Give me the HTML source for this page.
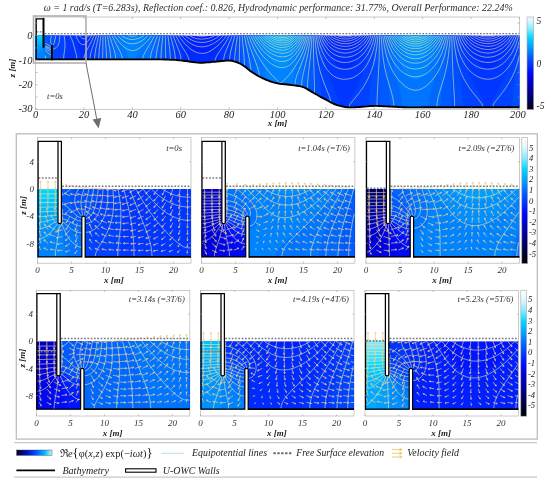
<!DOCTYPE html>
<html><head><meta charset="utf-8"><title>U-OWC potential field</title>
<style>
html,body{margin:0;padding:0;background:#fff}
body{width:550px;height:482px;overflow:hidden}
svg{display:block}
text{font-family:"Liberation Serif","DejaVu Serif",serif;font-style:italic;fill:#222}
.tk{font-size:9px;fill:#333}
.tk2{font-size:10.5px;fill:#222}
.ax{font-size:9px;font-weight:bold;fill:#222}
.tl{font-size:8.6px;fill:#333}
.cb{font-size:9.5px;fill:#222}
.cbs{font-size:8.6px;fill:#222}
.ti{font-size:9.4px;fill:#2a2a2a}
.lg{font-size:10px;fill:#222}
</style></head><body>
<svg width="550" height="482" viewBox="0 0 550 482">
<rect width="550" height="482" fill="#fff"/>
<text class="ti" x="43.7" y="10.7" textLength="469" lengthAdjust="spacingAndGlyphs">ω = 1 rad/s (T=6.283s), Reflection coef.: 0.826,  Hydrodynamic performance: 31.77%, Overall Performance: 22.24%</text>
<rect x="35.6" y="17.0" width="483.8" height="92.3" fill="#fff" stroke="#b4b4b4" stroke-width="0.7"/>
<clipPath id="ctop"><path d="M35.6 35.5L35.6 59.4L38.0 59.4L40.4 59.4L42.9 59.4L45.3 59.4L47.7 59.4L50.1 59.4L52.5 59.4L55.0 59.4L57.4 59.4L59.8 59.4L62.2 59.4L64.6 59.4L67.0 59.4L69.5 59.4L71.9 59.4L74.3 59.4L76.7 59.4L79.1 59.4L81.6 59.4L84.0 59.4L86.4 59.4L88.8 59.4L91.2 59.4L93.7 59.4L96.1 59.4L98.5 59.4L100.9 59.4L103.3 59.4L105.8 59.4L108.2 59.4L110.6 59.4L113.0 59.4L115.4 59.4L117.8 59.4L120.3 59.4L122.7 59.4L125.1 59.4L127.5 59.4L129.9 59.4L132.4 59.4L134.8 59.4L137.2 59.4L139.6 59.4L142.0 59.4L144.5 59.4L146.9 59.4L149.3 59.4L151.7 59.4L154.1 59.4L156.6 59.4L159.0 59.4L161.4 59.4L163.8 59.5L166.2 59.5L168.6 59.6L171.1 59.7L173.5 59.8L175.9 59.9L178.3 60.2L180.7 60.4L183.2 60.7L185.6 61.0L188.0 61.3L190.4 61.7L192.8 62.0L195.3 62.4L197.7 62.6L200.1 62.7L202.5 62.7L204.9 62.5L207.3 62.4L209.8 62.2L212.2 61.9L214.6 61.7L217.0 61.5L219.4 61.3L221.9 61.0L224.3 60.8L226.7 60.6L229.1 60.5L231.5 60.7L234.0 61.3L236.4 62.1L238.8 63.0L241.2 64.2L243.6 65.7L246.1 67.6L248.5 69.5L250.9 71.4L253.3 73.0L255.7 74.5L258.1 75.9L260.6 77.2L263.0 78.4L265.4 79.5L267.8 80.4L270.2 81.3L272.7 82.1L275.1 82.8L277.5 83.3L279.9 83.7L282.3 84.0L284.8 84.2L287.2 84.5L289.6 84.8L292.0 85.1L294.4 85.4L296.9 85.7L299.3 86.1L301.7 86.6L304.1 87.4L306.5 88.6L308.9 90.1L311.4 91.6L313.8 93.0L316.2 94.3L318.6 95.7L321.0 97.1L323.5 98.4L325.9 99.7L328.3 101.0L330.7 102.3L333.1 103.5L335.6 104.5L338.0 105.3L340.4 105.9L342.8 106.5L345.2 107.0L347.7 107.3L350.1 107.4L352.5 107.4L354.9 107.3L357.3 107.1L359.7 107.0L362.2 106.8L364.6 106.6L367.0 106.4L369.4 106.1L371.8 106.0L374.3 105.9L376.7 105.9L379.1 106.0L381.5 106.1L383.9 106.2L386.4 106.4L388.8 106.5L391.2 106.6L393.6 106.7L396.0 106.8L398.5 107.0L400.9 107.1L403.3 107.2L405.7 107.3L408.1 107.4L410.5 107.4L413.0 107.4L415.4 107.4L417.8 107.4L420.2 107.4L422.6 107.3L425.1 107.3L427.5 107.3L429.9 107.3L432.3 107.3L434.7 107.3L437.2 107.2L439.6 107.2L442.0 107.2L444.4 107.2L446.8 107.2L449.2 107.2L451.7 107.2L454.1 107.2L456.5 107.2L458.9 107.2L461.3 107.2L463.8 107.2L466.2 107.2L468.6 107.2L471.0 107.2L473.4 107.2L475.9 107.2L478.3 107.2L480.7 107.2L483.1 107.2L485.5 107.2L488.0 107.2L490.4 107.2L492.8 107.2L495.2 107.2L497.6 107.2L500.0 107.2L502.5 107.2L504.9 107.2L507.3 107.2L509.7 107.2L512.1 107.2L514.6 107.2L517.0 107.2L519.4 107.2L519.4 35.5z"/></clipPath>
<g clip-path="url(#ctop)">
<rect x="35.6" y="35.5" width="483.8" height="73.8" fill="#0015ff"/>
<path fill="#0020ff" d="M35.6 108.4l483.8 0 0-72.9-25 0-2.8 1.6-1.2 0.4-2.4 0.3-2.5-0.3-1.2-0.3-3.1-1.7-129.6 0-2.7 1.6-1.2 0.4-2.5 0.3-2.4-0.3-1.2-0.4-2.8-1.6-127 0-3.2 2.2-2.5 1-2.4 0.6-2.4 0.2-2.4-0.4-2.4-0.8-2.5-1.5-1.6-1.3-156.8 0 0 71.7z"/>
<path fill="#002bff" d="M35.6 108.4l483.8 0 0-72.9-15.4 0-1.5 3-2.5 4-1.2 1.6-2.4 2.8-1.2 1.1-2.4 1.6-2.4 1-2.4 0.4-2.5-0.3-2.4-0.9-2.4-1.5-1.2-1-2.4-2.5-2.5-3.2-3.4-6.1-110.2 0-1.8 3.6-1.9 3.1-1.2 1.7-2.4 2.9-1.2 1.1-2.4 1.7-2.4 1-2.5 0.4-2.4-0.3-2.4-1-2.4-1.7-1.2-1.1-2.5-2.9-1.2-1.8-1.7-3.1-1.6-3.6-109.2 0-2.4 4-2.4 3.6-4.8 5.9-2.4 2.4-2.5 1.9-1.2 0.7-2.4 0.7-1.2 0-2.4-0.7-2.4-1.6-2.5-2.3-2.4-2.9-2.4-3.3-2.4-3.7-2.7-4.7-98.9 0-1.2 0.2-0.4-0.2-48 0 0 71.7z"/>
<path fill="#0036ff" d="M35.6 108.4l25.4 0 0-47.8 4.8-0.4 10.9-0.4 4.3-0.4-0.3-3.6-0.7-3.6-4.3-16.7-40.1 0 0 71.7zM86.7 108.4l98 0-0.2-50.2-0.5-3.6-1.1-4.8-4.6-14.3-86.4 0-4.8 16.7-1 6 0 1.2 0.6 1.2 0 46.6zM219.9 108.4l299.5 0 0-72.9-9.4 0-2.7 8.7-2.2 5.6-2.6 5.7-2.5 4-2.4 3.3-1.2 1.3-2.4 2.1-2.4 1.4-2.4 0.7-1.2 0.1-2.5-0.3-1.2-0.4-2.4-1.2-2.4-1.9-1.2-1.2-2.4-3-3.7-5.9-2.4-5.1-2.4-6.4-2.3-7.5-98.3 0-2.2 7.5-2.4 6.6-2.5 5.4-2.4 4.3-2.4 3.3-1.2 1.4-2.4 2.2-2.4 1.4-2.5 0.7-1.2 0.1-2.4-0.3-1.2-0.4-2.4-1.3-2.4-2.2-1.2-1.4-2.5-3.5-2.4-4.6-2.4-6-2.3-7.2-1.5-6-97.7 0-5.2 15.5-0.9 3.6-0.6 3.6-0.2 3.6 0 45.4z"/>
<path fill="#0042ff" d="M35.6 108.4l17.5 0 0-47.8 1.9-0.6 1.2-0.1 8.9-0.5 0.7-13.1-0.3-4.8-0.9-6-29 0 0 71.7zM93.6 108.4l82.9 0 0-51.4-0.9-8.4-2.3-13.1-77 0-2 13.1-0.7 8.4 0 50.2zM228.5 108.4l111.3 0 0-3.6-0.9-3.6-7-16.4-2.4-6.7-2.7-9.1-2.1-8.3-1.3-6.1-1.7-9.5-1.5-9.6-88.2 0-2.4 13.1-1 8.4-0.1 50.2zM347 108.4l139 0-0.2-2.4-0.9-2.4-6.6-11.4-3.7-6.9-3.6-8-2.4-6.4-2.4-7.5-2.4-9.1-2-9.2-1.7-9.6-88.6 0-1.6 9.6-1.7 8.4-2.4 9.7-2.4 7.9-2.4 6.7-2.5 5.7-3.6 7.5-6.5 11.4-1 2.4-0.4 2.4zM489.8 108.4l29.6 0 0-72.9-4.3 0-1.7 9.7-2.5 10.8-2.4 8.8-2.4 7.3-2.4 6.3-2.4 5.5-3.7 7.3-6.8 12.4-0.9 2.4-0.1 1.2z"/>
<path fill="#004fff" d="M35.6 108.4l11.1 0 0-47.8 4.6-0.2 1-1 0.1-13.1 0.1-0.4 1.5-0.8 0.9-1.2 0.5-1.2 1-3.6 0.5-3.6-21.3 0 0 71.7zM99.1 108.4l70.8 0 0-51.4-0.4-8.4-0.9-13.1-68.4 0-0.8 13.1-0.3 8.4 0 50.2zM235.2 108.4l85.8 0 0-13.2-0.3-8.3-2.9-33.5-1.3-17.9-79.8 0-1.1 14.3-0.4 8.4 0 49zM369 108.4l94 0-0.1-6-0.6-7.2-4.5-35.8-2.1-23.9-79.9 0-2.1 23.9-4.1 34.7-0.5 7.1-0.1 6zM512.2 108.4l7.2 0 0-68.3-2.2 21.7-4.2 32.3-0.6 7.1-0.2 6z"/>
<path fill="#005bff" d="M35.6 108.4l5 0 0-47.8 10.7-0.5 0.8-0.7-0.1-8.4-0.5-4.7-0.2-0.8-0.8-0.4-2-2.4-1.3-2.4-0.2-1.2 0.3-1.2 1.4-2.4-13.1 0 0 71.7zM104.4 108.4l59.2 0 0-51.4 0.4-21.5-59.9 0 0.3 21.5 0 50.2zM241.5 108.4l71.6 0 0-72.9-72 0 0.4 25.1 0 46.6zM379.8 108.4l71.7 0 0-72.9-71.7 0 0 71.7z"/>
<path fill="#0068ff" d="M109.9 108.4l47.2 0 0-51.4 0.6-8.4 1.5-13.1-51.1 0 1.3 13.1 0.5 8.4 0 50.2zM248.2 108.4l58.5 0 0-21.5 0.2-8.4 2.8-43-64.4 0 2.1 19.1 0.7 9.6 0.1 43zM390 108.4l51 0 0.1-7.2 0.5-7.1 3.9-34.7 2-23.9-63.7 0 1.9 23.9 3.6 33.5 0.5 7.1 0.2 7.2zM35.6 59.4l0 1.1 15.7-0.6 0.5-0.5-0.1-7.2-0.4-3.6-1.2-0.2-1.2-0.3-3.6-1.9-1.2-0.2-0.1-10.5-8.4 0 0 22.7z"/>
<path fill="#0075ff" d="M116.4 108.4l33.1 0 0.1-51.4 0.3-3.6 0.9-4.8 3.3-13.1-41.7 0 2.9 13.1 0.7 4.8 0.4 3.6 0 50.2zM256 108.4l44.5 0 0-22.7 0.4-7.2 1-9.5 3.1-21.6 1.5-11.9-57 0 4.7 22.7 1 6 0.5 4.8 0.3 4.7 0 33.5zM402.7 108.4l25.4 0 0.2-4.8 0.9-6 1.5-5.9 5.2-18.4 2.5-9.7 2.8-13.8 2.3-14.3-55.8 0 2.3 14.8 2.4 12.1 2.4 10.1 5.4 19.2 1.4 5.9 0.8 4.8 0.3 4.8zM35.6 59.4l0 0.7 15.7-0.5 0.2-0.2-0.2-7.5-1.2-0.2-1.2-0.5-1.2-0.7-2.4-2.3-0.5-0.8-0.7-0.4-0.3-1.9 0-9.6-8.2 0 0 22.7z"/>
<path fill="#0083ff" d="M128.9 108.4l7 0 0.1-50.2 0.8-2.4 1.2-2.4 6.5-10.9 3.6-7-30.4 0 3.8 8.1 5.4 9.8 1.2 2.4 0.6 2.4 0.2 1.2 0 47.8zM266.1 108.4l26.8 0 0-23.9 0.4-6 1.7-8.3 5.5-21.8 2.6-12.9-49.2 0 3 10.3 6.5 19.6 1.3 4.8 0.8 3.5 0.5 3.6 0.1 2.4 0 27.5zM413.7 79.7l1.7 0.2 1.2-0.1 2.4-0.8 1.2-0.8 1.2-0.9 2.4-2.6 3.7-5.3 3.2-6.4 2.8-7.1 3.1-9.6 2.7-10.8-47.5 0 1.8 7.8 2.4 8.5 2.5 7 2.4 5.7 2.4 4.8 3.6 5.4 2.4 2.5 1.2 1 2.5 1.3zM35.6 59.4l0 0.3 10.2-0.3-0.2-2.4-1.1-4.8-0.9-5.9 0.1-10.8-8.1 0 0 22.7z"/>
<path fill="#0090ff" d="M279.9 67.8l1.2 0.1 1.2-0.1 1.2-0.4 1.3-0.7 2.4-2.3 2.4-3.3 2.4-4.6 2.4-5.6 2.5-6.6 2.5-8.8-41.1 0 2.3 5.4 2.4 5.3 3.6 6.9 2.4 4 2.5 3.5 2.4 2.9 2.4 2.3 2.4 1.6zM411.7 60.6l2.5 0.8 1.2 0.1 2.4-0.4 2.4-1.1 1.2-0.9 2.4-2.2 1.9-2.3 1.8-2.7 2.4-4.4 2.4-5.4 2.4-6.6-38.5 0 3.5 9.1 3.6 7.2 1.9 2.8 1.7 2.2 1.2 1.3 2.4 1.9zM35.6 54.6l1.2-0.1 1.2-0.5 1.2-0.9 1.2-1.3 2.5-3.9 0.4-1.6 0.3-10.8-8 0 0 17.9zM128.2 36.7l1.7 0.7 1.3 0.2 2.4 0 2.4-0.6 2.6-1.5-12.3 0 1.2 0.8z"/>
<path fill="#009eff" d="M279.7 52.2l1.4 0.1 2.4-0.5 2.5-1.3 2.4-2.4 1.2-1.5 2.4-4 3.3-7.1-31.9 0 2 3.5 2.4 3.7 3.7 4.4 3.6 3.2 2.4 1.3 1.2 0.4zM35.6 48.6l0 1.2 2.4-0.4 4.9-2.6 0.3-2.9 0.3-8.4-7.9 0 0 11.9zM412.1 47.5l2.1 0.7 2.4 0 2.4-0.8 2.4-1.4 2.4-2.3 1.3-1.4 2.4-3.4 1.8-3.3-27.7 0 2.9 5 2.4 3.1 2.4 2.2 2.5 1.5z"/>
<path fill="#00abff" d="M35.6 46.3l0 0.4 1.2-0.1 6.1-1 0.5-10.1-7.8 0 0 9.6zM278.4 41.5l2.7 0.2 2.4-0.6 1.3-0.6 2.4-1.9 2.6-3.1-20.1 0 1.8 1.8 2.4 2 2.4 1.4 1.2 0.5zM412 36.7l2.2 0.6 2.4 0 2.4-0.7 1.9-1.1-11 0 1.9 1.1z"/>
<path fill="#00b8ff" d="M35.6 42.7l0 1.1 7.3-0.3 0.3-8-7.6 0 0 6z"/>
<path fill="#00c4ff" d="M35.6 40.3l0 1 7.3-0.2 0.2-5.6-7.5 0 0 3.6z"/>
<path fill="#00d1ff" d="M35.6 37.9l0 0.8 7.3 0 0.1-3.2-7.4 0 0 1.2z"/>
<path fill="#10daff" d="M35.6 35.5l0 0.7 7.3 0 0-0.7-6.1 0z"/>
<path fill="none" stroke="#f0f0a8" stroke-opacity="0.62" stroke-width="0.9" d="M353.4 35.5l-2.1 0.7-2.4 0.5-3.7 0.3-2.4-0.1-2.4-0.4-3.4-1M496.2 35.5l-3.4 1-2.4 0.4-2.4 0.1-2.5-0.1-2.4-0.3-3.9-1.1M357.4 35.5l-2.5 1.4-3.6 1.3-2.4 0.6-3.7 0.2-3.6-0.2-2.4-0.5-3.6-1.4-2.5-1.4M500.3 35.5l-2.7 1.4-3.6 1.3-2.4 0.6-3.6 0.2-3.7-0.2-2.4-0.5-3.6-1.1-3.4-1.7M360.5 35.5l-3.2 2.3-3.6 1.8-3.6 1.1-2.4 0.4-2.5 0.2-2.4-0.2-2.4-0.3-3.6-1.2-3.7-1.8-2.9-2.3M503.5 35.5l-3.5 2.4-3.6 1.7-3.6 1.1-2.4 0.4-2.4 0.2-2.5-0.2-2.4-0.3-3.6-1-3.6-1.6-2.5-1.4-1.7-1.3M208.3 35.5l-3.4 0.7-3.6 0.1-2.4-0.1-3.4-0.7M363 35.5l-3.3 3-2.4 1.7-2.4 1.3-2.4 1-2.4 0.7-2.4 0.4-2.5 0.1-2.4-0.1-2.4-0.4-2.4-0.7-2.4-1-3.7-2.2-2.4-2-1.7-1.8M506.1 35.5l-3.6 3.2-2.5 1.6-2.4 1.3-2.4 0.9-2.4 0.7-2.4 0.4-2.4 0.1-2.5-0.1-2.4-0.4-2.4-0.6-2.4-0.8-2.4-1.1-2.5-1.5-2.4-1.8-2-1.9M215.1 35.5l-2.9 1.5-3.6 1.2-3.7 0.7-3.6 0.2-3.6-0.3-2.4-0.6-2.5-0.9-3.6-1.8M365.3 35.5l-1.9 2.4-2.4 2.3-2.5 1.9-2.4 1.5-2.4 1.1-2.4 0.9-2.4 0.5-3.7 0.3-3.6-0.3-2.4-0.5-2.4-0.8-2.5-1.2-2.4-1.5-2.4-2.1-2.4-2.7-1.3-1.8M508.5 35.5l-2.4 2.8-2.4 2.2-2.4 1.8-2.5 1.4-2.4 1.1-2.4 0.8-2.4 0.5-3.6 0.3-3.7-0.3-2.4-0.4-3.6-1.2-2.4-1.1-2.5-1.5-2.4-1.8-2.4-2.3-2-2.3M219.7 35.5l-3.9 2.8-2.4 1.3-2.4 1.1-2.4 0.8-2.5 0.6-2.4 0.3-2.4 0.1-3.6-0.4-2.4-0.6-2.5-0.9-3.6-2-2.4-1.6-1.8-1.5M367.4 35.5l-1.6 2.4-2.4 3-2.4 2.4-3.7 2.7-2.4 1.3-3.6 1.3-2.4 0.6-3.7 0.3-3.6-0.3-2.4-0.5-3.6-1.4-2.5-1.3-2.4-1.8-2.4-2.4-2.4-3.1-2-3.2M510.7 35.5l-2.2 3.1-2.4 2.7-2.4 2.2-3.7 2.6-3.6 1.8-2.4 0.8-2.4 0.5-3.6 0.3-3.7-0.3-3.6-0.8-3.6-1.3-2.5-1.3-3.6-2.6-2.4-2.3-2.4-2.9-1.8-2.5M89 35.5l-1.4 1.5-1.2 0.9-1.2 0.7-1.2 0.2-1.2-0.2-1.2-0.6-1.2-1.1-1.1-1.4M223.3 35.5l-2.6 2.8-2.5 2-2.4 1.8-3.6 2.1-3.6 1.5-2.5 0.7-2.4 0.4-2.4 0-2.4-0.2-2.4-0.5-2.5-0.9-2.4-1.2-2.4-1.5-2.4-1.8-2.4-2.2-2.8-3M369.4 35.5l-2.4 4.2-2.4 3.4-2.4 2.6-3.7 3-2.4 1.5-3.6 1.6-3.6 1-3.7 0.3-3.6-0.3-3.6-0.9-3.7-1.6-2.4-1.6-2.4-2.1-1.2-1.2-2.1-2.7-2.3-3.6-1.8-3.6M512.8 35.5l-1.9 3.2-2.4 3.4-2.4 2.7-3.6 3.2-3.7 2.3-3.6 1.6-3.6 0.9-3.6 0.3-3.7-0.3-3.6-0.8-3.6-1.4-3.7-2.1-3.6-2.9-2.4-2.5-2.4-3.2-2.6-4.4M91.7 35.5l-2.9 4.6-2.4 2.8-1.2 0.9-1.2 0.7-1.2 0.2-1.2-0.3-0.9-0.5-1.6-1.7-1.7-3.1-1.5-3.6M226.6 35.5l-2.3 3.2-3.6 4.1-2.5 2.4-3.6 3.1-3.6 2.4-2.4 1.3-2.5 0.9-1.2 0.3-2.4 0.2-3.6-0.3-2.4-0.7-3.7-1.8-2.4-1.7-2.4-2.1-3.6-3.6-3.7-4.5-2.2-3.2M371.2 35.5l-1.8 4.1-2.4 4.3-2.4 3.3-3.6 3.8-3.7 2.7-3.6 1.9-3.6 1.1-2.4 0.4-2.5 0.2-3.6-0.3-3.6-0.9-3.7-1.6-2.4-1.6-1.2-1-2.4-2.3-1.2-1.5-2.4-3.5-2.4-4.7-1.8-4.4M514.8 35.5l-2.7 5.4-2.4 3.8-2.4 3-3.6 3.6-3.7 2.5-3.6 1.8-3.6 1.1-2.4 0.4-2.4 0.2-2.5-0.1-2.4-0.4-3.6-1-3.6-1.6-3.7-2.4-3.6-3.2-2.9-3.5-1.9-2.9-1.2-2.2-2.2-4.5M64.1 108.4l0-47.8 12.8-1.2-0.2-2.4-0.4-2.4-3.2-11.9-1.2-3.1-2-4.1M189.1 108.4l0-46.6-0.2-2.4-0.8-2.4-1.8-3.6-6.8-10.8-3.8-7.1M94.2 35.5l-3 6.4-5.4 10.3-1.4 3.6-0.5 2.4-0.1 2.4 0 47.8M229.5 35.5l-1.6 3-2.4 4.1-8.1 12-1.3 2.4-0.8 2.4-0.3 2.4 0 46.6M373 35.5l-2.4 6.5-2.4 4.9-2.4 3.8-1.2 1.6-2.4 2.7-3.7 3.1-2.4 1.5-2.4 1.1-3.6 1.2-2.4 0.4-2.5 0.2-2.4-0.1-2.4-0.4-3.6-1.1-3.7-2-2.4-1.8-1.2-1.1-2.4-2.8-1.2-1.6-2.4-4.1-2.5-5.5-2-6.5M516.7 35.5l-2.1 5.5-2.7 5.3-1.4 2.3-2 2.7-3.6 4-3.6 2.9-2.5 1.5-2.4 1.1-2.4 0.8-2.4 0.6-3.6 0.3-2.5-0.2-2.4-0.3-2.4-0.6-2.4-0.9-2.4-1.2-2.5-1.5-3.6-2.9-3.6-4.1-2.4-3.6-1.2-2.1-1.8-3.6-2.2-6M57.2 108.4l0-47.8 1.4-0.5 1.2-0.3 3.8-0.4 0.2-3.6 1-7.2 0.2-3.5-0.2-4.8-0.7-4.8M181.1 108.4l0-47.8-0.2-2.4-0.6-3.6-1.2-3.6-6.1-15.5M96.5 35.5l-4.8 14.3-1 3.6-0.6 3.6-0.1 2.4 0 49M232.3 35.5l-2 5-4.4 10.5-1.3 3.6-0.8 3.6-0.1 2.4 0 47.8M374.7 35.5l-1.9 7.2-1.3 3.6-1.5 3.5-1.8 3.6-1.2 2-1.9 2.8-1.7 2.1-3.7 3.5-2.4 1.7-2.4 1.4-2.4 1-2.4 0.8-2.4 0.4-2.5 0.2-2.4-0.1-2.4-0.4-2.4-0.7-2.4-1-3.7-2.3-2.4-2.1-1.2-1.3-1.6-2-2-3.1-2.4-4.8-2.5-6.5-1.2-4.4-1.1-5.1M518.5 35.5l-1.3 4.8-1.2 3.6-2.6 6.2-1.9 3.3-1.8 2.8-3.6 4.5-3.6 3.3-2.5 1.6-2.4 1.4-2.4 1-2.4 0.7-2.4 0.4-2.4 0.1-2.5-0.1-2.4-0.4-2.4-0.6-2.4-0.9-2.4-1.2-2.5-1.5-2.4-1.9-2.4-2.4-1.7-2-1.9-2.6-2.1-3.4-1.6-3.1-2.4-6.2-2.1-7.4M51.9 108.4l0-47.8 0.5-1.2 0.1-10.3 1.2-0.1 1.3-0.5 1.2-0.9 1.2-1.3 0.7-1.2 0.5-1.2 0.7-2.4 0.3-2.4 0.2-3.6M175.3 108.4l0-47.8-0.1-3.6-0.4-3.6-0.7-3.6-3.7-14.3M519.4 40.6l-2 8-1.2 3.6-1.6 4.3-2 4.1-1.7 2.9-3.6 5.1-2.4 2.7-2.4 2.2-2.5 1.8-2.4 1.4-2.4 1.1-3.6 1.1-2.4 0.3-2.5 0-2.4-0.3-3.6-0.9-2.4-1-2.4-1.3-2.5-1.7-2.4-2-2.4-2.4-2.4-3.1-1.6-2.3-2-3.6-1.7-3.6-1.4-3.6-1.2-3.6-1.3-4.7-1.9-9.6M98.7 35.5l-3.1 14.3-0.5 3.6-0.4 3.6-0.1 51.4M234.9 35.5l-4.1 15.5-0.7 3.6-0.4 3.6 0 50.2M376.4 35.5l-0.9 5.2-1.2 5.6-1.2 4.4-1.3 3.7-1.5 3.8-2.1 4.3-1.7 2.9-1.9 2.7-2.4 2.9-2.5 2.3-2.4 1.9-2.4 1.4-2.4 1.2-2.4 0.7-2.4 0.5-3.7 0.3-2.4-0.2-2.4-0.6-2.4-0.8-2.5-1.2-2.4-1.7-2.4-2.3-2.4-2.9-1.2-1.8-2.1-3.6-1.5-3.4-2.5-6.7-1.2-4.5-1-4.5-1.5-9.6M47.2 108.4l0-47.8 4.1-0.1 1-1.1 0-13.1 0.2-1 0.5-0.2 0.8-1.2 0.5-1.2 1.5-7.2M170.4 108.4l-0.1-51.4-0.5-7.2-1.9-14.3M330.7 108.4l-0.1-7.2-0.5-2.4-1.2-3.6-4.2-10.4-2.4-6.7-2.1-6.7-1.6-6.4-1.2-6-1.2-7.7-0.8-7.4-0.7-8.4M482.8 108.4l-0.1-2.4-1.1-2.4-2.6-3.6-6.8-8.3-3.6-5-3.6-5.9-1.9-3.5-1.8-3.9-2.4-6.7-1.2-4.1-1.2-5-1.8-10.2-1.3-11.9M519.4 55.1l-1.2 5.3-1.8 6.2-1.8 5-2.5 5.5-2.4 4.5-3.6 5.8-3.6 5-7.9 10-1.3 2.4-0.4 1.2-0.1 2.4M100.8 35.5l-1.6 14.3-0.4 7.2-0.1 51.4M237.4 35.5l-2.1 15.5-0.7 7.2 0 50.2M378 35.5l-1.1 10.8-1.5 9.5-1.1 5.2-1.2 4.6-2.5 7.2-1.2 2.9-2.4 5.1-3.6 6.2-4.9 6.8-8 9.8-0.7 1.2-0.5 1.2-0.2 2.4M165.7 108.4l0-51.4-0.4-21.5M314.5 108.4l0-21.5-0.9-29.9-0.3-21.5M454.7 108.4l-0.3-10.8-1.3-21.5-0.6-11.9-0.7-28.7M45.3 60.5l6-0.2 0.8-0.9 0-8.4-0.3-4.7-0.2-1.2-0.7-2.4-0.3-2.4 0.3-2.4 0.7-2.4M103 35.5l-0.3 21.5-0.1 51.4M239.8 35.5l-0.5 25.1 0 47.8M379.6 35.5l-0.6 27.5-1.8 33.4-0.3 12M161 108.4l0-51.4 0.4-7.2 1.4-14.3M307.4 108.4l0-20.3 0.2-6 0.6-6 2.5-22.7 0.7-8.3 0.6-9.6M436.8 108.4l0.2-4.8 1-6 1.3-4.7 4.8-15.6 1.5-6 1.2-5.7 1.1-6.2 0.9-7.2 0.8-8.3 0.6-8.4M45.3 60.3l6-0.2 0.7-0.7-0.1-8.4-0.2-2.4-0.4-2.3-1.2-0.2-3.6-2.1-1.2-0.6M105.1 35.5l1.1 14.3 0.4 7.2 0 51.4M242.1 35.5l1.8 19.1 0.5 8.4 0.1 45.4M381.1 35.5l1.2 15.5 0.9 7.2 0.9 6 1 5.3 1.6 6.6 4.9 16.8 1.2 4.7 1 6 0.1 4.8M156 108.4l0.1-51.4 0.4-3.6 0.6-3.6 3.1-14.3M301.6 108.4l0-22.7 0.3-4.8 1.3-7.2 3.3-13.7 1.7-7.8 1.4-8.3 1-8.4M45.3 60.1l6-0.1 0.5-0.6-0.1-7.2-0.4-4.1-1.2-0.1-1.2-0.4-3.6-1.8M107.3 35.5l2.6 14.3 0.8 7.2 0.1 51.4M244.4 35.5l1.7 8.8 3.5 16.3 1.1 7.2 0.1 3.6 0 37M382.7 35.5l0.8 6 1.1 5.9 1 4.8 1.3 4.8 1.6 4.8 1.5 3.7 1.6 3.5 2 3.8 2.4 3.8 2.5 3.2 2.4 2.7 3.6 3.3 2.4 1.7 3.6 1.8 2.5 0.7 2.4 0.3 2.4-0.3 2.4-0.6 3.6-1.8 2.5-1.7 3.6-3.3 2.4-2.6 2.4-3.2 2.5-3.6 2.4-4.4 1.5-3.4 1.9-4.8 1.4-4.2 1.2-4.5 1.2-5.4 1.8-11M150.4 108.4l0-49 0.1-2.4 0.7-3.6 1-3.6 5.3-14.3M295 108.4l0-22.7 0.1-2.4 0.3-2.4 0.5-2.4 1.1-3.6 5.9-14.8 2.4-7 2.2-8 1.8-9.6M45.3 60l6-0.2 0.4-0.4-0.1-6-0.3-3.9-1.2-0.1-1.2-0.4-3.6-2.2M109.5 35.5l4.9 15.5 0.8 3.6 0.3 2.4 0.2 2.4 0 49M246.5 35.5l1.3 4.8 1.9 5.8 7.6 20.5 1.1 3.6 0.6 2.3 0.4 3.6 0 32.3M384.3 35.5l0.8 4.3 1.3 4.8 2.4 7.4 1.6 3.8 2 4 1.9 3.2 1.7 2.4 2.5 2.9 2.4 2.4 2.4 1.9 2.4 1.6 2.4 1.1 2.4 0.9 2.5 0.5 2.4 0.2 2.4-0.2 2.4-0.5 2.4-0.8 2.5-1.2 2.4-1.5 2.4-1.9 2.4-2.4 2.4-2.8 1.9-2.6 1.8-2.8 1.7-3.2 1.9-4.2 1.2-3.1 1.5-4.6 1.2-4.8 1.1-4.8M142.8 108.4l0.1-50.2 0.5-2.4 1.6-3.6 6.7-11.1 3-5.6M45.3 59.8l6-0.2 0.2-0.2-0.2-8-1.2-0.2-1.2-0.4-1.2-0.7-2.4-2.2M112 35.5l2.2 5 5.6 10.5 1.2 2.4 0.8 2.4 0.5 2.4 0.1 50.2M248.6 35.5l2.3 6.1 3.1 7 2.9 5.6 3.7 6 4.8 6.9 3.6 4.7 3.7 4.1 7.2 7.3 1.2-0.2 0.9-0.9 0.3-0.2 3.7-3.5 3.6-3.9 4.8-6.9 3.7-5.8 3.6-6.9 2.4-5.8 2.1-6.4 1.8-7.2M385.8 35.5l2.2 7.2 2.4 5.9 1.8 3.6 1.4 2.3 1.7 2.5 1.9 2.5 3.7 3.6 2.4 1.9 2.4 1.4 2.4 1.2 2.4 0.8 2.5 0.4 2.4 0.2 2.4-0.2 2.4-0.4 2.4-0.8 2.5-1.1 2.4-1.5 2.4-1.8 3.6-3.5 3.7-4.8 1.6-2.7 1.9-3.6 2.5-6.1 2.2-7M45.3 59.6l6.1-0.2-0.1-4.9-1.2-0.2-1.2-0.5-1.2-0.9-1.2-1.4-1.2-1.9M114.6 35.5l2 3.2 2.5 3.2 2.4 2.7 2.4 2.3 3.6 2.4 2.4 0.9 2.5 0.4 2.4-0.3 2.4-0.9 2.4-1.4 2.4-1.8 2.5-2.2 2.4-2.5 2.4-2.8 2.3-3.2M250.7 35.5l2.6 5.7 3.6 6.5 3.7 5.3 2.4 3 2.4 2.7 3.6 3.4 2.5 1.8 2.4 1.5 2.4 1.1 2.4 0.8 2.4 0.4 1.2 0 2.5-0.3 1.2-0.4 2.4-1.1 1.2-0.7 3.6-3.5 2.4-2.9 3.7-5.3 2.4-4.5 2.7-6.3 2.3-7.2M387.4 35.5l2.6 6.7 2.4 4.8 2.4 3.8 3.7 4.4 3.6 3.2 2.4 1.7 2.4 1.2 3.6 1.3 2.5 0.5 2.4 0.1 2.4-0.1 2.4-0.5 3.6-1.2 2.5-1.3 2.4-1.6 3.6-3.1 3.6-4.3 3.2-4.8 2.3-4.8 2.3-6M45.3 59.4l0.6 0-0.1-1.2-0.5-2.6M117.7 35.5l1.4 1.6 2.4 2.3 3.6 2.5 2.4 1.1 1.2 0.3 1.2 0.3 2.5 0.2 3.6-0.4 3.6-1.4 2.4-1.4 2.5-1.7 3.6-3.4M252.7 35.5l3 5.5 3.7 5.4 3.6 4.4 3.6 3.6 3.6 2.8 2.5 1.5 2.4 1.2 3.6 1.2 3.6 0.4 2.5-0.3 1.2-0.2 2.4-0.9 1.2-0.6 2.4-2 2.4-2.3 3.7-4.6 2.4-3.9 2.4-4.8 2.5-6.4M389 35.5l2.2 4.8 2.7 4.8 3.3 4.3 3.7 3.6 3.6 2.5 3.6 1.8 3.7 1 3.6 0.4 2.4-0.2 2.4-0.4 3.6-1.3 3.7-2 3.6-2.8 3.6-3.8 2.5-3.3 2.4-4 2.5-5.4M121.5 35.5l2.4 1.6 2.4 1.2 3.6 1 2.5 0.2 2.4-0.2 3.6-0.9 2.4-1.1 3-1.8M254.7 35.5l3.1 4.8 2.8 3.6 3.6 4 3.6 3.2 3.7 2.5 3.6 1.8 3.6 1.1 3.6 0.4 3.7-0.4 3.6-1.4 2.4-1.8 2.4-2.2 2.5-2.8 2.4-3.4 2.4-4.2 2.3-5.2M390.6 35.5l2.7 4.8 2.7 3.9 2.5 2.8 3.6 3.2 2.4 1.6 3.6 1.7 3.7 1 3.6 0.4 3.6-0.4 3.6-1 3.7-1.7 3.6-2.5 3.6-3.4 2.4-3 2.5-3.6 2-3.8M127.9 35.5l2 0.4 2.5 0.2 2.4-0.2 2.2-0.4M256.7 35.5l2.7 3.6 3.6 4.2 2.4 2.3 3.6 2.9 3.7 2.2 2.4 1.1 3.6 1.1 3.6 0.4 3.7-0.4 2.4-0.8 1.2-0.5 1.2-0.8 2.4-2 2.4-2.4 2.5-3 2.4-3.8 2.1-4.1M392.3 35.5l2.5 3.9 2.4 3.1 2.5 2.4 3.6 2.9 2.4 1.4 3.6 1.5 3.7 0.8 2.4 0.1 3.6-0.3 3.6-1 2.5-1.1 3.6-2.2 2.4-2 2.4-2.4 2.4-2.9 2.8-4.2M258.8 35.5l3 3.6 2.4 2.5 3.6 3 2.4 1.7 3.7 1.9 2.4 0.9 3.6 0.9 2.4 0.2 2.5-0.2 3.6-0.9 1.2-0.5 2.4-1.7 2.4-2.2 2.5-2.6 2.4-3.3 1.9-3.3M394.1 35.5l1.9 2.7 2.5 2.7 2.4 2.3 3.6 2.5 2.4 1.2 2.4 0.9 2.5 0.6 3.6 0.4 3.6-0.4 2.4-0.6 2.4-0.8 3.7-2 2.4-1.8 2.4-2.1 2.4-2.7 2.2-2.9M260.8 35.5l3.4 3.5 2.4 2.1 2.4 1.7 2.5 1.5 2.4 1.2 3.6 1.3 2.4 0.5 2.4 0.2 2.5-0.2 2.4-0.5 2.4-0.9 1.2-0.8 2.4-1.8 2.4-2.4 2.5-2.9 1.6-2.5M395.9 35.5l1.3 1.6 2.5 2.5 2.4 2 2.4 1.6 2.4 1.2 2.4 0.9 2.5 0.6 3.6 0.3 3.6-0.3 2.4-0.6 2.4-0.9 2.5-1.2 2.4-1.6 2.4-1.9 2.4-2.4 1.6-1.8M263 35.5l2.4 2.3 2.4 1.9 2.4 1.6 2.5 1.3 2.4 1.1 2.4 0.8 2.4 0.4 2.4 0.2 3.7-0.3 3.6-1.2 2.4-1.7 2.4-2 2.5-2.7 1.3-1.7M397.9 35.5l1.8 1.8 2.4 2 3.6 2.2 2.4 1.1 2.4 0.8 2.5 0.4 2.4 0.1 2.4-0.1 2.4-0.4 2.4-0.8 2.5-1 3.6-2.2 2.4-2 2-1.9M265.2 35.5l3.8 2.9 2.5 1.5 2.4 1.2 3.6 1.2 2.4 0.5 2.4 0.2 3.7-0.4 3.6-1.2 3.6-2.5 3.4-3.4M400 35.5l3.3 2.6 3.6 1.9 3.6 1.3 2.5 0.4 2.4 0.2 2.4-0.2 2.4-0.4 3.6-1.2 3.7-2 3.4-2.6M267.6 35.5l3.9 2.4 3.6 1.7 3.6 1 3.6 0.4 3.7-0.3 3.6-1.2 2.4-1.6 2.8-2.4M402.4 35.5l3.3 2.1 2.4 1 3.7 1 3.6 0.4 3.6-0.4 3.6-1 2.5-1 3.4-2.1M270.3 35.5l3.6 1.8 2.4 0.9 2.4 0.7 3.6 0.3 3.7-0.3 2.4-0.7 1.2-0.5 1.2-0.7 2-1.5M405.2 35.5l2.9 1.4 2.4 0.7 2.5 0.4 2.4 0.2 2.4-0.2 2.4-0.4 2.4-0.7 3.1-1.4M273.4 35.5l4.1 1.4 2.4 0.5 2.4 0.2 2.5-0.1 2.4-0.5 2.4-0.9 1-0.6M409 35.5l2.8 0.7 3.6 0.3 3.6-0.3 2.8-0.7M277.9 35.5l2 0.4 2.4 0.2 2.5-0.2 2.1-0.4"/>
</g>
<path fill="none" stroke="#777" stroke-width="1.3" stroke-dasharray="1.7 1.5" d="M36.6 31.9H42.9M44.8 33.7H519.4"/>
<path fill="none" stroke="#000" stroke-width="1.9" stroke-linejoin="round" d="M35.6 59.4L38.0 59.4L40.4 59.4L42.9 59.4L45.3 59.4L47.7 59.4L50.1 59.4L52.5 59.4L55.0 59.4L57.4 59.4L59.8 59.4L62.2 59.4L64.6 59.4L67.0 59.4L69.5 59.4L71.9 59.4L74.3 59.4L76.7 59.4L79.1 59.4L81.6 59.4L84.0 59.4L86.4 59.4L88.8 59.4L91.2 59.4L93.7 59.4L96.1 59.4L98.5 59.4L100.9 59.4L103.3 59.4L105.8 59.4L108.2 59.4L110.6 59.4L113.0 59.4L115.4 59.4L117.8 59.4L120.3 59.4L122.7 59.4L125.1 59.4L127.5 59.4L129.9 59.4L132.4 59.4L134.8 59.4L137.2 59.4L139.6 59.4L142.0 59.4L144.5 59.4L146.9 59.4L149.3 59.4L151.7 59.4L154.1 59.4L156.6 59.4L159.0 59.4L161.4 59.4L163.8 59.5L166.2 59.5L168.6 59.6L171.1 59.7L173.5 59.8L175.9 59.9L178.3 60.2L180.7 60.4L183.2 60.7L185.6 61.0L188.0 61.3L190.4 61.7L192.8 62.0L195.3 62.4L197.7 62.6L200.1 62.7L202.5 62.7L204.9 62.5L207.3 62.4L209.8 62.2L212.2 61.9L214.6 61.7L217.0 61.5L219.4 61.3L221.9 61.0L224.3 60.8L226.7 60.6L229.1 60.5L231.5 60.7L234.0 61.3L236.4 62.1L238.8 63.0L241.2 64.2L243.6 65.7L246.1 67.6L248.5 69.5L250.9 71.4L253.3 73.0L255.7 74.5L258.1 75.9L260.6 77.2L263.0 78.4L265.4 79.5L267.8 80.4L270.2 81.3L272.7 82.1L275.1 82.8L277.5 83.3L279.9 83.7L282.3 84.0L284.8 84.2L287.2 84.5L289.6 84.8L292.0 85.1L294.4 85.4L296.9 85.7L299.3 86.1L301.7 86.6L304.1 87.4L306.5 88.6L308.9 90.1L311.4 91.6L313.8 93.0L316.2 94.3L318.6 95.7L321.0 97.1L323.5 98.4L325.9 99.7L328.3 101.0L330.7 102.3L333.1 103.5L335.6 104.5L338.0 105.3L340.4 105.9L342.8 106.5L345.2 107.0L347.7 107.3L350.1 107.4L352.5 107.4L354.9 107.3L357.3 107.1L359.7 107.0L362.2 106.8L364.6 106.6L367.0 106.4L369.4 106.1L371.8 106.0L374.3 105.9L376.7 105.9L379.1 106.0L381.5 106.1L383.9 106.2L386.4 106.4L388.8 106.5L391.2 106.6L393.6 106.7L396.0 106.8L398.5 107.0L400.9 107.1L403.3 107.2L405.7 107.3L408.1 107.4L410.5 107.4L413.0 107.4L415.4 107.4L417.8 107.4L420.2 107.4L422.6 107.3L425.1 107.3L427.5 107.3L429.9 107.3L432.3 107.3L434.7 107.3L437.2 107.2L439.6 107.2L442.0 107.2L444.4 107.2L446.8 107.2L449.2 107.2L451.7 107.2L454.1 107.2L456.5 107.2L458.9 107.2L461.3 107.2L463.8 107.2L466.2 107.2L468.6 107.2L471.0 107.2L473.4 107.2L475.9 107.2L478.3 107.2L480.7 107.2L483.1 107.2L485.5 107.2L488.0 107.2L490.4 107.2L492.8 107.2L495.2 107.2L497.6 107.2L500.0 107.2L502.5 107.2L504.9 107.2L507.3 107.2L509.7 107.2L512.1 107.2L514.6 107.2L517.0 107.2L519.4 107.2"/>
<path fill="none" stroke="#000" stroke-width="1.3" d="M36.2 59.4V18.8H44.1"/>
<path fill="none" stroke="#000" stroke-width="2" stroke-linecap="round" d="M43.5 18.8V47.0M51.9 59.4V45.5"/>
<path stroke="#999" stroke-width="0.6" fill="none" d="M35.6 109.3v-2M35.6 17.0v2M84.0 109.3v-2M84.0 17.0v2M132.4 109.3v-2M132.4 17.0v2M180.7 109.3v-2M180.7 17.0v2M229.1 109.3v-2M229.1 17.0v2M277.5 109.3v-2M277.5 17.0v2M325.9 109.3v-2M325.9 17.0v2M374.3 109.3v-2M374.3 17.0v2M422.6 109.3v-2M422.6 17.0v2M471.0 109.3v-2M471.0 17.0v2M519.4 109.3v-2M519.4 17.0v2M35.6 109.3h2M519.4 109.3h-2M35.6 97.0h2M519.4 97.0h-2M35.6 84.7h2M519.4 84.7h-2M35.6 72.4h2M519.4 72.4h-2M35.6 60.1h2M519.4 60.1h-2M35.6 47.8h2M519.4 47.8h-2M35.6 35.5h2M519.4 35.5h-2M35.6 23.2h2M519.4 23.2h-2"/>
<text class="tk2" x="35.6" y="118.0" text-anchor="middle">0</text>
<text class="tk2" x="84.0" y="118.0" text-anchor="middle">20</text>
<text class="tk2" x="132.4" y="118.0" text-anchor="middle">40</text>
<text class="tk2" x="180.7" y="118.0" text-anchor="middle">60</text>
<text class="tk2" x="229.1" y="118.0" text-anchor="middle">80</text>
<text class="tk2" x="277.5" y="118.0" text-anchor="middle">100</text>
<text class="tk2" x="325.9" y="118.0" text-anchor="middle">120</text>
<text class="tk2" x="374.3" y="118.0" text-anchor="middle">140</text>
<text class="tk2" x="422.6" y="118.0" text-anchor="middle">160</text>
<text class="tk2" x="471.0" y="118.0" text-anchor="middle">180</text>
<text class="tk2" x="517.9" y="118.0" text-anchor="middle">200</text>
<text class="tk2" x="32.6" y="111.5" text-anchor="end">-30</text>
<text class="tk2" x="32.6" y="88.1" text-anchor="end">-20</text>
<text class="tk2" x="32.6" y="63.5" text-anchor="end">-10</text>
<text class="tk2" x="32.6" y="38.9" text-anchor="end">0</text>
<text class="ax" transform="translate(14.5 68.0) rotate(-90)" text-anchor="middle">z [m]</text>
<text class="ax" x="277.5" y="125.5" text-anchor="middle">x [m]</text>
<text class="tl" x="47" y="98.6">t=0s</text>
<linearGradient id="cbt" x1="0" y1="0" x2="0" y2="1"><stop offset="0.000" stop-color="#ecfaff"/><stop offset="0.042" stop-color="#dbf5ff"/><stop offset="0.083" stop-color="#b2f0ff"/><stop offset="0.125" stop-color="#89ecff"/><stop offset="0.167" stop-color="#51e4ff"/><stop offset="0.208" stop-color="#16daff"/><stop offset="0.250" stop-color="#00c9ff"/><stop offset="0.292" stop-color="#00b2ff"/><stop offset="0.333" stop-color="#009aff"/><stop offset="0.375" stop-color="#0081ff"/><stop offset="0.417" stop-color="#0068ff"/><stop offset="0.458" stop-color="#0052ff"/><stop offset="0.500" stop-color="#003bff"/><stop offset="0.542" stop-color="#0026ff"/><stop offset="0.583" stop-color="#0012ff"/><stop offset="0.625" stop-color="#0009ef"/><stop offset="0.667" stop-color="#0002dd"/><stop offset="0.708" stop-color="#0000c8"/><stop offset="0.750" stop-color="#0000b1"/><stop offset="0.792" stop-color="#000099"/><stop offset="0.833" stop-color="#000080"/><stop offset="0.875" stop-color="#000067"/><stop offset="0.917" stop-color="#00004e"/><stop offset="0.958" stop-color="#000035"/><stop offset="1.000" stop-color="#00001c"/></linearGradient><rect x="527.0" y="17.0" width="6.7" height="92.6" fill="url(#cbt)" stroke="#aaa" stroke-width="0.6"/>
<text class="cb" x="536.5" y="23.8">5</text>
<text class="cb" x="536.5" y="66.8">0</text>
<text class="cb" x="536.5" y="108.7">-5</text>
<rect x="33.5" y="16" width="52.5" height="47" fill="none" stroke="#b0b0b0" stroke-width="1.6"/>
<path d="M86 63L97.3 122" stroke="#6e6e6e" stroke-width="1" fill="none"/>
<path d="M98.6 128.5L92.6 119.6L101.2 118z" fill="#6e6e6e"/>
<rect x="16.3" y="133.8" width="521" height="305.3" fill="none" stroke="#bdbdbd" stroke-width="1.3"/>
<rect x="37.6" y="137.7" width="153.4" height="125.5" fill="#fff" stroke="#b4b4b4" stroke-width="0.7"/>
<clipPath id="cp0"><rect x="37.6" y="188.9" width="153.4" height="68.0"/></clipPath>
<g clip-path="url(#cp0)">
<rect x="37.6" y="188.9" width="153.4" height="68.0" fill="#0036ff"/>
<path fill="#0042ff" d="M37.6 256.9l82.9 0 0.3-8.9 1.5-18.7 0.2-8.5-0.2-6.8-0.6-8.5-2.6-16.6-81.5 0 0 67.6z"/>
<path fill="#004fff" d="M37.6 256.9l46.1 0 0-34.4 0.2-4.4 1.7 0 1.7-0.5 1.7-1.2 2.1-2.4 1-1.7 1.4-3.4 1.5-5.1 1.3-6.8 1.2-8.1-59.9 0 0 67.6z"/>
<path fill="#005bff" d="M37.6 256.9l45.7 0-0.2-25.9-0.8-13.6-0.1-0.3-1.7-0.6-1.3-0.8-1.8-1.7-2.7-3.4-3.2-5.1-1.3-3.4-0.3-1.7 0-1.7 1-3.4 3.6-6.4-36.9 0 0 67.6z"/>
<path fill="#0068ff" d="M37.6 256.9l45.3 0-0.2-20.8-0.5-10.1-1.7 0-3.4-0.6-3.4-1.4-8.5-4.5-1.7-0.5-3.4-0.2-0.2-4.8 0.1-25.1-22.4 0 0 67.6z"/>
<path fill="#0075ff" d="M37.6 256.9l44.9 0-0.3-21.5-3.4-0.4-3.4-1.1-1.7-0.9-3.4-2.5-6-6.3-4.2-2.9-0.2-0.5-0.2-5.1 0.1-26.8-22.2 0 0 67.6z"/>
<path fill="#0083ff" d="M37.6 256.9l28.8 0-0.6-5.5-3.3-15.3-2.2-13.6-0.9-1.7 0.3-31.9-22.1 0 0 67.6z"/>
<path fill="#0090ff" d="M37.6 242.9l0 0.7 2.1-0.2 1.7-0.5 3.4-1.7 3.4-2.7 3.4-3.8 1.7-2.4 3.4-5.9 1-2.2 0.5-1.7 0.2-0.2 0.6-1.5 0.5-31.9-21.9 0 0 52.3z"/>
<path fill="#009eff" d="M37.6 229.3l0 0.2 0.4 0 3.4-0.4 3.4-1 3.4-1.5 7.1-4.1 3.1-1.4 0.3-2 0.2-6.8 0.4-23.4-21.7 0 0 38.7z"/>
<path fill="#00abff" d="M37.6 219.1l0 1.6 2.1 0 5.1-0.6 10.2-2.2 3.4-0.2 0.7-28.8-21.5 0 0 28.5z"/>
<path fill="#00b8ff" d="M37.6 212.3l0 0.3 2.1 0 18.7-1 0.6-22.7-21.4 0 0 21.7z"/>
<path fill="#00c4ff" d="M37.6 203.8l0 1.5 20.8-0.4 0.4-16-21.2 0 0 13.2z"/>
<path fill="#00d1ff" d="M37.6 197l0 1.1 20.8-0.1 0.2-9.1-21 0 0 6.4z"/>
<path fill="#10daff" d="M37.6 190.2l0 0.9 20.8-0.1 0.1-2.1-20.9 0z"/>
<path fill="none" stroke="#ebf5be" stroke-opacity="0.6" stroke-width="0.95" d="M190.6 197.1l-3.8 0.1-3.4-0.3-3.4-0.5-4.3-1-4.2-1.5-3.4-1.5-5.6-3.1 0-0.4M190.6 206.8l-4.7 0.1-5.1-0.7-5.1-1.3-5.1-2-5.1-2.7-5.1-3.4-5.9-4.9-2.8-2.6 0-0.4M190.6 220.1l-3 0.1-3.4-0.2-2.5-0.5-3.4-0.9-2.6-0.9-3.4-1.5-5.9-3.4-6-4.6-5.9-5.5-3.4-3.7-3.4-4-4.4-5.7 0-0.4M190.6 247.8l-2.1 0.1-2.6-0.3-2.5-1-2.6-1.5-3.4-2.5-4.2-3.7-4.3-4.1-4.2-4.5-7.7-8.9-7.6-10.2-7.7-11.9-5.1-9-0.5-1 0-0.4M152 256.9l-0.2-4.7-0.7-5.1-1.2-5.1-1.8-5.9-3.7-10.2-14.6-36.1-0.1-0.9M134.1 256.9l-0.2-8.1-0.4-7.6-0.8-8.5-1.2-8.5-1.3-7.7-1.7-8.5-4.8-19.1M117.7 256.9l0.4-8.9 2.4-21.3 0.4-9.3-0.1-6-0.4-6.8-0.9-6.8-1.3-8.9M95.2 256.9l0.4-3 0.9-2.5 1.7-3.4 5.3-8.7 3.4-6.4 2.5-5.9 2-6.2 1.4-6.8 0.7-7.7 0-7.6-0.6-9.8M85.6 232.4l2.6-0.3 2.5-0.8 1.7-0.7 2.6-1.6 2.5-2.1 1.7-1.8 1.7-2.3 1.8-2.9 1.2-2.5 1.2-3.4 1-3.4 0.7-3.4 0.6-4.3 0.3-4.2 0.2-9.8M85.6 223.5l1.7-0.2 1.7-0.4 1.7-0.8 1.7-1 1.7-1.5 1.3-1.4 1.3-1.7 1.4-2.5 1.8-4.3 1.5-5.9 1-6.8 0.7-8.1M85.6 218.7l0.9-0.2 1.7-0.7 1.8-1.3 2-2.5 1.8-3.4 1.5-4.3 1-4.2 1.2-6.8 0.8-6.4M85.4 216.3l0.9-0.6 1.2-1.7 1.2-2.6 0.8-2.5 1.7-6.8 2.5-13.2M84.5 215.7l1.9-15.3 2.5-11.5M82.7 215.7l-1.4-8.5-0.3-5.1 0.2-2.6 0.6-3.4 2.1-7.2M81.7 216.2l-0.7-0.5-1.3-1.7-2.5-4.3-1.6-4.2-0.8-3.4 0-3.4 0.5-2.6 1.2-3.4 1.7-3.4 0-0.4M81.4 217.9l-1.9-0.5-2.4-1.4-2.3-2-7.9-7.4-2.5-1.7-1.7-0.8-0.9-0.1M61.8 194.7l1.7-0.5 2.6-1.5 4-3.4 0-0.4M81.4 221.2l-2.6-0.4-2.5-0.8-7.7-4.3-2.5-1.1-2.6-0.7-1.7-0.2M81.4 226l-2.6-0.3-3.4-1-2.5-1.2-6.8-3.7-2.6-0.8-1.7-0.3M81.4 232.9l-2.6-0.3-1.7-0.5-3.4-1.5-3.4-2.3-5.7-5-1.3-0.8-1.5-0.5M81.4 247.3l-2.6-0.5-2.5-1.2-3.4-2.7-2.6-2.7-2.5-3.6-1.7-2.9-4.9-10.6M55.2 256.9l0.4-5.5 2.7-17 1.2-11.1M37.6 239l2.1-0.2 2.6-0.6 2.5-1.2 2.6-1.7 2.5-2.1 1.7-1.8 6.5-8.4M37.6 228.9l3.8-0.4 3.4-0.9 3.4-1.5 6.6-3.6 2.8-0.9M37.6 222.3l3-0.1 3.4-0.5 10.2-2.6 3.4-0.4M37.6 216.9l5.5-0.3 10.2-1.3 4.3-0.2M37.6 212l20-0.9M37.6 207.3l20-0.5M37.6 202.7l20-0.2M37.6 198.2l20-0.1M37.6 193.8l20-0.1"/>
</g>
<clipPath id="ap0"><rect x="37.6" y="137.7" width="153.4" height="125.5"/></clipPath>
<path clip-path="url(#ap0)" fill="none" stroke="#ecca8a" stroke-opacity="0.78" stroke-width="0.9" d="M40.7 188.9L40.6 180.9M40.6 180.9L41.5 182.6M40.6 180.9L39.8 182.6M40.7 195.7L40.6 187.7M40.6 187.7L41.5 189.4M40.6 187.7L39.8 189.5M40.7 202.5L40.6 194.6M40.6 194.6L41.4 196.3M40.6 194.6L39.8 196.3M40.7 209.3L40.5 201.4M40.5 201.4L41.3 203.1M40.5 201.4L39.7 203.2M40.7 216.1L40.3 208.4M40.3 208.4L41.2 210.1M40.3 208.4L39.5 210.2M40.7 222.9L39.9 215.6M39.9 215.6L40.9 217.2M39.9 215.6L39.3 217.4M40.7 229.7L39.6 223.1M39.6 223.1L40.7 224.6M39.6 223.1L39.1 224.9M40.7 236.5L39.4 230.7M39.4 230.7L40.6 232.2M39.4 230.7L39 232.5M40.7 243.3L39.3 238.4M39.3 238.4L40.5 239.8M39.3 238.4L39 240.2M40.7 250.1L38.9 246.4M38.9 246.4L40 247.3M38.9 246.4L38.9 247.9M48 188.9L48 180.9M48 180.9L48.8 182.6M48 180.9L47.2 182.6M48 195.7L47.9 187.7M47.9 187.7L48.8 189.4M47.9 187.7L47.1 189.4M48 202.5L47.9 194.5M47.9 194.5L48.7 196.2M47.9 194.5L47.1 196.3M48 209.3L47.6 201.3M47.6 201.3L48.5 203M47.6 201.3L46.9 203.1M48 216.1L46.9 208.2M46.9 208.2L47.9 209.8M46.9 208.2L46.3 210.1M48 222.9L45.5 215.7M45.5 215.7L46.8 217M45.5 215.7L45.3 217.5M48 229.7L44.3 223.8M44.3 223.8L45.9 224.8M44.3 223.8L44.5 225.7M48 236.5L44 231.9M44 231.9L45.7 232.6M44 231.9L44.5 233.7M48 243.3L44 239.8M44 239.8L45.8 240.3M44 239.8L44.7 241.5M48 250.1L43.8 248M43.8 248L45.5 248M43.8 248L44.8 249.3M55.3 188.9L55.3 180.9M55.3 180.9L56.1 182.6M55.3 180.9L54.5 182.6M55.3 195.7L55.3 187.7M55.3 187.7L56.1 189.4M55.3 187.7L54.5 189.4M55.3 202.5L55.3 194.5M55.3 194.5L56.1 196.2M55.3 194.5L54.5 196.2M55.3 209.3L55.2 201.2M55.2 201.2L56 202.9M55.2 201.2L54.4 202.9M55.3 216.1L54.7 207.8M54.7 207.8L55.6 209.4M54.7 207.8L54 209.6M55.3 222.9L50.9 215.1M50.9 215.1L52.4 216.2M50.9 215.1L51 217M55.3 229.7L48.7 226.2M48.7 226.2L50.6 226.3M48.7 226.2L49.8 227.7M55.3 236.5L49.4 234.3M49.4 234.3L51.2 234.2M49.4 234.3L50.7 235.7M55.3 243.3L50 241.9M50 241.9L51.8 241.5M50 241.9L51.4 243.1M55.3 250.1L50.4 249.3M50.4 249.3L52.1 248.8M50.4 249.3L51.8 250.3M62.7 188.9L61.8 182.7M61.8 182.7L62.9 184.3M61.8 182.7L61.3 184.6M62.7 195.7L61.1 191.2M61.1 191.2L62.3 192.4M61.1 191.2L61 192.9M62.7 202.5L60.9 206.7M60.9 206.7L60.9 205.1M60.9 206.7L62.1 205.7M62.7 209.3L61.8 215.6M61.8 215.6L61.2 213.8M61.8 215.6L62.9 214.1M62.7 216.1L61.9 223.7M61.9 223.7L61.3 221.9M61.9 223.7L62.9 222.1M62.7 222.9L57.5 230.9M57.5 230.9L57.8 229M57.5 230.9L59.1 229.9M62.7 229.7L55.4 231.9M55.4 231.9L56.8 230.6M55.4 231.9L57.3 232.2M62.7 236.5L56.4 237.8M56.4 237.8L57.9 236.6M56.4 237.8L58.3 238.2M62.7 243.3L57.2 244.2M57.2 244.2L58.7 243.1M57.2 244.2L59 244.7M62.7 250.1L57.6 250.6M57.6 250.6L59.2 249.7M57.6 250.6L59.3 251.2M70 188.9L65.4 184M65.4 184L67.2 184.7M65.4 184L66 185.8M70 195.7L64.4 193.3M64.4 193.3L66.3 193.2M64.4 193.3L65.7 194.7M70 202.5L64.2 204.3M64.2 204.3L65.6 203.1M64.2 204.3L66.1 204.6M70 209.3L65.2 214.3M65.2 214.3L65.8 212.5M65.2 214.3L67 213.6M70 216.1L66.2 222.7M66.2 222.7L66.3 220.9M66.2 222.7L67.7 221.7M70 222.9L66 229.6M66 229.6L66.2 227.7M66 229.6L67.5 228.5M70 229.7L65.3 235.1M65.3 235.1L65.8 233.2M65.3 235.1L67.1 234.3M70 236.5L65.4 240.6M65.4 240.6L66.1 238.9M65.4 240.6L67.2 240.1M70 243.3L65.6 246.4M65.6 246.4L66.5 244.8M65.6 246.4L67.5 246.1M70 250.1L65.6 251.9M65.6 251.9L66.7 250.7M65.6 251.9L67.3 252M77.4 188.9L70.9 185.4M70.9 185.4L72.8 185.5M70.9 185.4L72 187M77.4 195.7L70.5 193.9M70.5 193.9L72.4 193.5M70.5 193.9L72 195.1M77.4 202.5L70.2 203M70.2 203L71.9 202.1M70.2 203L72 203.7M77.4 209.3L70.2 212.5M70.2 212.5L71.5 211M70.2 212.5L72.1 212.5M77.4 216.1L72.3 223M72.3 223L72.7 221.1M72.3 223L74 222.1M77.4 222.9L75.1 230.4M75.1 230.4L74.9 228.5M75.1 230.4L76.4 229M77.4 229.7L75.5 236.4M75.5 236.4L75.1 234.5M75.5 236.4L76.7 235M77.4 236.5L75.4 242.2M75.4 242.2L75.2 240.4M75.4 242.2L76.8 240.9M77.4 243.3L75.4 248.1M75.4 248.1L75.3 246.2M75.4 248.1L76.7 246.9M77.4 250.1L74.9 253.5M74.9 253.5L75.2 252.1M74.9 253.5L76.2 252.8M84.7 188.9L77.4 186.4M77.4 186.4L79.3 186.2M77.4 186.4L78.8 187.8M84.7 195.7L77.3 194M77.3 194L79.2 193.6M77.3 194L78.8 195.2M84.7 202.5L77.1 201.7M77.1 201.7L78.9 201M77.1 201.7L78.7 202.7M84.7 209.3L76.4 208.7M76.4 208.7L78.1 208M76.4 208.7L78 209.6M92.1 188.9L84.4 187.3M84.4 187.3L86.2 186.8M84.4 187.3L85.9 188.4M92.1 195.7L84.5 194.2M84.5 194.2L86.3 193.7M84.5 194.2L86 195.3M92.1 202.5L84.5 200.9M84.5 200.9L86.4 200.4M84.5 200.9L86 202M92.1 209.3L84.7 206.6M84.7 206.6L86.5 206.5M84.7 206.6L86 208M92.1 216.1L86.1 211.1M86.1 211.1L88 211.6M86.1 211.1L86.9 212.8M92.1 222.9L88.4 216.9M88.4 216.9L90 218M88.4 216.9L88.6 218.8M92.1 229.7L89.4 224.1M89.4 224.1L90.9 225.3M89.4 224.1L89.4 226M92.1 236.5L89.7 231.6M89.7 231.6L91.2 232.8M89.7 231.6L89.7 233.5M92.1 243.3L89.6 239.2M89.6 239.2L91 240.1M89.6 239.2L89.8 240.9M92.1 250.1L89 247.3M89 247.3L90.4 247.7M89 247.3L89.6 248.6M99.4 188.9L91.6 188.1M91.6 188.1L93.4 187.5M91.6 188.1L93.2 189.1M99.4 195.7L91.8 194.7M91.8 194.7L93.6 194.1M91.8 194.7L93.4 195.7M99.4 202.5L92 201M92 201L93.9 200.6M92 201L93.5 202.1M99.4 209.3L92.4 207M92.4 207L94.3 206.8M92.4 207L93.8 208.3M99.4 216.1L93.1 212.7M93.1 212.7L95 212.8M93.1 212.7L94.3 214.2M99.4 222.9L94.1 218.8M94.1 218.8L96 219.3M94.1 218.8L95 220.5M99.4 229.7L94.9 225.6M94.9 225.6L96.7 226.2M94.9 225.6L95.6 227.4M99.4 236.5L95.3 232.8M95.3 232.8L97.1 233.4M95.3 232.8L96 234.6M99.4 243.3L95.3 240.4M95.3 240.4L97 240.7M95.3 240.4L96.2 241.9M99.4 250.1L95.1 248.4M95.1 248.4L96.7 248.3M95.1 248.4L96.2 249.6M106.8 188.9L99 188.9M99 188.9L100.7 188.1M99 188.9L100.7 189.7M106.8 195.7L99.2 195.4M99.2 195.4L101 194.6M99.2 195.4L100.9 196.3M106.8 202.5L99.5 201.7M99.5 201.7L101.3 201.1M99.5 201.7L101.1 202.7M106.8 209.3L99.8 207.9M99.8 207.9L101.6 207.4M99.8 207.9L101.3 209M106.8 216.1L100.3 214M100.3 214L102.2 213.8M100.3 214L101.7 215.3M106.8 222.9L100.8 220.4M100.8 220.4L102.7 220.3M100.8 220.4L102.1 221.8M106.8 229.7L101.3 227.1M101.3 227.1L103.2 227.1M101.3 227.1L102.5 228.5M106.8 236.5L101.7 234.1M101.7 234.1L103.6 234.1M101.7 234.1L102.9 235.6M106.8 243.3L101.8 241.4M101.8 241.4L103.6 241.3M101.8 241.4L103.1 242.8M106.8 250.1L101.8 249.1M101.8 249.1L103.5 248.6M101.8 249.1L103.2 250.1M114.1 188.9L106.5 189.8M106.5 189.8L108.1 188.8M106.5 189.8L108.3 190.4M114.1 195.7L106.7 196.2M106.7 196.2L108.4 195.3M106.7 196.2L108.5 196.9M114.1 202.5L106.9 202.5M106.9 202.5L108.7 201.7M106.9 202.5L108.7 203.3M114.1 209.3L107.2 208.8M107.2 208.8L109 208.1M107.2 208.8L108.9 209.8M114.1 216.1L107.5 215.2M107.5 215.2L109.4 214.6M107.5 215.2L109.1 216.2M114.1 222.9L107.9 221.6M107.9 221.6L109.8 221.2M107.9 221.6L109.4 222.8M114.1 229.7L108.3 228.3M108.3 228.3L110.1 227.9M108.3 228.3L109.7 229.5M114.1 236.5L108.6 235.2M108.6 235.2L110.4 234.8M108.6 235.2L110 236.3M114.1 243.3L108.7 242.2M108.7 242.2L110.6 241.8M108.7 242.2L110.3 243.4M114.1 250.1L108.8 249.5M108.8 249.5L110.6 248.9M108.8 249.5L110.4 250.5M121.4 188.9L114.1 190.6M114.1 190.6L115.6 189.4M114.1 190.6L116 191M121.4 195.7L114.3 197.1M114.3 197.1L115.8 195.9M114.3 197.1L116.1 197.5M121.4 202.5L114.5 203.4M114.5 203.4L116.1 202.4M114.5 203.4L116.3 204M121.4 209.3L114.7 209.8M114.7 209.8L116.4 208.9M114.7 209.8L116.5 210.5M121.4 216.1L115 216.2M115 216.2L116.7 215.4M115 216.2L116.7 217M121.4 222.9L115.2 222.7M115.2 222.7L117 221.9M115.2 222.7L116.9 223.5M121.4 229.7L115.5 229.3M115.5 229.3L117.3 228.6M115.5 229.3L117.2 230.2M121.4 236.5L115.7 236M115.7 236L117.5 235.3M115.7 236L117.4 237M121.4 243.3L115.9 242.9M115.9 242.9L117.7 242.2M115.9 242.9L117.6 243.8M121.4 250.1L116 249.9M116 249.9L117.8 249.1M116 249.9L117.7 250.7M128.8 188.9L121.9 191.5M121.9 191.5L123.2 190.1M121.9 191.5L123.8 191.6M128.8 195.7L122 197.9M122 197.9L123.4 196.6M122 197.9L123.9 198.2M128.8 202.5L122.1 204.3M122.1 204.3L123.6 203.1M122.1 204.3L124 204.7M128.8 209.3L122.3 210.7M122.3 210.7L123.8 209.6M122.3 210.7L124.2 211.1M128.8 216.1L122.5 217.1M122.5 217.1L124.1 216M122.5 217.1L124.3 217.6M128.8 222.9L122.7 223.6M122.7 223.6L124.3 222.6M122.7 223.6L124.5 224.2M128.8 229.7L122.9 230.1M122.9 230.1L124.6 229.2M122.9 230.1L124.7 230.8M128.8 236.5L123.1 236.7M123.1 236.7L124.8 235.8M123.1 236.7L124.8 237.4M128.8 243.3L123.2 243.4M123.2 243.4L125 242.5M123.2 243.4L125 244.2M128.8 250.1L123.3 250.1M123.3 250.1L125.1 249.3M123.3 250.1L125.1 250.9M136.1 188.9L129.7 192.3M129.7 192.3L130.8 190.8M129.7 192.3L131.6 192.2M136.1 195.7L129.8 198.8M129.8 198.8L131 197.3M129.8 198.8L131.7 198.8M136.1 202.5L129.9 205.2M129.9 205.2L131.2 203.8M129.9 205.2L131.8 205.2M136.1 209.3L130 211.6M130 211.6L131.3 210.2M130 211.6L131.9 211.7M136.1 216.1L130.2 218M130.2 218L131.5 216.7M130.2 218L132 218.2M136.1 222.9L130.3 224.4M130.3 224.4L131.8 223.2M130.3 224.4L132.2 224.7M136.1 229.7L130.4 230.8M130.4 230.8L132 229.7M130.4 230.8L132.3 231.3M136.1 236.5L130.6 237.3M130.6 237.3L132.1 236.3M130.6 237.3L132.4 237.9M136.1 243.3L130.7 243.8M130.7 243.8L132.3 242.8M130.7 243.8L132.5 244.5M136.1 250.1L130.7 250.3M130.7 250.3L132.4 249.5M130.7 250.3L132.5 251.1M143.5 188.9L137.6 193.1M137.6 193.1L138.6 191.5M137.6 193.1L139.5 192.8M143.5 195.7L137.7 199.6M137.7 199.6L138.7 198M137.7 199.6L139.6 199.3M143.5 202.5L137.8 206M137.8 206L138.8 204.4M137.8 206L139.7 205.8M143.5 209.3L137.9 212.4M137.9 212.4L139 210.8M137.9 212.4L139.7 212.3M143.5 216.1L137.9 218.7M137.9 218.7L139.1 217.3M137.9 218.7L139.8 218.7M143.5 222.9L138 225.1M138 225.1L139.3 223.7M138 225.1L139.9 225.2M143.5 229.7L138.1 231.5M138.1 231.5L139.4 230.2M138.1 231.5L140 231.7M143.5 236.5L138.1 237.8M138.1 237.8L139.6 236.6M138.1 237.8L140 238.2M143.5 243.3L138.2 244.2M138.2 244.2L139.7 243.1M138.2 244.2L140 244.7M143.5 250.1L138.2 250.6M138.2 250.6L139.8 249.6M138.2 250.6L139.9 251.2M150.8 188.9L145.7 193.8M145.7 193.8L146.4 192.1M145.7 193.8L147.5 193.2M150.8 195.7L145.8 200.3M145.8 200.3L146.5 198.6M145.8 200.3L147.6 199.8M150.8 202.5L145.8 206.7M145.8 206.7L146.6 205M145.8 206.7L147.6 206.2M150.8 209.3L145.8 213.1M145.8 213.1L146.7 211.4M145.8 213.1L147.7 212.7M150.8 216.1L145.8 219.5M145.8 219.5L146.8 217.8M145.8 219.5L147.7 219.2M150.8 222.9L145.8 225.8M145.8 225.8L146.9 224.3M145.8 225.8L147.7 225.7M150.8 229.7L145.8 232.1M145.8 232.1L147 230.6M145.8 232.1L147.7 232.1M150.8 236.5L145.8 238.4M145.8 238.4L147.1 237M145.8 238.4L147.7 238.5M150.8 243.3L145.8 244.6M145.8 244.6L147.2 243.4M145.8 244.6L147.6 244.9M150.8 250.1L145.8 250.8M145.8 250.8L147.3 249.8M145.8 250.8L147.5 251.3M158.2 188.9L153.9 194.5M153.9 194.5L154.3 192.6M153.9 194.5L155.6 193.6M158.2 195.7L153.9 201M153.9 201L154.4 199.1M153.9 201L155.6 200.1M158.2 202.5L153.9 207.4M153.9 207.4L154.4 205.6M153.9 207.4L155.6 206.6M158.2 209.3L153.9 213.8M153.9 213.8L154.5 212M153.9 213.8L155.7 213.1M158.2 216.1L153.9 220.2M153.9 220.2L154.5 218.4M153.9 220.2L155.7 219.6M158.2 222.9L153.8 226.5M153.8 226.5L154.6 224.8M153.8 226.5L155.6 226M158.2 229.7L153.7 232.7M153.7 232.7L154.7 231.1M153.7 232.7L155.6 232.4M158.2 236.5L153.6 238.9M153.6 238.9L154.7 237.5M153.6 238.9L155.4 238.8M158.2 243.3L153.5 245M153.5 245L154.7 243.8M153.5 245L155.2 245.2M158.2 250.1L153.4 251M153.4 251L154.8 250M153.4 251L155 251.4M165.5 188.9L162.2 195M162.2 195L162.3 193.1M162.2 195L163.7 193.9M165.5 195.7L162.2 201.5M162.2 201.5L162.3 199.6M162.2 201.5L163.7 200.4M165.5 202.5L162.2 208M162.2 208L162.4 206.1M162.2 208L163.7 206.9M165.5 209.3L162.1 214.4M162.1 214.4L162.4 212.5M162.1 214.4L163.7 213.4M165.5 216.1L162 220.8M162 220.8L162.4 218.9M162 220.8L163.7 219.9M165.5 222.9L161.9 227.1M161.9 227.1L162.4 225.3M161.9 227.1L163.7 226.3M165.5 229.7L161.8 233.4M161.8 233.4L162.4 231.6M161.8 233.4L163.5 232.8M165.5 236.5L161.6 239.5M161.6 239.5L162.4 238M161.6 239.5L163.3 239.1M165.5 243.3L161.3 245.5M161.3 245.5L162.3 244.2M161.3 245.5L163 245.4M165.5 250.1L161.1 251.3M161.1 251.3L162.3 250.2M161.1 251.3L162.7 251.6M172.9 188.9L170.6 195.4M170.6 195.4L170.4 193.5M170.6 195.4L171.9 194.1M172.9 195.7L170.6 201.9M170.6 201.9L170.4 200.1M170.6 201.9L171.9 200.6M172.9 202.5L170.5 208.4M170.5 208.4L170.4 206.5M170.5 208.4L171.9 207.1M172.9 209.3L170.5 214.8M170.5 214.8L170.4 212.9M170.5 214.8L171.9 213.6M172.9 216.1L170.4 221.2M170.4 221.2L170.4 219.3M170.4 221.2L171.9 220M172.9 222.9L170.3 227.6M170.3 227.6L170.4 225.7M170.3 227.6L171.8 226.5M172.9 229.7L170.1 233.9M170.1 233.9L170.3 232.2M170.1 233.9L171.6 233M172.9 236.5L169.8 240.1M169.8 240.1L170.2 238.5M169.8 240.1L171.3 239.4M172.9 243.3L169.4 246.1M169.4 246.1L170.1 244.7M169.4 246.1L170.9 245.7M172.9 250.1L169 251.7M169 251.7L170 250.6M169 251.7L170.5 251.8M180.2 188.9L179 195.7M179 195.7L178.5 193.9M179 195.7L180.1 194.1M180.2 195.7L179 202.2M179 202.2L178.5 200.4M179 202.2L180.1 200.7M180.2 202.5L179 208.7M179 208.7L178.5 206.8M179 208.7L180.1 207.2M180.2 209.3L178.9 215.1M178.9 215.1L178.5 213.3M178.9 215.1L180.1 213.6M180.2 216.1L178.9 221.6M178.9 221.6L178.5 219.7M178.9 221.6L180.1 220.1M180.2 222.9L178.8 228M178.8 228L178.5 226.2M178.8 228L180 226.6M180.2 229.7L178.6 234.4M178.6 234.4L178.4 232.7M178.6 234.4L179.8 233.1M180.2 236.5L178.4 240.7M178.4 240.7L178.4 239.1M178.4 240.7L179.6 239.6M180.2 243.3L178 246.8M178 246.8L178.2 245.3M178 246.8L179.2 246M180.2 250.1L177.4 252.4M177.4 252.4L177.9 251.2M177.4 252.4L178.6 252.1M187.5 188.9L187.5 195.8M187.5 195.8L186.7 194.1M187.5 195.8L188.3 194.1M187.5 195.7L187.5 202.3M187.5 202.3L186.7 200.6M187.5 202.3L188.3 200.6M187.5 202.5L187.5 208.8M187.5 208.8L186.7 207.1M187.5 208.8L188.3 207.1M187.5 209.3L187.5 215.3M187.5 215.3L186.7 213.5M187.5 215.3L188.3 213.5M187.5 216.1L187.5 221.7M187.5 221.7L186.7 220M187.5 221.7L188.3 220M187.5 222.9L187.4 228.1M187.4 228.1L186.7 226.5M187.4 228.1L188.3 226.5M187.5 229.7L187.4 234.6M187.4 234.6L186.7 233M187.4 234.6L188.2 233M187.5 236.5L187.4 240.9M187.4 240.9L186.8 239.5M187.4 240.9L188.1 239.5M187.5 243.3L187.3 247.2M187.3 247.2L186.8 245.9M187.3 247.2L187.9 246M187.5 250.1L187.1 253.2M187.1 253.2L186.8 252.2M187.1 253.2L187.7 252.3"/>
<path fill="none" stroke="#7a7a7a" stroke-width="1.6" stroke-dasharray="1.7 1.6" d="M38.6 178.0H57.5M62.2 186.2H191.0"/>
<path fill="none" stroke="#000" stroke-width="1.7" d="M84.7 256.9H191.0"/>
<path fill="#fff" stroke="none" d="M58.0 141.3V222.3a1.70 1.36 0 0 0 3.40 0V141.3z"/>
<path fill="none" stroke="#000" stroke-width="1.25" stroke-linejoin="miter" d="M38.1 257.4V141.3H61.4V222.3a1.70 1.36 0 0 1 -3.40 0V141.3"/>
<path fill="#fff" stroke="none" d="M81.8 262.6V217.5a1.70 1.36 0 0 1 3.40 0V262.6z"/>
<path fill="none" stroke="#000" stroke-width="1.25" d="M38.1 256.9H81.8V217.5a1.70 1.36 0 0 1 3.40 0V257.7"/>
<path stroke="#999" stroke-width="0.6" fill="none" d="M37.6 263.2v-1.5M37.6 137.7v1.5M71.6 263.2v-1.5M71.6 137.7v1.5M105.6 263.2v-1.5M105.6 137.7v1.5M139.6 263.2v-1.5M139.6 137.7v1.5M173.6 263.2v-1.5M173.6 137.7v1.5M37.6 243.3h1.5M191.0 243.3h-1.5M37.6 216.1h1.5M191.0 216.1h-1.5M37.6 188.9h1.5M191.0 188.9h-1.5M37.6 161.7h1.5M191.0 161.7h-1.5"/>
<text class="tk" x="37.6" y="273.4" text-anchor="middle">0</text>
<text class="tk" x="71.6" y="273.4" text-anchor="middle">5</text>
<text class="tk" x="105.6" y="273.4" text-anchor="middle">10</text>
<text class="tk" x="139.6" y="273.4" text-anchor="middle">15</text>
<text class="tk" x="173.6" y="273.4" text-anchor="middle">20</text>
<text class="ax" x="113.8" y="282.8" text-anchor="middle">x [m]</text>
<text class="tk" x="34.1" y="246.5" text-anchor="end">-8</text>
<text class="tk" x="34.1" y="219.3" text-anchor="end">-4</text>
<text class="tk" x="34.1" y="192.1" text-anchor="end">0</text>
<text class="tk" x="34.1" y="164.9" text-anchor="end">4</text>
<text class="ax" transform="translate(26.1 205.4) rotate(-90)" text-anchor="middle">z [m]</text>
<text class="tl" x="182.0" y="150.7" text-anchor="end">t=0s</text>
<rect x="201.5" y="137.7" width="153.4" height="125.5" fill="#fff" stroke="#b4b4b4" stroke-width="0.7"/>
<clipPath id="cp1"><rect x="201.5" y="188.9" width="153.4" height="68.0"/></clipPath>
<g clip-path="url(#cp1)">
<rect x="201.5" y="188.9" width="153.4" height="68.0" fill="#0000c4"/>
<path fill="#0000d1" d="M201.5 256.9l153 0 0-68-132.1 0-0.1 9.8-20.8 0.1 0 57.7z"/>
<path fill="#0002dc" d="M201.5 256.9l153 0 0-68-132 0-0.2 32.3-2.6 1.3-5.9 3.7-3.4 1.8-5.1 1.7-3.8 0.4 0 26.4z"/>
<path fill="#0006e6" d="M215.2 256.9l139.3 0 0-68-131.9 0 0 37-2 9.6-4.7 15.9-0.7 5.1z"/>
<path fill="#0009f0" d="M226.2 256.9l128.3 0 0-68-131.8 0 0.2 31.9 1 1.7 0.8 13.6 1.4 15.3 0.1 5.1z"/>
<path fill="#000dfa" d="M240.6 256.9l113.9 0 0-68-131.7 0 0.3 31.9 0.9 1.3 0.5 0.4 2.9 9.2 3.4 7.9 3.4 5.8 5.2 7.7 0.8 1.7 0.4 1.7z"/>
<path fill="#0015ff" d="M246.3 256.9l108.2 0 0-68-131.5 0 0.1 25.1 0.3 6.8 0.6 1 1.1 0.7 0.6 1.3 0.5 0.4 2.9 4.7 3.4 4.8 3.4 3.4 1.7 1.3 3.4 1.9 1.7 0.5 3.4 0.3 0.2 15.4z"/>
<path fill="#0020ff" d="M246.5 256.9l108 0 0-68-131.4 0 0.1 25.1 0.4 6.8 0.4 0.6 1.7 1.3 2.3 1.5 4.5 4.6 3.4 2.8 3.4 2 1.7 0.6 3.4 0.7 1.7 0.1 0.4 21.5z"/>
<path fill="#002bff" d="M246.6 256.9l107.9 0 0-68-131.3 0 0.2 25.1 0.5 6.8 0.1 0.2 4.1 1.5 6.1 4.2 3.4 2 3.4 1.3 1.7 0.4 3.4 0.3 0.4 10.5 0.1 15.3z"/>
<path fill="#0036ff" d="M246.8 256.9l107.7 0 0-68-131.2 0 0.3 25.1 0.4 6.3 1.7 0 3.4 0.9 6.8 3.5 3.4 1.5 3.4 0.9 3.4 0.2 0.5 10.5 0.2 18.7z"/>
<path fill="#0042ff" d="M247 256.9l107.5 0 0-68-131 0 0.2 21.7 0.3 8.1 3.4 0.1 1.7 0.4 10.2 4.2 3.4 0.8 3.4 0.3 0.6 9.9 0.3 22.1z"/>
<path fill="#004fff" d="M247.1 256.9l107.4 0 0-68-130.9 0 0.4 27.7 3.4 0.1 1.7 0.4 3.4 1 6.6 2.7 1.9 0.5 5.1 0.6 0.5 4 0.3 6.8 0.2 23.8z"/>
<path fill="#005bff" d="M247.3 256.9l107.2 0 0-68-130.8 0 0.3 23.5 3.4 0.1 3.4 0.5 5.1 1.7 6.8 2.9 1.7 0.5 1.7 0.1 0.7 6 0.3 5.1 0.2 27.2z"/>
<path fill="#0068ff" d="M247.5 256.9l91.8 0 0.1-5.5 0.7-6.8 2.1-11.9 4-15.3 7-24 1.3-3.1 0-1.4-130.7 0 0.2 17.2 3.4 0.1 3.4 0.6 3.4 1 3.4 1.5 5.1 3.5 1.7 1.5 0.9 1.4 0.8 0.4 0.6 1.3 0.6 11.9 0.2 27.2z"/>
<path fill="#0075ff" d="M247.6 256.9l71.5 0 0.3-5.5 0.8-5.1 1.3-5.1 2.4-6.8 4.5-10.2 12.9-26.1 3.4-7.5 0.6-1.7-121.4 0 0.1 8.6 3.4 0.1 3.4 0.6 3.4 1.2 3.4 1.7 3.4 2.2 3.4 2.9 2.2 2.7 1.7 3.4 0.4 1.7-0.1 1.7-0.8 0.4-0.4 1.3 0.2 39.1z"/>
<path fill="#0083ff" d="M247.8 256.9l27.7 0 0.2-2.1 1.2-3.4 2-3.4 1.5-1.7 7-6.8 6.3-5.1 13.6-11.9 8.5-8.5 10.2-11.8 5.1-6.8 3.5-5.2 0.4-1.3-96.3 0 0.8 1.3 6.6 5.6 6 6.3 3.5 5.1 0.7 1.9 0.8 1.5 0.8 3.4 0.1 3.4-0.3 3.4-0.4 1.7-1.7 3.4-2.7 2.7-3.4 1.1-1.7 0 0 26.8z"/>
<path fill="#0090ff" d="M283.7 193.6l4.9 0.2 6.8-0.8 6.8-1.9 2.2-0.9 1.9-1.3-36.6 0 1.8 1.3 3.5 1.4 3.4 1 5.1 1z"/>
<path fill="none" stroke="#ebf5be" stroke-opacity="0.6" stroke-width="0.95" d="M221.5 192.2l-20 0M221.5 195.1l-20 0M221.5 197.9l-20 0.2M221.5 200.8l-20 0.2M221.5 203.7l-20 0.2M221.5 206.5l-20 0.4M221.5 209.3l-20 0.7M221.5 212l-15.3 0.9-4.7 0.2M221.5 214.6l-4.3 0.2-10.2 1.2-5.5 0.3M221.5 217l-4.3 0.5-10.2 1.8-5.5 0.4M221.5 219.3l-3.4 0.5-10.2 2.9-3.4 0.6-3 0.1M221.5 221.2l-2.6 0.6-6.8 3.3-3.4 1.4-3.4 0.9-3.8 0.3M221.5 222.5l-1.5 0.8-5.3 4.5-4.3 2.9-1.7 0.8-2.5 0.9-2.6 0.6-2.1 0.1M222.1 223.1l-3.2 5.1-2.5 3.7-1.7 2.2-2.6 2.6-2.5 2-2.6 1.4-2.5 0.9-3 0.4M222.9 223.3l-1.1 6-1.6 6.8-5.1 15.3-0.6 2.5-0.2 3M224.2 223.3l1.9 12.8 3.1 15.3 0.4 5.5M225.1 223.1l5.7 10.2 1.7 2.5 2.6 2.9 2.5 2.2 2.6 1.6 2.5 1 2.6 0.5M225.7 222.5l1.4 0.8 6.3 6 3.4 2.6 1.7 1 2.5 1 2.6 0.6 1.7 0.2M225.7 221.1l1.7 0.4 1.7 0.7 6 3.7 3.4 1.7 3.4 1.1 3.4 0.4M225.7 219l1.7 0.2 2.6 0.7 6.8 3 3.4 1.2 2.5 0.6 2.6 0.2M225.7 216.4l4.3 0.6 2.5 0.8 7.7 2.9 2.5 0.6 2.6 0.3M225.7 213.3l2.6 0.2 3.4 0.7 3.4 1.2 6.8 2.7 3.4 0.7M348.6 256.9l0.3-9.8 1.2-11 1.2-7.7 1.7-9.3 1.1-5.1 0.4 0M225.7 209.8l4.3 0.4 4.2 1.2 3.4 1.5 6 3.2 1.7 0.6M337.9 256.9l0.2-5.5 0.6-6 0.9-5.9 1.2-6 2.9-11 7.8-25.7 2.2-7.9M225.7 205.6l3.4 0.3 2.6 0.5 2.5 0.9 2.6 1.1 2.5 1.4 2.6 1.8 2.5 2.3 1.5 2M325.8 256.9l0.3-5.5 0.7-5.1 1.2-6 1.8-5.9 3.7-10.2 10.4-24.4 3.4-8.4 0.7-2.1 0-0.4M225.7 200.5l3.4 0.3 4.3 1.1 3.4 1.5 3.4 2.1 3.4 2.8 2 2.3 1.4 2.5 0.5 2.6M310.6 256.9l0.2-4.7 1-5.1 1.5-5.1 2.5-5.9 4.9-9.4 15.5-26.1 4.7-8.7 1.2-2.6 0-0.4M225.7 193.7l1.7 0.1 2.6 0.5 2.5 0.9 2.6 1.1 5.1 3 4.4 3.6 3.2 3.6 1.5 2.4 0.7 1.7 0.4 1.7 0 1.7-0.5 1.7-0.6 0.6M281.8 256.9l0.3-3 1-3.4 1.8-3.4 2.5-3.4 5.5-5.9 17.8-17.3 8.5-9.1 5.1-6 4.3-5.5 5.1-7.3 2.1-3.3 0-0.4M237.5 188.9l0 0.4 7.8 6.7 5.2 5.2 2.1 2.6 1.6 2.5 2 4.3 0.6 2.5 0.3 2.6-0.3 2.5-0.8 2.6-1.4 2.4-1.7 1.6-1.7 0.9-1.7 0.4M247.2 188.9l0 0.4 10.2 10.2 8.3 9.1 4.2 3.9 3.4 2.4 3.4 1.5 3.4 1 4.3 0.3 5.1-0.4 5.1-1.4 5.9-2.5 6-3.4 5.9-4.3 6-5.1 6.8-6.9 3.7-4.4 0-0.4M255.7 188.9l0 0.4 0.6 0.6 6.8 5.7 5.1 3.6 4.3 2.5 3.4 1.5 3.4 1.1 3.4 0.6 4.2 0.3 4.3-0.3 4.2-0.8 4.3-1.3 4.2-1.8 5.1-2.7 4.3-2.8 5.9-4.7 1.7-1.5 0-0.4M265.4 188.9l0 0.4 3.7 2.2 3.4 1.6 3.4 1.3 3.4 1 2.5 0.5 3.4 0.4 2.6 0.1 5.9-0.5 6-1.5 3.4-1.2 3.4-1.5 4.4-2.4 0-0.4"/>
</g>
<clipPath id="ap1"><rect x="201.5" y="137.7" width="153.4" height="125.5"/></clipPath>
<path clip-path="url(#ap1)" fill="none" stroke="#ecca8a" stroke-opacity="0.78" stroke-width="0.9" d="M204.6 188.9L204.6 197.7M204.6 197.7L203.8 196M204.6 197.7L205.4 196M204.6 195.7L204.6 204.5M204.6 204.5L203.8 202.8M204.6 204.5L205.4 202.8M204.6 202.5L204.6 211.3M204.6 211.3L203.8 209.6M204.6 211.3L205.4 209.6M204.6 209.3L204.7 218M204.7 218L203.9 216.3M204.7 218L205.5 216.3M204.6 216.1L205 224.6M205 224.6L204.1 222.9M205 224.6L205.7 222.9M204.6 222.9L205.4 231M205.4 231L204.4 229.3M205.4 231L206 229.2M204.6 229.7L205.7 237M205.7 237L204.7 235.5M205.7 237L206.3 235.2M204.6 236.5L205.9 242.9M205.9 242.9L204.8 241.4M205.9 242.9L206.4 241.1M204.6 243.3L206.1 248.7M206.1 248.7L204.8 247.3M206.1 248.7L206.4 246.8M204.6 250.1L206.5 254.2M206.5 254.2L205.3 253.2M206.5 254.2L206.5 252.6M211.9 188.9L211.9 197.7M211.9 197.7L211.1 196M211.9 197.7L212.8 196M211.9 195.7L212 204.5M212 204.5L211.1 202.8M212 204.5L212.8 202.8M211.9 202.5L212.1 211.3M212.1 211.3L211.2 209.6M212.1 211.3L212.8 209.6M211.9 209.3L212.3 218.1M212.3 218.1L211.5 216.4M212.3 218.1L213.1 216.3M211.9 216.1L213.1 224.8M213.1 224.8L212.1 223.2M213.1 224.8L213.7 223M211.9 222.9L214.7 230.9M214.7 230.9L213.4 229.6M214.7 230.9L214.9 229M211.9 229.7L216 236.2M216 236.2L214.4 235.2M216 236.2L215.8 234.3M211.9 236.5L216.3 241.6M216.3 241.6L214.6 240.8M216.3 241.6L215.8 239.8M211.9 243.3L216.3 247.2M216.3 247.2L214.5 246.6M216.3 247.2L215.6 245.4M211.9 250.1L216.5 252.4M216.5 252.4L214.7 252.4M216.5 252.4L215.4 251M219.2 188.9L219.3 197.7M219.3 197.7L218.4 196M219.3 197.7L220.1 196M219.2 195.7L219.3 204.5M219.3 204.5L218.5 202.8M219.3 204.5L220.1 202.8M219.2 202.5L219.3 211.4M219.3 211.4L218.5 209.7M219.3 211.4L220.1 209.6M219.2 209.3L219.4 218.2M219.4 218.2L218.6 216.5M219.4 218.2L220.2 216.5M219.2 216.1L220 225.3M220 225.3L219 223.6M220 225.3L220.7 223.5M219.2 222.9L224 231.1M224 231.1L222.4 230M224 231.1L223.8 229.2M219.2 229.7L226.6 233.5M226.6 233.5L224.7 233.4M226.6 233.5L225.5 232M219.2 236.5L225.9 238.8M225.9 238.8L224 239M225.9 238.8L224.5 237.5M219.2 243.3L225.2 244.9M225.2 244.9L223.3 245.2M225.2 244.9L223.7 243.6M219.2 250.1L224.8 250.9M224.8 250.9L222.9 251.5M224.8 250.9L223.2 249.9M226.6 188.9L227.2 182.9M227.2 182.9L227.8 184.7M227.2 182.9L226.2 184.6M226.6 195.7L227.1 189M227.1 189L227.7 190.8M227.1 189L226.1 190.7M226.6 202.5L227 195.1M227 195.1L227.7 196.9M227 195.1L226.1 196.8M226.6 209.3L227 201.3M227 201.3L227.7 203M227 201.3L226.1 202.9M226.6 216.1L227.2 207.3M227.2 207.3L227.9 209.1M227.2 207.3L226.3 208.9M226.6 222.9L231.6 214.8M231.6 214.8L231.4 216.7M231.6 214.8L230 215.9M226.6 229.7L234.6 227.1M234.6 227.1L233.2 228.4M234.6 227.1L232.7 226.9M226.6 236.5L233.5 235M233.5 235L232 236.2M233.5 235L231.6 234.6M226.6 243.3L232.7 242.3M232.7 242.3L231.1 243.4M232.7 242.3L230.9 241.8M226.6 250.1L232.2 249.6M232.2 249.6L230.5 250.5M232.2 249.6L230.4 248.9M233.9 188.9L237.3 183.5M237.3 183.5L237.1 185.4M237.3 183.5L235.7 184.5M233.9 195.7L236.7 189.5M236.7 189.5L236.8 191.4M236.7 189.5L235.3 190.7M233.9 202.5L236.6 195.6M236.6 195.6L236.7 197.5M236.6 195.6L235.2 196.9M233.9 209.3L236.7 201.7M236.7 201.7L236.9 203.6M236.7 201.7L235.3 203.1M233.9 216.1L236.8 208M236.8 208L237 209.9M236.8 208L235.5 209.4M233.9 222.9L237.9 215.2M237.9 215.2L237.8 217.1M237.9 215.2L236.4 216.4M233.9 229.7L239 223.7M239 223.7L238.5 225.5M239 223.7L237.2 224.5M233.9 236.5L239 231.9M239 231.9L238.3 233.6M239 231.9L237.2 232.4M233.9 243.3L238.8 239.9M238.8 239.9L237.9 241.5M238.8 239.9L236.9 240.2M233.9 250.1L238.8 248.1M238.8 248.1L237.6 249.5M238.8 248.1L237 248M241.3 188.9L246 184M246 184L245.4 185.8M246 184L244.2 184.7M241.3 195.7L245.6 190.1M245.6 190.1L245.2 192M245.6 190.1L243.9 191M241.3 202.5L245.8 196.5M245.8 196.5L245.4 198.4M245.8 196.5L244.1 197.4M241.3 209.3L246.3 202.8M246.3 202.8L245.9 204.7M246.3 202.8L244.6 203.7M241.3 216.1L245.2 208M245.2 208L245.2 209.9M245.2 208L243.7 209.2M241.3 222.9L243.3 214.7M243.3 214.7L243.7 216.6M243.3 214.7L242.1 216.2M241.3 229.7L243.2 222.4M243.2 222.4L243.6 224.2M243.2 222.4L242 223.8M241.3 236.5L243.4 230.2M243.4 230.2L243.6 232.1M243.4 230.2L242 231.6M241.3 243.3L243.5 238.1M243.5 238.1L243.6 240M243.5 238.1L242.1 239.3M241.3 250.1L244 246.3M244 246.3L243.7 247.9M244 246.3L242.6 247.1M248.6 188.9L253.7 184M253.7 184L253 185.8M253.7 184L251.9 184.6M248.6 195.7L253.6 190.6M253.6 190.6L253 192.4M253.6 190.6L251.8 191.3M248.6 202.5L254.1 197.7M254.1 197.7L253.3 199.4M254.1 197.7L252.3 198.2M248.6 209.3L255.5 205.8M255.5 205.8L254.4 207.3M255.5 205.8L253.6 205.8M256 188.9L260.8 183.6M260.8 183.6L260.2 185.5M260.8 183.6L259 184.4M256 195.7L260.8 190.7M260.8 190.7L260.2 192.5M260.8 190.7L259 191.3M256 202.5L261.3 198.2M261.3 198.2L260.5 199.9M261.3 198.2L259.5 198.6M256 209.3L262.2 206.7M262.2 206.7L260.9 208.1M262.2 206.7L260.3 206.6M256 216.1L262 216.8M262 216.8L260.2 217.4M262 216.8L260.4 215.8M256 222.9L260.2 225.1M260.2 225.1L258.5 225M260.2 225.1L259.2 223.8M256 229.7L259.1 231.4M259.1 231.4L257.9 231.4M259.1 231.4L258.4 230.4M256 236.5L258.5 237.2M258.5 237.2L257.6 237.4M258.5 237.2L257.8 236.6M256 243.3L257.7 242.6M257.7 242.6L257.3 243.1M257.7 242.6L257.1 242.6M256 250.1L255.8 248.7M255.8 248.7L256.1 249.1M255.8 248.7L255.7 249.1M263.3 188.9L267.4 183.1M267.4 183.1L267.1 185M267.4 183.1L265.7 184M263.3 195.7L267.5 190.3M267.5 190.3L267.1 192.1M267.5 190.3L265.8 191.2M263.3 202.5L267.8 197.8M267.8 197.8L267.2 199.6M267.8 197.8L266 198.5M263.3 209.3L268.2 205.6M268.2 205.6L267.3 207.3M268.2 205.6L266.3 206M263.3 216.1L268.2 213.7M268.2 213.7L267 215.2M268.2 213.7L266.3 213.8M263.3 222.9L267.7 221.4M267.7 221.4L266.5 222.5M267.7 221.4L266.1 221.2M263.3 229.7L266.8 228.2M266.8 228.2L265.9 229.2M266.8 228.2L265.5 228.2M263.3 236.5L265.6 234.6M265.6 234.6L265.2 235.5M265.6 234.6L264.6 234.8M263.3 243.3L264 240.9M264 240.9L264.2 241.8M264 240.9L263.4 241.6M263.3 250.1L262.2 248.3M262.2 248.3L262.8 248.7M262.2 248.3L262.3 249M270.7 188.9L273.7 182.6M273.7 182.6L273.7 184.5M273.7 182.6L272.2 183.8M270.7 195.7L273.7 189.8M273.7 189.8L273.7 191.7M273.7 189.8L272.2 190.9M270.7 202.5L273.9 197.1M273.9 197.1L273.7 199M273.9 197.1L272.3 198.1M270.7 209.3L274 204.5M274 204.5L273.7 206.4M274 204.5L272.3 205.5M270.7 216.1L273.9 211.9M273.9 211.9L273.5 213.8M273.9 211.9L272.3 212.8M270.7 222.9L273.5 219.2M273.5 219.2L273.1 220.8M273.5 219.2L272 220M270.7 229.7L272.6 226.2M272.6 226.2L272.5 227.6M272.6 226.2L271.5 227M270.7 236.5L271.4 233.1M271.4 233.1L271.7 234.3M271.4 233.1L270.7 234.1M270.7 243.3L269.9 240.4M269.9 240.4L270.6 241.2M269.9 240.4L269.7 241.4M270.7 250.1L268.6 248.3M268.6 248.3L269.5 248.6M268.6 248.3L269 249.2M278 188.9L279.7 182.2M279.7 182.2L280.1 184M279.7 182.2L278.5 183.6M278 195.7L279.8 189.3M279.8 189.3L280.1 191.2M279.8 189.3L278.5 190.8M278 202.5L279.8 196.5M279.8 196.5L280.1 198.4M279.8 196.5L278.5 198M278 209.3L279.7 203.8M279.7 203.8L280 205.7M279.7 203.8L278.4 205.2M278 216.1L279.5 211M279.5 211L279.8 212.9M279.5 211L278.3 212.4M278 222.9L279 218.2M279 218.2L279.4 219.9M279 218.2L278 219.6M278 229.7L278.2 225.4M278.2 225.4L278.8 226.8M278.2 225.4L277.5 226.7M278 236.5L277.2 232.7M277.2 232.7L278 233.8M277.2 232.7L276.9 234M278 243.3L276 240.4M276 240.4L277.1 241M276 240.4L276.2 241.6M278 250.1L275.1 248.5M275.1 248.5L276.3 248.5M275.1 248.5L275.8 249.4M285.3 188.9L285.8 182M285.8 182L286.5 183.8M285.8 182L284.9 183.7M285.3 195.7L285.8 189.1M285.8 189.1L286.5 190.9M285.8 189.1L284.8 190.8M285.3 202.5L285.7 196.3M285.7 196.3L286.4 198.1M285.7 196.3L284.8 198M285.3 209.3L285.5 203.5M285.5 203.5L286.3 205.2M285.5 203.5L284.7 205.2M285.3 216.1L285.2 210.7M285.2 210.7L286.1 212.4M285.2 210.7L284.5 212.4M285.3 222.9L284.7 218M284.7 218L285.7 219.4M284.7 218L284.2 219.6M285.3 229.7L284.1 225.3M284.1 225.3L285.1 226.5M284.1 225.3L283.8 226.9M285.3 236.5L283.2 232.8M283.2 232.8L284.5 233.7M283.2 232.8L283.4 234.3M285.3 243.3L282.4 240.6M282.4 240.6L283.8 241M282.4 240.6L282.9 241.9M285.3 250.1L281.8 248.6M281.8 248.6L283.1 248.6M281.8 248.6L282.7 249.6M292.7 188.9L291.8 182M291.8 182L292.8 183.6M291.8 182L291.2 183.8M292.7 195.7L291.8 189.1M291.8 189.1L292.8 190.7M291.8 189.1L291.2 191M292.7 202.5L291.7 196.3M291.7 196.3L292.8 197.9M291.7 196.3L291.2 198.1M292.7 209.3L291.5 203.5M291.5 203.5L292.6 205M291.5 203.5L291 205.4M292.7 216.1L291.2 210.8M291.2 210.8L292.4 212.2M291.2 210.8L290.9 212.6M292.7 222.9L290.8 218.1M290.8 218.1L292.1 219.3M290.8 218.1L290.6 219.9M292.7 229.7L290.2 225.5M290.2 225.5L291.6 226.5M290.2 225.5L290.4 227.2M292.7 236.5L289.6 233.1M289.6 233.1L291.1 233.7M289.6 233.1L290.1 234.6M292.7 243.3L289 240.9M289 240.9L290.6 241.1M289 240.9L289.8 242.2M292.7 250.1L288.6 248.8M288.6 248.8L290.1 248.6M288.6 248.8L289.7 249.8M300 188.9L298 182.3M298 182.3L299.2 183.7M298 182.3L297.7 184.1M300 195.7L297.9 189.4M297.9 189.4L299.2 190.7M297.9 189.4L297.7 191.3M300 202.5L297.8 196.6M297.8 196.6L299.2 197.9M297.8 196.6L297.7 198.5M300 209.3L297.6 203.8M297.6 203.8L299.1 205M297.6 203.8L297.6 205.7M300 216.1L297.4 211.1M297.4 211.1L298.9 212.2M297.4 211.1L297.5 213M300 222.9L297 218.4M297 218.4L298.6 219.4M297 218.4L297.3 220.3M300 229.7L296.6 225.9M296.6 225.9L298.3 226.6M296.6 225.9L297.1 227.6M300 236.5L296.2 233.4M296.2 233.4L297.9 233.8M296.2 233.4L296.9 235M300 243.3L295.8 241.2M295.8 241.2L297.5 241.2M295.8 241.2L296.8 242.5M300 250.1L295.5 249M295.5 249L297.1 248.7M295.5 249L296.8 250M307.4 188.9L304.2 182.7M304.2 182.7L305.7 183.8M304.2 182.7L304.3 184.6M307.4 195.7L304.2 189.8M304.2 189.8L305.7 190.9M304.2 189.8L304.3 191.7M307.4 202.5L304.1 197M304.1 197L305.7 198M304.1 197L304.3 198.8M307.4 209.3L304 204.2M304 204.2L305.6 205.2M304 204.2L304.2 206.1M307.4 216.1L303.8 211.5M303.8 211.5L305.5 212.3M303.8 211.5L304.2 213.3M307.4 222.9L303.5 218.8M303.5 218.8L305.3 219.5M303.5 218.8L304.1 220.6M307.4 229.7L303.2 226.3M303.2 226.3L305 226.7M303.2 226.3L304 228M307.4 236.5L302.9 233.8M302.9 233.8L304.7 234M302.9 233.8L303.9 235.3M307.4 243.3L302.7 241.4M302.7 241.4L304.4 241.3M302.7 241.4L303.9 242.7M307.4 250.1L302.5 249.1M302.5 249.1L304.2 248.7M302.5 249.1L303.9 250.2M314.7 188.9L310.6 183.2M310.6 183.2L312.3 184.1M310.6 183.2L310.9 185M314.7 195.7L310.6 190.3M310.6 190.3L312.3 191.2M310.6 190.3L311 192.1M314.7 202.5L310.6 197.5M310.6 197.5L312.3 198.3M310.6 197.5L311 199.3M314.7 209.3L310.5 204.7M310.5 204.7L312.2 205.4M310.5 204.7L311 206.5M314.7 216.1L310.3 212M310.3 212L312.1 212.6M310.3 212L311 213.7M314.7 222.9L310.2 219.3M310.2 219.3L312 219.7M310.2 219.3L311 221M314.7 229.7L310 226.7M310 226.7L311.9 226.9M310 226.7L311 228.3M314.7 236.5L309.8 234.2M309.8 234.2L311.7 234.2M309.8 234.2L311 235.6M314.7 243.3L309.6 241.7M309.6 241.7L311.5 241.4M309.6 241.7L311 243M314.7 250.1L309.5 249.3M309.5 249.3L311.3 248.8M309.5 249.3L311 250.3M322.1 188.9L317.1 183.8M317.1 183.8L318.9 184.4M317.1 183.8L317.7 185.6M322.1 195.7L317.2 190.9M317.2 190.9L319 191.5M317.2 190.9L317.8 192.6M322.1 202.5L317.2 198M317.2 198L319 198.6M317.2 198L317.9 199.8M322.1 209.3L317.1 205.2M317.1 205.2L319 205.7M317.1 205.2L317.9 207M322.1 216.1L317.1 212.5M317.1 212.5L318.9 212.8M317.1 212.5L318 214.1M322.1 222.9L317 219.8M317 219.8L318.9 220M317 219.8L318 221.4M322.1 229.7L316.9 227.1M316.9 227.1L318.8 227.2M316.9 227.1L318 228.6M322.1 236.5L316.8 234.5M316.8 234.5L318.7 234.4M316.8 234.5L318.1 235.9M322.1 243.3L316.7 241.9M316.7 241.9L318.5 241.6M316.7 241.9L318.1 243.1M322.1 250.1L316.6 249.4M316.6 249.4L318.4 248.8M316.6 249.4L318.2 250.4M329.4 188.9L323.8 184.4M323.8 184.4L325.6 184.9M323.8 184.4L324.6 186.2M329.4 195.7L323.8 191.5M323.8 191.5L325.7 191.9M323.8 191.5L324.7 193.2M329.4 202.5L323.9 198.6M323.9 198.6L325.8 199M323.9 198.6L324.8 200.3M329.4 209.3L323.9 205.8M323.9 205.8L325.8 206.1M323.9 205.8L324.9 207.4M329.4 216.1L323.9 213M323.9 213L325.8 213.1M323.9 213L325 214.6M329.4 222.9L323.9 220.3M323.9 220.3L325.8 220.3M323.9 220.3L325.1 221.7M329.4 229.7L323.8 227.5M323.8 227.5L325.7 227.4M323.8 227.5L325.2 228.9M329.4 236.5L323.8 234.8M323.8 234.8L325.7 234.5M323.8 234.8L325.2 236.1M329.4 243.3L323.8 242.2M323.8 242.2L325.6 241.7M323.8 242.2L325.3 243.3M329.4 250.1L323.7 249.5M323.7 249.5L325.5 248.9M323.7 249.5L325.4 250.5M336.8 188.9L330.5 185.2M330.5 185.2L332.4 185.4M330.5 185.2L331.6 186.8M336.8 195.7L330.7 192.2M330.7 192.2L332.6 192.4M330.7 192.2L331.7 193.8M336.8 202.5L330.8 199.3M330.8 199.3L332.7 199.4M330.8 199.3L331.9 200.8M336.8 209.3L330.8 206.4M330.8 206.4L332.7 206.4M330.8 206.4L332 207.9M336.8 216.1L330.9 213.6M330.9 213.6L332.8 213.5M330.9 213.6L332.1 215M336.8 222.9L330.9 220.7M330.9 220.7L332.8 220.6M330.9 220.7L332.2 222.1M336.8 229.7L330.9 227.9M330.9 227.9L332.8 227.6M330.9 227.9L332.3 229.2M336.8 236.5L330.9 235.1M330.9 235.1L332.8 234.7M330.9 235.1L332.4 236.3M336.8 243.3L330.9 242.4M330.9 242.4L332.7 241.8M330.9 242.4L332.5 243.4M336.8 250.1L330.9 249.6M330.9 249.6L332.7 249M330.9 249.6L332.5 250.6M344.1 188.9L337.4 185.9M337.4 185.9L339.3 185.9M337.4 185.9L338.7 187.4M344.1 195.7L337.6 192.9M337.6 192.9L339.5 192.8M337.6 192.9L338.8 194.3M344.1 202.5L337.7 200M337.7 200L339.6 199.8M337.7 200L339 201.3M344.1 209.3L337.8 207M337.8 207L339.7 206.8M337.8 207L339.2 208.4M344.1 216.1L337.9 214.1M337.9 214.1L339.8 213.8M337.9 214.1L339.3 215.4M344.1 222.9L338 221.2M338 221.2L339.9 220.9M338 221.2L339.4 222.4M344.1 229.7L338 228.3M338 228.3L339.9 227.9M338 228.3L339.5 229.5M344.1 236.5L338.1 235.4M338.1 235.4L339.9 234.9M338.1 235.4L339.6 236.5M344.1 243.3L338.1 242.6M338.1 242.6L339.9 242M338.1 242.6L339.7 243.6M344.1 250.1L338.1 249.7M338.1 249.7L339.9 249M338.1 249.7L339.8 250.7M351.4 188.9L344.4 186.7M344.4 186.7L346.3 186.4M344.4 186.7L345.8 188M351.4 195.7L344.6 193.6M344.6 193.6L346.5 193.4M344.6 193.6L346 194.9M351.4 202.5L344.8 200.6M344.8 200.6L346.7 200.3M344.8 200.6L346.2 201.9M351.4 209.3L344.9 207.6M344.9 207.6L346.8 207.3M344.9 207.6L346.4 208.8M351.4 216.1L345 214.6M345 214.6L346.9 214.2M345 214.6L346.5 215.8M351.4 222.9L345.1 221.6M345.1 221.6L347 221.2M345.1 221.6L346.7 222.8M351.4 229.7L345.2 228.7M345.2 228.7L347 228.2M345.2 228.7L346.8 229.8M351.4 236.5L345.3 235.7M345.3 235.7L347.1 235.1M345.3 235.7L346.9 236.7M351.4 243.3L345.3 242.8M345.3 242.8L347.1 242.1M345.3 242.8L347 243.7M351.4 250.1L345.3 249.8M345.3 249.8L347.1 249.1M345.3 249.8L347 250.7"/>
<path fill="none" stroke="#7a7a7a" stroke-width="1.6" stroke-dasharray="1.7 1.6" d="M202.5 178.0H221.4M226.1 186.2H354.9"/>
<path fill="none" stroke="#000" stroke-width="1.7" d="M248.6 256.9H354.9"/>
<path fill="#fff" stroke="none" d="M221.9 141.3V222.3a1.70 1.36 0 0 0 3.40 0V141.3z"/>
<path fill="none" stroke="#000" stroke-width="1.25" stroke-linejoin="miter" d="M202.0 257.4V141.3H225.3V222.3a1.70 1.36 0 0 1 -3.40 0V141.3"/>
<path fill="#fff" stroke="none" d="M245.7 262.6V217.5a1.70 1.36 0 0 1 3.40 0V262.6z"/>
<path fill="none" stroke="#000" stroke-width="1.25" d="M202.0 256.9H245.7V217.5a1.70 1.36 0 0 1 3.40 0V257.7"/>
<path stroke="#999" stroke-width="0.6" fill="none" d="M201.5 263.2v-1.5M201.5 137.7v1.5M235.5 263.2v-1.5M235.5 137.7v1.5M269.5 263.2v-1.5M269.5 137.7v1.5M303.5 263.2v-1.5M303.5 137.7v1.5M337.5 263.2v-1.5M337.5 137.7v1.5M201.5 243.3h1.5M354.9 243.3h-1.5M201.5 216.1h1.5M354.9 216.1h-1.5M201.5 188.9h1.5M354.9 188.9h-1.5M201.5 161.7h1.5M354.9 161.7h-1.5"/>
<text class="tk" x="201.5" y="273.4" text-anchor="middle">0</text>
<text class="tk" x="235.5" y="273.4" text-anchor="middle">5</text>
<text class="tk" x="269.5" y="273.4" text-anchor="middle">10</text>
<text class="tk" x="303.5" y="273.4" text-anchor="middle">15</text>
<text class="tk" x="337.5" y="273.4" text-anchor="middle">20</text>
<text class="ax" x="277.7" y="282.8" text-anchor="middle">x [m]</text>
<text class="tl" x="349.9" y="150.7" text-anchor="end">t=1.04s (=T/6)</text>
<rect x="366.0" y="137.7" width="153.4" height="125.5" fill="#fff" stroke="#b4b4b4" stroke-width="0.7"/>
<clipPath id="cp2"><rect x="366.0" y="188.9" width="153.4" height="68.0"/></clipPath>
<g clip-path="url(#cp2)">
<rect x="366.0" y="188.9" width="153.4" height="68.0" fill="#000067"/>
<path fill="#000075" d="M366 256.9l153 0 0-68-132.1 0-0.1 2.1-20.8 0.1 0 65.4z"/>
<path fill="#000083" d="M366 256.9l153 0 0-68-132.1 0-0.1 7.2-20.8 0.1 0 60.3z"/>
<path fill="#000090" d="M366 256.9l153 0 0-68-132 0-0.2 12.3-20.8 0.2 0 55.1z"/>
<path fill="#00009e" d="M366 256.9l153 0 0-68-131.9 0-0.3 17.4-20.8 0.4 0 49.8z"/>
<path fill="#0000ab" d="M366 256.9l153 0 0-68-131.8 0-0.4 22.3-20.8 0.9 0 44.4z"/>
<path fill="#0000b8" d="M366 256.9l153 0 0-68-131.7 0-0.5 26.9-5.1 0.3-10.2 1.5-5.5 0.3 0 38.6z"/>
<path fill="#0000c4" d="M366 256.9l153 0 0-68-131.6 0-0.6 30.8-3.4 0.4-6.8 2.4-5.1 1.4-5.5 0.5 0 32.1z"/>
<path fill="#0000d1" d="M366 256.9l153 0 0-68-131.5 0-0.4 25.1-0.3 7.4-4.2 2.8-4.3 3.3-3.4 2-1.7 0.8-3.4 1.1-3.8 0.4 0 24.7z"/>
<path fill="#0002dc" d="M366 256.9l153 0 0-68-131.4 0-0.4 31.9-0.9 3.4-1.2 2.8-3.4 6.3-1.7 2.6-3.4 4.1-1.7 1.5-3.4 2.4-3.4 1.3-2.1 0.2 0 11.1z"/>
<path fill="#0006e6" d="M384.1 256.9l134.9 0 0-68-131.4 0-0.2 28.5 0 3.4 0.3 1.7 0 3.4-0.9 8.4-2.4 17.1-0.3 5.1z"/>
<path fill="#0009f0" d="M394.3 256.9l124.7 0 0-68-131.3 0-0.1 31.9 1.1 1.7 1.9 13.6 3.2 15.3 0.5 5.1z"/>
<path fill="#000dfa" d="M410.7 256.9l108.3 0 0-68-131.2 0 0 31.9 0.7 1.2 0.7 0.5 2.7 6.9 3.4 7.2 3.4 5.1 3.4 3.7 3.4 2.7 1.7 0.9 1.7 0.5 1.7 0.1 0.1 6.9z"/>
<path fill="#0015ff" d="M410.8 256.9l108.2 0 0-68-131.1 0-0.1 26.8 0.2 5.1 0.5 0.9 1.2 0.8 0.5 1 0.9 0.7 4.2 6 1.7 2.1 3.4 3.4 1.7 1.2 3.4 1.8 1.7 0.5 3.4 0.3 0.2 17z"/>
<path fill="#0020ff" d="M411 256.9l108 0 0-68-131 0-0.1 26.8 0.3 5.1 0.3 0.5 4.5 2.9 5.7 5.4 3.4 2.4 3.4 1.5 1.7 0.4 3.4 0.3 0.4 22.3z"/>
<path fill="#002bff" d="M411.1 256.9l107.9 0 0-68-130.9 0 0 26.8 0.3 5.1 3.5 1 1.4 0.7 7.1 4.9 3.4 1.6 3.4 1.1 3.4 0.2 0.4 9.2 0.1 17z"/>
<path fill="#0036ff" d="M411.3 256.9l107.7 0 0-68-130.8 0 0 26.8 0.3 4.3 3.4 0.3 1.7 0.6 8.5 4.4 3.4 1.3 1.7 0.3 3.4 0.3 0.5 10.6 0.2 18.7z"/>
<path fill="#0042ff" d="M411.5 256.9l107.5 0 0-68-130.7 0 0 23.4 0.2 6 3.4 0.2 1.7 0.5 10.2 4.4 3.4 0.9 3.4 0.3 0.7 9.8 0.2 22.1z"/>
<path fill="#004fff" d="M411.6 256.9l107.4 0 0-68-130.7 0 0.2 27.4 3.4 0.1 1.7 0.3 5.1 1.9 0.7 0.5 2.7 1 1.7 0.9 5.1 1.1 1.7 0 0.5 3.8 0.3 6.8 0.2 23.8z"/>
<path fill="#005bff" d="M411.8 256.9l107.2 0 0-68-130.6 0 0.1 20.6 3.4 0.1 1.7 0.3 3.4 1.1 3.4 1.7 6.8 4 1.7 0.7 1.7 0.1 0.7 6.7 0.3 5.1 0.2 27.2z"/>
<path fill="#0068ff" d="M412 256.9l107 0 0-68-130.5 0 0 0.9 1.7 0 0.2 0.4 1.5 0.9 10.2 10.3 5.1 6.4 1.7 2.7 1.7 3.6 0.8 3.3 0.4 8.5 0.2 30.6z"/>
<path fill="#0075ff" d="M412.1 256.9l106.9 0 0-68-107.3 0 1 4.7 3.1 10.2 0.7 3.4 0.2 3.4-0.7 3.4-0.9 1.7-1.1 0.8-1.7 0.5-0.1 0.4-0.1 39.1z"/>
<path fill="#0083ff" d="M412.3 256.9l99.7 0 0.4-5.5 1.2-6.8 2.7-8.5 1.4-3.5 1.3-2 0-41.7-95.3 0 3.3 9.8 1.8 6.8 0.7 6.8-0.3 5.1-0.8 3.4-1.4 3.4-2.3 3.4-2.2 2.3-3.4 2.2-1.7 0.6-1.7 0.5-3.4 0.1 0 23.2z"/>
<path fill="#0090ff" d="M468.2 222.5l3.6 0.8 3.4 0.2 3.4-0.2 3.4-0.6 3.4-1 3.4-1.3 5.1-2.6 3.4-2.1 5.1-3.7 5.1-4.3 5.1-5 5.1-5.6 1.3-1 0-7.2-83.2 0 0.5 1.3 6.6 10 5.1 6.9 3.4 4 3.4 3.4 5.1 4.1 3.4 2 3.4 1.4z"/>
<path fill="#009eff" d="M473 200.4l3.9 0.3 5.1-0.2 5.1-0.8 3.4-1 5.1-1.9 5.1-2.6 5.1-3.2 1.1-0.8 1.1-1.3-58.1 0 1 1.3 2.2 1.6 3.4 2.4 3.4 1.9 5.1 2.3 3.4 1.1 3.4 0.7z"/>
<path fill="none" stroke="#ebf5be" stroke-opacity="0.6" stroke-width="0.95" d="M386 192.5l-20 0.1M386 195.8l-20 0.1M386 199l-20 0.1M386 202.2l-20 0.2M386 205.4l-20 0.4M386 208.5l-20 0.6M386 211.6l-15.3 0.9-4.7 0.1M386 214.5l-4.3 0.3-10.2 1.1-5.5 0.3M386 217.3l-4.3 0.4-10.2 2-5.5 0.3M386 219.7l-3.4 0.6-6.8 2.3-3.4 1-3.4 0.5-3 0.2M386 221.7l-2.3 0.8-6.2 3.6-4.3 2-3.4 0.9-3.8 0.4M386.3 222.8l-1.5 1.4-4.8 5.2-4.2 3.6-2.6 1.6-2.5 1-2.6 0.6-2.1 0.2M386.9 223.3l-0.9 3.3-2.6 6.4-2.5 5.1-2.6 4-3.4 4.2-3.4 3.3-1.7 1.4-1.7 1-2.1 0.4M388.4 223.3l1.2 33.6M389.5 223.2l5 10.5 1.7 2.8 2.5 3.5 2.6 2.7 3.4 2.5 2.5 1.2 2.6 0.5M390.1 222.6l1.4 0.7 6.4 6.4 3.4 2.6 2.5 1.4 1.7 0.7 1.7 0.5 2.6 0.3M390.2 220.9l1.7 0.3 1.7 0.7 6 3.7 3.4 1.8 3.4 1.1 3.4 0.5M390.2 218.3l1.7 0.2 2.6 0.7 7.6 3.4 2.6 1 2.5 0.6 2.6 0.3M390.2 215.1l2.6 0.2 2.5 0.7 10.2 4.2 2.6 0.6 1.7 0.2M390.2 211l2.6 0.3 3.4 0.9 3.4 1.4 6.8 3.7 1.7 0.6 1.7 0.3M390.2 205.7l1.7 0.1 2.6 0.6 4.2 1.9 3.4 2.2 6.4 5.2 1.4 0.7M390.2 197l2.6 0.5 2.5 1.2 2.6 1.7 3.4 2.9 3.4 3.5 2.5 3.1 2.6 3.9 0.8 1.9M402.3 188.9l0.3 2.1 1.1 3.4 5.2 9.9 2.1 4.6 1 3.4 0.3 3.4M409.9 188.9l0.8 3.8 3.6 11.1 0.9 4.2 0.2 2.6-0.2 2.5-0.6 1.7-0.9 1.4M416.1 188.9l3.7 14 0.5 3.4 0.1 3.4-0.3 2.6-0.5 1.7-1.3 2.5-1.7 1.6-0.9 0.5-1.7 0.4M516.8 256.9l0.2-4.7 0.5-4.2 1.1-5.3 0.4 0M422.1 188.9l0 0.4 3.3 10.2 1.2 5.1 0.5 3.4 0.2 2.6-0.1 2.5-0.4 2.6-0.7 2.5-1 2.5-1.1 1.8-1.5 1.8-1.7 1.5-2.5 1.5-1.7 0.6-2.6 0.4M494.7 256.9l0.3-3.8 0.8-3.4 1.5-4.3 2.1-4.2 3-5.1 3.9-6 12.3-17.6 0.4 0M428.3 188.9l0 0.4 4.1 9.4 2.5 6.8 2.1 6.8 1.4 6.8 1 6.8 0.6 8.5 0.1 7.6 0 14.9M435 188.9l0 0.4 2.8 4.5 7.7 11.6 5.1 6.6 4.2 4.6 4.3 3.6 4.2 2.6 4.3 1.8 2.5 0.6 2.6 0.4 2.5 0.1 2.6-0.2 5.1-1 5.1-1.8 5.9-3.2 6-4 5.9-4.9 6.8-6.5 6-6.8 0.4 0M443 188.9l0 0.4 1.6 1.9 6 5.9 4.2 3.6 5.1 3.3 4.3 2.2 4.2 1.4 4.3 1 5.1 0.3 4.2-0.3 5.1-1 5.1-1.8 5.1-2.3 5.1-3.1 5.1-3.7 6-5.2 2.2-2.2 0-0.4M453.3 188.9l0 0.4 4.9 3.1 3.4 1.8 3.4 1.3 3.4 1.1 3.4 0.7 3.4 0.5 3.4 0.1 3.4-0.2 3.4-0.5 3.4-0.8 3.4-1 3.4-1.3 4.3-2.1 4.5-2.7 0-0.4"/>
</g>
<clipPath id="ap2"><rect x="366.0" y="137.7" width="153.4" height="125.5"/></clipPath>
<path clip-path="url(#ap2)" fill="none" stroke="#ecca8a" stroke-opacity="0.78" stroke-width="0.9" d="M369.1 188.9L369.1 198M369.1 198L368.3 196.3M369.1 198L369.9 196.3M369.1 195.7L369.1 204.8M369.1 204.8L368.3 203.1M369.1 204.8L369.9 203.1M369.1 202.5L369.1 211.6M369.1 211.6L368.3 209.9M369.1 211.6L369.9 209.8M369.1 209.3L369.2 218.3M369.2 218.3L368.4 216.6M369.2 218.3L370 216.6M369.1 216.1L369.5 224.9M369.5 224.9L368.6 223.2M369.5 224.9L370.2 223.1M369.1 222.9L369.9 231.2M369.9 231.2L368.9 229.6M369.9 231.2L370.5 229.4M369.1 229.7L370.3 237.3M370.3 237.3L369.2 235.7M370.3 237.3L370.8 235.4M369.1 236.5L370.5 243.1M370.5 243.1L369.3 241.6M370.5 243.1L370.9 241.3M369.1 243.3L370.6 248.9M370.6 248.9L369.4 247.4M370.6 248.9L370.9 247M369.1 250.1L371.1 254.3M371.1 254.3L369.8 253.3M371.1 254.3L371.1 252.7M376.4 188.9L376.4 198M376.4 198L375.6 196.3M376.4 198L377.3 196.3M376.4 195.7L376.5 204.8M376.5 204.8L375.6 203.1M376.5 204.8L377.3 203.1M376.4 202.5L376.6 211.6M376.6 211.6L375.7 209.9M376.6 211.6L377.3 209.9M376.4 209.3L376.9 218.4M376.9 218.4L376 216.7M376.9 218.4L377.6 216.6M376.4 216.1L377.7 225.1M377.7 225.1L376.6 223.5M377.7 225.1L378.2 223.3M376.4 222.9L379.3 231.2M379.3 231.2L378 229.8M379.3 231.2L379.5 229.3M376.4 229.7L380.7 236.4M380.7 236.4L379.1 235.4M380.7 236.4L380.4 234.6M376.4 236.5L381 241.8M381 241.8L379.2 241M381 241.8L380.5 240M376.4 243.3L381 247.3M381 247.3L379.1 246.8M381 247.3L380.2 245.6M376.4 250.1L381.1 252.5M381.1 252.5L379.3 252.5M381.1 252.5L380 251M383.7 188.9L383.8 198M383.8 198L383 196.3M383.8 198L384.6 196.3M383.7 195.7L383.8 204.8M383.8 204.8L383 203.1M383.8 204.8L384.6 203.1M383.7 202.5L383.8 211.7M383.8 211.7L383 209.9M383.8 211.7L384.6 209.9M383.7 209.3L384 218.5M384 218.5L383.1 216.8M384 218.5L384.7 216.8M383.7 216.1L384.5 225.6M384.5 225.6L383.6 223.9M384.5 225.6L385.2 223.8M383.7 222.9L388.5 231.1M388.5 231.1L386.9 230M388.5 231.1L388.3 229.2M383.7 229.7L391.4 233.6M391.4 233.6L389.5 233.6M391.4 233.6L390.2 232.1M383.7 236.5L390.6 238.9M390.6 238.9L388.7 239.1M390.6 238.9L389.2 237.6M383.7 243.3L389.9 244.9M389.9 244.9L388 245.3M389.9 244.9L388.4 243.7M383.7 250.1L389.4 251M389.4 251L387.6 251.5M389.4 251L387.9 249.9M391.1 188.9L394.1 186.9M394.1 186.9L393.5 188M394.1 186.9L392.9 187.1M391.1 195.7L392.1 190.1M392.1 190.1L392.6 192M392.1 190.1L391 191.7M391.1 202.5L391.8 195.6M391.8 195.6L392.4 197.3M391.8 195.6L390.8 197.2M391.1 209.3L391.7 201.3M391.7 201.3L392.4 203.1M391.7 201.3L390.8 203M391.1 216.1L391.8 207.1M391.8 207.1L392.5 208.9M391.8 207.1L390.9 208.8M391.1 222.9L396.2 214.9M396.2 214.9L395.9 216.8M396.2 214.9L394.6 215.9M391.1 229.7L399.4 227.1M399.4 227.1L398 228.4M399.4 227.1L397.5 226.8M391.1 236.5L398.2 235M398.2 235L396.7 236.1M398.2 235L396.4 234.5M391.1 243.3L397.4 242.3M397.4 242.3L395.8 243.3M397.4 242.3L395.6 241.7M391.1 250.1L396.9 249.5M396.9 249.5L395.2 250.5M396.9 249.5L395.1 248.9M398.4 188.9L404.4 188M404.4 188L402.8 189M404.4 188L402.6 187.4M398.4 195.7L403.5 191.7M403.5 191.7L402.6 193.4M403.5 191.7L401.6 192.1M398.4 202.5L402.6 196.5M402.6 196.5L402.3 198.4M402.6 196.5L401 197.5M398.4 209.3L402.2 202.1M402.2 202.1L402.1 204M402.2 202.1L400.7 203.2M398.4 216.1L401.9 208M401.9 208L402 209.9M401.9 208L400.5 209.2M398.4 222.9L402.7 215.1M402.7 215.1L402.6 217M402.7 215.1L401.2 216.2M398.4 229.7L403.7 223.5M403.7 223.5L403.2 225.3M403.7 223.5L402 224.3M398.4 236.5L403.7 231.7M403.7 231.7L403 233.5M403.7 231.7L401.9 232.3M398.4 243.3L403.5 239.8M403.5 239.8L402.5 241.4M403.5 239.8L401.6 240.1M398.4 250.1L403.5 248M403.5 248L402.2 249.4M403.5 248L401.6 247.9M405.8 188.9L412.8 187.7M412.8 187.7L411.2 188.8M412.8 187.7L410.9 187.2M405.8 195.7L412.4 192.8M412.4 192.8L411.1 194.3M412.4 192.8L410.5 192.8M405.8 202.5L412.2 198.2M412.2 198.2L411.2 199.8M412.2 198.2L410.3 198.5M405.8 209.3L412.2 203.7M412.2 203.7L411.5 205.4M412.2 203.7L410.4 204.2M405.8 216.1L410.5 207.9M410.5 207.9L410.3 209.8M410.5 207.9L408.9 209M405.8 222.9L408 214.4M408 214.4L408.4 216.3M408 214.4L406.8 215.9M405.8 229.7L407.9 222.1M407.9 222.1L408.2 224M407.9 222.1L406.6 223.5M405.8 236.5L407.9 230M407.9 230L408.2 231.8M407.9 230L406.6 231.3M405.8 243.3L408.1 237.9M408.1 237.9L408.1 239.8M408.1 237.9L406.6 239.2M405.8 250.1L408.6 246.2M408.6 246.2L408.3 247.9M408.6 246.2L407.1 247M413.1 188.9L420.5 187.3M420.5 187.3L419 188.4M420.5 187.3L418.7 186.9M413.1 195.7L420.3 193.5M420.3 193.5L418.9 194.7M420.3 193.5L418.4 193.2M413.1 202.5L420.5 200M420.5 200L419.2 201.3M420.5 200L418.7 199.8M413.1 209.3L421.5 207.6M421.5 207.6L420 208.7M421.5 207.6L419.6 207.1M420.5 188.9L427.8 186.7M427.8 186.7L426.4 187.9M427.8 186.7L426 186.4M420.5 195.7L427.7 193.6M427.7 193.6L426.3 194.8M427.7 193.6L425.9 193.3M420.5 202.5L427.9 201M427.9 201L426.4 202.1M427.9 201L426 200.5M420.5 209.3L428.1 209.5M428.1 209.5L426.4 210.3M428.1 209.5L426.4 208.6M420.5 216.1L427 219.6M427 219.6L425.1 219.5M427 219.6L425.8 218.1M420.5 222.9L424.5 227.8M424.5 227.8L422.8 227M424.5 227.8L424.1 225.9M420.5 229.7L423.3 234.3M423.3 234.3L421.7 233.3M423.3 234.3L423.1 232.4M420.5 236.5L422.8 240.5M422.8 240.5L421.5 239.6M422.8 240.5L422.7 238.9M420.5 243.3L422.7 246.6M422.7 246.6L421.5 245.9M422.7 246.6L422.5 245.2M420.5 250.1L423 252.3M423 252.3L421.9 252M423 252.3L422.6 251.2M427.8 188.9L434.8 185.9M434.8 185.9L433.6 187.3M434.8 185.9L432.9 185.8M427.8 195.7L434.8 193.1M434.8 193.1L433.4 194.5M434.8 193.1L432.9 192.9M427.8 202.5L434.8 200.7M434.8 200.7L433.3 201.9M434.8 200.7L432.9 200.3M427.8 209.3L434.8 208.8M434.8 208.8L433.1 209.8M434.8 208.8L433 208.1M427.8 216.1L434.3 217.2M434.3 217.2L432.4 217.7M434.3 217.2L432.7 216.1M427.8 222.9L433.3 225.2M433.3 225.2L431.4 225.3M433.3 225.2L432 223.8M427.8 229.7L432.4 232.3M432.4 232.3L430.5 232.2M432.4 232.3L431.3 230.8M427.8 236.5L431.8 239M431.8 239L430.2 238.8M431.8 239L430.9 237.6M427.8 243.3L431.5 245.3M431.5 245.3L430 245.2M431.5 245.3L430.6 244.1M427.8 250.1L431.4 251.3M431.4 251.3L430.1 251.5M431.4 251.3L430.5 250.4M435.2 188.9L441.6 185M441.6 185L440.5 186.6M441.6 185L439.7 185.2M435.2 195.7L441.6 192.3M441.6 192.3L440.4 193.8M441.6 192.3L439.7 192.4M435.2 202.5L441.6 199.9M441.6 199.9L440.3 201.3M441.6 199.9L439.7 199.8M435.2 209.3L441.5 207.6M441.5 207.6L440.1 208.8M441.5 207.6L439.7 207.3M435.2 216.1L441.3 215.4M441.3 215.4L439.7 216.4M441.3 215.4L439.5 214.8M435.2 222.9L440.8 223.1M440.8 223.1L439.1 223.8M440.8 223.1L439.1 222.2M435.2 229.7L440.3 230.4M440.3 230.4L438.5 230.9M440.3 230.4L438.7 229.4M435.2 236.5L439.8 237.3M439.8 237.3L438.2 237.8M439.8 237.3L438.4 236.4M435.2 243.3L439.4 244M439.4 244L437.9 244.4M439.4 244L438.2 243.2M435.2 250.1L439.2 250.5M439.2 250.5L437.8 251M439.2 250.5L438 249.8M442.5 188.9L448.1 184.2M448.1 184.2L447.3 185.9M448.1 184.2L446.3 184.6M442.5 195.7L448.1 191.4M448.1 191.4L447.2 193.1M448.1 191.4L446.3 191.8M442.5 202.5L448.1 198.9M448.1 198.9L447.1 200.5M448.1 198.9L446.3 199.1M442.5 209.3L448.1 206.4M448.1 206.4L447 207.9M448.1 206.4L446.2 206.5M442.5 216.1L448 213.9M448 213.9L446.7 215.3M448 213.9L446.1 213.8M442.5 222.9L447.8 221.4M447.8 221.4L446.3 222.7M447.8 221.4L445.9 221.1M442.5 229.7L447.4 228.7M447.4 228.7L446 229.8M447.4 228.7L445.7 228.3M442.5 236.5L447.1 235.9M447.1 235.9L445.7 236.8M447.1 235.9L445.5 235.4M442.5 243.3L446.8 243M446.8 243L445.5 243.7M446.8 243L445.4 242.4M442.5 250.1L446.6 249.9M446.6 249.9L445.3 250.6M446.6 249.9L445.3 249.4M449.8 188.9L454.5 183.4M454.5 183.4L454 185.2M454.5 183.4L452.8 184.2M449.8 195.7L454.5 190.6M454.5 190.6L454 192.4M454.5 190.6L452.8 191.3M449.8 202.5L454.5 197.9M454.5 197.9L453.9 199.7M454.5 197.9L452.7 198.6M449.8 209.3L454.5 205.3M454.5 205.3L453.8 207M454.5 205.3L452.7 205.8M449.8 216.1L454.5 212.7M454.5 212.7L453.6 214.4M454.5 212.7L452.6 213.1M449.8 222.9L454.3 220M454.3 220L453.3 221.6M454.3 220L452.5 220.3M449.8 229.7L454.2 227.4M454.2 227.4L453.1 228.7M454.2 227.4L452.4 227.5M449.8 236.5L454 234.7M454 234.7L452.9 235.9M454 234.7L452.4 234.6M449.8 243.3L453.8 242M453.8 242L452.7 243M453.8 242L452.4 241.8M449.8 250.1L453.7 249.4M453.7 249.4L452.6 250.2M453.7 249.4L452.4 249M457.2 188.9L460.7 182.7M460.7 182.7L460.6 184.6M460.7 182.7L459.2 183.8M457.2 195.7L460.8 189.9M460.8 189.9L460.5 191.8M460.8 189.9L459.2 190.9M457.2 202.5L460.8 197.2M460.8 197.2L460.5 199M460.8 197.2L459.1 198.1M457.2 209.3L460.8 204.4M460.8 204.4L460.4 206.3M460.8 204.4L459.1 205.3M457.2 216.1L460.7 211.7M460.7 211.7L460.3 213.5M460.7 211.7L459 212.5M457.2 222.9L460.6 219M460.6 219L460.1 220.7M460.6 219L458.9 219.7M457.2 229.7L460.5 226.2M460.5 226.2L460 227.8M460.5 226.2L458.9 226.8M457.2 236.5L460.4 233.5M460.4 233.5L459.8 235M460.4 233.5L459 234M457.2 243.3L460.4 241M460.4 241L459.7 242.2M460.4 241L459.1 241.2M457.2 250.1L460.6 248.7M460.6 248.7L459.7 249.7M460.6 248.7L459.3 248.7M464.5 188.9L466.9 182.2M466.9 182.2L467.1 184.1M466.9 182.2L465.5 183.6M464.5 195.7L466.9 189.4M466.9 189.4L467.1 191.3M466.9 189.4L465.5 190.7M464.5 202.5L466.9 196.6M466.9 196.6L467 198.5M466.9 196.6L465.5 197.9M464.5 209.3L466.9 203.8M466.9 203.8L466.9 205.7M466.9 203.8L465.4 205M464.5 216.1L466.8 211M466.8 211L466.8 212.9M466.8 211L465.3 212.2M464.5 222.9L466.7 218.2M466.7 218.2L466.7 220M466.7 218.2L465.3 219.4M464.5 229.7L466.5 225.4M466.5 225.4L466.6 227.1M466.5 225.4L465.3 226.5M464.5 236.5L466.4 232.6M466.4 232.6L466.4 234.1M466.4 232.6L465.3 233.6M464.5 243.3L466.4 240M466.4 240L466.3 241.3M466.4 240L465.3 240.8M464.5 250.1L466.7 247.7M466.7 247.7L466.4 248.8M466.7 247.7L465.7 248.2M471.9 188.9L473 182M473 182L473.5 183.8M473 182L471.9 183.5M471.9 195.7L473 189.1M473 189.1L473.5 190.9M473 189.1L471.9 190.6M471.9 202.5L472.9 196.2M472.9 196.2L473.5 198.1M472.9 196.2L471.9 197.8M471.9 209.3L472.9 203.4M472.9 203.4L473.4 205.2M472.9 203.4L471.8 205M471.9 216.1L472.8 210.6M472.8 210.6L473.3 212.4M472.8 210.6L471.7 212.1M471.9 222.9L472.6 217.7M472.6 217.7L473.1 219.5M472.6 217.7L471.6 219.3M471.9 229.7L472.4 224.9M472.4 224.9L472.9 226.5M472.4 224.9L471.5 226.4M471.9 236.5L472.1 232.2M472.1 232.2L472.7 233.6M472.1 232.2L471.4 233.5M471.9 243.3L471.7 239.5M471.7 239.5L472.3 240.7M471.7 239.5L471.2 240.7M471.9 250.1L471.2 247.1M471.2 247.1L471.9 247.9M471.2 247.1L471 248.1M479.2 188.9L479.1 181.9M479.1 181.9L479.9 183.6M479.1 181.9L478.3 183.6M479.2 195.7L479.1 189M479.1 189L479.9 190.7M479.1 189L478.3 190.7M479.2 202.5L479 196.1M479 196.1L479.9 197.8M479 196.1L478.3 197.9M479.2 209.3L478.9 203.3M478.9 203.3L479.8 205M478.9 203.3L478.2 205.1M479.2 216.1L478.7 210.5M478.7 210.5L479.7 212.1M478.7 210.5L478.1 212.3M479.2 222.9L478.5 217.7M478.5 217.7L479.5 219.2M478.5 217.7L478 219.4M479.2 229.7L478.2 224.9M478.2 224.9L479.2 226.3M478.2 224.9L477.8 226.6M479.2 236.5L477.8 232.3M477.8 232.3L478.9 233.4M477.8 232.3L477.6 233.8M479.2 243.3L477.2 239.8M477.2 239.8L478.3 240.6M477.2 239.8L477.3 241.2M479.2 250.1L476.4 247.9M476.4 247.9L477.6 248.1M476.4 247.9L477 249M486.6 188.9L485.2 182M485.2 182L486.3 183.5M485.2 182L484.7 183.8M486.6 195.7L485.2 189.1M485.2 189.1L486.3 190.6M485.2 189.1L484.8 190.9M486.6 202.5L485.1 196.3M485.1 196.3L486.3 197.7M485.1 196.3L484.7 198.1M486.6 209.3L485 203.4M485 203.4L486.2 204.9M485 203.4L484.7 205.3M486.6 216.1L484.8 210.6M484.8 210.6L486.1 212M484.8 210.6L484.6 212.5M486.6 222.9L484.6 217.9M484.6 217.9L486 219.2M484.6 217.9L484.5 219.8M486.6 229.7L484.2 225.2M484.2 225.2L485.6 226.3M484.2 225.2L484.3 227M486.6 236.5L483.8 232.7M483.8 232.7L485.2 233.5M483.8 232.7L484.1 234.3M486.6 243.3L483.3 240.4M483.3 240.4L484.8 240.8M483.3 240.4L483.9 241.8M486.6 250.1L482.7 248.4M482.7 248.4L484.2 248.4M482.7 248.4L483.7 249.5M493.9 188.9L491.4 182.3M491.4 182.3L492.8 183.6M491.4 182.3L491.3 184.2M493.9 195.7L491.4 189.4M491.4 189.4L492.8 190.7M491.4 189.4L491.3 191.3M493.9 202.5L491.4 196.6M491.4 196.6L492.8 197.8M491.4 196.6L491.3 198.4M493.9 209.3L491.2 203.7M491.2 203.7L492.7 204.9M491.2 203.7L491.3 205.6M493.9 216.1L491.1 211M491.1 211L492.6 212.1M491.1 211L491.2 212.9M493.9 222.9L490.8 218.3M490.8 218.3L492.5 219.2M490.8 218.3L491.1 220.1M493.9 229.7L490.5 225.6M490.5 225.6L492.2 226.4M490.5 225.6L491 227.4M493.9 236.5L490.2 233.2M490.2 233.2L491.9 233.7M490.2 233.2L490.9 234.8M493.9 243.3L489.8 240.9M489.8 240.9L491.5 241M489.8 240.9L490.7 242.3M493.9 250.1L489.5 248.8M489.5 248.8L491.1 248.5M489.5 248.8L490.7 249.9M501.3 188.9L497.7 182.7M497.7 182.7L499.3 183.8M497.7 182.7L497.9 184.6M501.3 195.7L497.8 189.8M497.8 189.8L499.3 190.9M497.8 189.8L497.9 191.7M501.3 202.5L497.7 197M497.7 197L499.3 198M497.7 197L498 198.9M501.3 209.3L497.6 204.2M497.6 204.2L499.3 205.1M497.6 204.2L498 206.1M501.3 216.1L497.5 211.4M497.5 211.4L499.2 212.3M497.5 211.4L497.9 213.3M501.3 222.9L497.3 218.7M497.3 218.7L499.1 219.4M497.3 218.7L497.9 220.6M501.3 229.7L497.1 226.1M497.1 226.1L498.9 226.6M497.1 226.1L497.9 227.9M501.3 236.5L496.8 233.6M496.8 233.6L498.7 233.9M496.8 233.6L497.8 235.2M501.3 243.3L496.6 241.3M496.6 241.3L498.4 241.2M496.6 241.3L497.8 242.6M501.3 250.1L496.4 249M496.4 249L498.1 248.7M496.4 249L497.8 250.1M508.6 188.9L504.2 183.3M504.2 183.3L505.9 184.1M504.2 183.3L504.6 185.1M508.6 195.7L504.2 190.4M504.2 190.4L505.9 191.2M504.2 190.4L504.7 192.2M508.6 202.5L504.2 197.5M504.2 197.5L505.9 198.3M504.2 197.5L504.7 199.3M508.6 209.3L504.2 204.7M504.2 204.7L505.9 205.4M504.2 204.7L504.8 206.5M508.6 216.1L504.1 212M504.1 212L505.9 212.5M504.1 212L504.8 213.7M508.6 222.9L503.9 219.3M503.9 219.3L505.8 219.7M503.9 219.3L504.8 221M508.6 229.7L503.8 226.6M503.8 226.6L505.7 226.9M503.8 226.6L504.8 228.2M508.6 236.5L503.6 234.1M503.6 234.1L505.5 234.1M503.6 234.1L504.8 235.6M508.6 243.3L503.5 241.6M503.5 241.6L505.4 241.4M503.5 241.6L504.9 242.9M508.6 250.1L503.4 249.2M503.4 249.2L505.2 248.7M503.4 249.2L504.9 250.3M515.9 188.9L510.7 183.9M510.7 183.9L512.5 184.5M510.7 183.9L511.4 185.7M515.9 195.7L510.8 191M510.8 191L512.6 191.5M510.8 191L511.5 192.7M515.9 202.5L510.8 198.1M510.8 198.1L512.7 198.6M510.8 198.1L511.6 199.9M515.9 209.3L510.8 205.3M510.8 205.3L512.7 205.7M510.8 205.3L511.7 207M515.9 216.1L510.8 212.5M510.8 212.5L512.7 212.8M510.8 212.5L511.7 214.2M515.9 222.9L510.7 219.8M510.7 219.8L512.6 220M510.7 219.8L511.8 221.4M515.9 229.7L510.7 227.1M510.7 227.1L512.6 227.1M510.7 227.1L511.9 228.6M515.9 236.5L510.6 234.5M510.6 234.5L512.5 234.3M510.6 234.5L511.9 235.9M515.9 243.3L510.5 241.9M510.5 241.9L512.4 241.6M510.5 241.9L512 243.1M515.9 250.1L510.5 249.4M510.5 249.4L512.3 248.8M510.5 249.4L512.1 250.4"/>
<path fill="none" stroke="#7a7a7a" stroke-width="1.6" stroke-dasharray="1.7 1.6" d="M367.0 188.2H385.9M390.6 186.2H519.4"/>
<path fill="none" stroke="#000" stroke-width="1.7" d="M413.1 256.9H519.4"/>
<path fill="#fff" stroke="none" d="M386.4 141.3V222.3a1.70 1.36 0 0 0 3.40 0V141.3z"/>
<path fill="none" stroke="#000" stroke-width="1.25" stroke-linejoin="miter" d="M366.5 257.4V141.3H389.8V222.3a1.70 1.36 0 0 1 -3.40 0V141.3"/>
<path fill="#fff" stroke="none" d="M410.2 262.6V217.5a1.70 1.36 0 0 1 3.40 0V262.6z"/>
<path fill="none" stroke="#000" stroke-width="1.25" d="M366.5 256.9H410.2V217.5a1.70 1.36 0 0 1 3.40 0V257.7"/>
<path stroke="#999" stroke-width="0.6" fill="none" d="M366.0 263.2v-1.5M366.0 137.7v1.5M400.0 263.2v-1.5M400.0 137.7v1.5M434.0 263.2v-1.5M434.0 137.7v1.5M468.0 263.2v-1.5M468.0 137.7v1.5M502.0 263.2v-1.5M502.0 137.7v1.5M366.0 243.3h1.5M519.4 243.3h-1.5M366.0 216.1h1.5M519.4 216.1h-1.5M366.0 188.9h1.5M519.4 188.9h-1.5M366.0 161.7h1.5M519.4 161.7h-1.5"/>
<text class="tk" x="366.0" y="273.4" text-anchor="middle">0</text>
<text class="tk" x="400.0" y="273.4" text-anchor="middle">5</text>
<text class="tk" x="434.0" y="273.4" text-anchor="middle">10</text>
<text class="tk" x="468.0" y="273.4" text-anchor="middle">15</text>
<text class="tk" x="502.0" y="273.4" text-anchor="middle">20</text>
<text class="ax" x="442.2" y="282.8" text-anchor="middle">x [m]</text>
<text class="tl" x="514.4" y="150.7" text-anchor="end">t=2.09s (=2T/6)</text>
<rect x="36.4" y="290.5" width="153.4" height="125.5" fill="#fff" stroke="#b4b4b4" stroke-width="0.7"/>
<clipPath id="cp3"><rect x="36.4" y="341.2" width="153.4" height="68.0"/></clipPath>
<g clip-path="url(#cp3)">
<rect x="36.4" y="341.2" width="153.4" height="68.0" fill="#0000b8"/>
<path fill="#0000c4" d="M36.4 409.2l153 0 0-68-132.2 0 0 2.1-20.8 0.1 0 65.4z"/>
<path fill="#0000d1" d="M36.4 409.2l153 0 0-68-132 0-0.2 14.9-20.8 0.3 0 52.4z"/>
<path fill="#0002dc" d="M36.4 409.2l153 0 0-68-131.9 0-0.3 26.9-5.1 0.3-10.2 1.5-5.5 0.3 0 38.6z"/>
<path fill="#0006e6" d="M36.4 409.2l153 0 0-68-131.7 0-0.5 32.2-3.1 1.4-7.1 4.1-3.4 1.5-3.4 1-3.8 0.4 0 27z"/>
<path fill="#0009f0" d="M36.4 409.2l153 0 0-68-131.6 0-0.2 31.9-0.4 1.5-0.2 0.2-0.5 1.7-1 2.2-3.4 5.9-1.7 2.4-3.4 3.8-1.7 1.5-3.4 2.2-3.4 1.2-2.1 0.2 0 12.9z"/>
<path fill="#000dfa" d="M55.4 409.2l134 0 0-68-131.5 0-0.2 26.8 0.1 5.1 0.5 1.7-0.1 3.4-0.8 10.2-1.6 13.6-0.4 6.8z"/>
<path fill="#0015ff" d="M67.5 409.2l121.9 0 0-68-131.3 0 0 31.9 1.1 1.7 3.1 14.5 4.5 14.4 0.7 5.1z"/>
<path fill="#0020ff" d="M81.1 409.2l108.3 0 0-68-131.2 0-0.1 26.8 0.2 5.1 0.6 1 0.9 0.7 5.9 11 3.4 4.6 3.4 3.2 3.4 2.1 1.7 0.7 3.4 0.4 0.1 12z"/>
<path fill="#002bff" d="M81.4 409.2l108 0 0-68-131 0-0.1 26.8 0.2 5.1 0.4 0.6 3.7 2.8 4.8 5.6 3.4 3 1.7 1.2 3.4 1.7 3.4 0.7 1.7 0.1 0.4 20z"/>
<path fill="#0036ff" d="M81.6 409.2l107.8 0 0-68-130.9 0-0.1 26.8 0.4 5.1 0.1 0.2 4.2 1.5 7.7 5.9 3.4 1.8 3.4 1 3.4 0.3 0.5 9.7 0.1 15.3z"/>
<path fill="#0042ff" d="M81.9 409.2l107.5 0 0-68-130.8 0 0 25.1 0.3 5.9 1.7 0 1.7 0.3 1.7 0.6 6.8 4.1 3.4 1.7 3.4 0.9 3.4 0.3 0.7 10 0.2 18.7z"/>
<path fill="#004fff" d="M82.1 409.2l107.3 0 0-68-130.6 0 0 25.1 0.1 3.8 3.4 0.2 1.7 0.5 10.2 5 3.4 1 3.4 0.3 0.5 2.8 0.4 5.1 0.2 23.8z"/>
<path fill="#005bff" d="M82.4 409.2l107 0 0-68-130.5 0 0 25.4 3.4 0.2 1.6 1.2 1.8 0.1 1.7 0.6 1.2 1 0.5 0.1 1.7 1.6 1.7 0.1 1.7 1.6 6.8 0.8 0.7 2.6 0.4 5.1 0.3 27.2z"/>
<path fill="#0068ff" d="M82.6 409.2l106.8 0 0-68-93.1 0-1.2 8.1-1.3 6.8-1.5 5.1-1.4 3.4-1 1.7-2.1 2.4-1.7 1.2-1.7 0.5-1.7 0-0.2 4.4 0.1 34z"/>
<path fill="#0075ff" d="M148.9 409.2l40.5 0 0-68-61.6 0 12.8 33.6 5 14.5 1.6 5.9 0.7 3.4 0.7 5.1 0.3 5.1z"/>
<path fill="none" stroke="#ebf5be" stroke-opacity="0.6" stroke-width="0.95" d="M56.4 346l-20 0.1M56.4 350.4l-20 0.1M56.4 354.8l-20 0.2M56.4 359.1l-20 0.5M56.4 363.4l-20 0.9M56.4 367.4l-4.3 0.2-10.2 1.3-5.5 0.3M56.4 371l-3.4 0.4-10.2 2.6-3.4 0.5-3 0.1M56.4 373.9l-2.8 0.9-6.6 3.6-3.4 1.5-3.4 0.9-3.8 0.4M56.9 375.3l-6.5 8.4-1.7 1.8-2.5 2.1-2.6 1.7-2.5 1.2-2.6 0.6-2.1 0.2M58.3 375.6l-1.2 11.1-2.7 17-0.4 5.5M60 375.4l4.9 10.6 1.7 2.9 2.5 3.6 2.6 2.7 3.4 2.7 2.5 1.2 2.6 0.5M60.6 374.3l1.5 0.5 1.3 0.8 5.7 5 3.4 2.3 3.4 1.5 1.7 0.5 2.6 0.3M60.6 371l1.7 0.3 2.6 0.8 6.8 3.7 2.5 1.2 3.4 1 2.6 0.3M60.6 366l1.7 0.2 2.6 0.7 2.5 1.1 7.7 4.3 2.5 0.8 2.6 0.4M60.6 356.3l0.9 0.1 1.7 0.8 2.5 1.7 7.9 7.4 2.3 2 2.4 1.4 1.9 0.5M68.9 341.2l0 0.4-4 3.4-2.6 1.5-1.7 0.5M77 341.2l0 0.4-1.7 3.4-1.2 3.4-0.5 2.6 0 3.4 0.8 3.4 1.6 4.2 2.5 4.3 1.3 1.7 0.7 0.5M82.7 341.2l-2.1 7.2-0.6 3.4-0.2 2.6 0.3 5.1 1.4 8.5M87.7 341.2l-2.5 11.5-1.9 15.3M92.5 341.2l-2.5 13.2-1.7 6.8-0.8 2.5-1.2 2.6-1.2 1.7-0.9 0.6M97.1 341.2l-0.8 6.4-1.2 6.8-1 4.2-1.5 4.3-1.8 3.4-2 2.5-1.8 1.3-1.7 0.7-0.9 0.2M101.9 341.2l-0.7 8.1-1 6.8-1.5 5.9-1.8 4.3-1.4 2.5-1.3 1.7-1.3 1.4-1.7 1.5-1.7 1-1.7 0.8-1.7 0.4-1.7 0.2M106.7 341.2l-0.2 9.8-0.3 4.2-0.6 4.3-0.7 3.4-1 3.4-1.2 3.4-1.2 2.5-1.8 2.9-1.7 2.3-1.7 1.8-2.5 2.1-2.6 1.6-1.7 0.7-2.5 0.8-2.6 0.3M111.7 341.2l0.6 9.8 0 7.6-0.7 7.7-1.4 6.8-2 6.2-2.5 5.9-3.4 6.4-5.3 8.7-1.7 3.4-0.9 2.5-0.4 3M117 341.2l1.3 8.9 0.9 6.8 0.4 6.8 0.1 6-0.4 9.3-2.4 21.3-0.4 8.9M122.5 341.2l4.8 19.1 1.7 8.5 1.3 7.7 1.2 8.5 0.8 8.5 0.4 7.6 0.2 8.1M128.5 341.2l0.1 0.9 14.6 36.1 3.7 10.2 1.8 5.9 1.2 5.1 0.7 5.1 0.2 4.7M134.9 341.2l0 0.4 0.5 1 5.1 9 7.7 11.9 7.6 10.2 7.7 8.9 4.2 4.5 4.3 4.1 4.2 3.7 3.4 2.5 2.6 1.5 2.5 1 2.6 0.3 2.1-0.1M142.1 341.2l0 0.4 4.4 5.7 3.4 4 3.4 3.7 5.9 5.5 6 4.6 5.9 3.4 3.4 1.5 2.6 0.9 3.4 0.9 2.5 0.5 3.4 0.2 3-0.1M150.5 341.2l0 0.4 2.8 2.6 5.9 4.9 5.1 3.4 5.1 2.7 5.1 2 5.1 1.3 5.1 0.7 4.7-0.1M161.3 341.2l0 0.4 5.6 3.1 3.4 1.5 4.2 1.5 4.3 1 3.4 0.5 3.4 0.3 3.8-0.1"/>
</g>
<clipPath id="ap3"><rect x="36.4" y="290.5" width="153.4" height="125.5"/></clipPath>
<path clip-path="url(#ap3)" fill="none" stroke="#ecca8a" stroke-opacity="0.78" stroke-width="0.9" d="M39.5 341.2L39.5 349.2M39.5 349.2L38.7 347.5M39.5 349.2L40.3 347.5M39.5 348L39.5 356M39.5 356L38.7 354.3M39.5 356L40.3 354.2M39.5 354.8L39.5 362.7M39.5 362.7L38.7 361M39.5 362.7L40.3 361M39.5 361.6L39.6 369.5M39.6 369.5L38.8 367.8M39.6 369.5L40.4 367.7M39.5 368.4L39.8 376.1M39.8 376.1L39 374.4M39.8 376.1L40.6 374.3M39.5 375.2L40.2 382.5M40.2 382.5L39.2 380.9M40.2 382.5L40.8 380.7M39.5 382L40.5 388.6M40.5 388.6L39.5 387.1M40.5 388.6L41.1 386.8M39.5 388.8L40.7 394.6M40.7 394.6L39.5 393.1M40.7 394.6L41.1 392.8M39.5 395.6L40.8 400.5M40.8 400.5L39.7 399.1M40.8 400.5L41.1 398.7M39.5 402.4L41.2 406.1M41.2 406.1L40.1 405.2M41.2 406.1L41.2 404.6M46.8 341.2L46.8 349.2M46.8 349.2L46 347.5M46.8 349.2L47.6 347.5M46.8 348L46.9 356M46.9 356L46 354.3M46.9 356L47.7 354.3M46.8 354.8L46.9 362.8M46.9 362.8L46.1 361.1M46.9 362.8L47.7 361M46.8 361.6L47.2 369.6M47.2 369.6L46.3 367.9M47.2 369.6L47.9 367.8M46.8 368.4L47.9 376.3M47.9 376.3L46.9 374.7M47.9 376.3L48.5 374.4M46.8 375.2L49.3 382.4M49.3 382.4L48 381.1M49.3 382.4L49.5 380.6M46.8 382L50.5 387.9M50.5 387.9L48.9 386.9M50.5 387.9L50.3 386M46.8 388.8L50.8 393.4M50.8 393.4L49.1 392.7M50.8 393.4L50.3 391.6M46.8 395.6L50.8 399.1M50.8 399.1L49 398.6M50.8 399.1L50.1 397.4M46.8 402.4L51 404.5M51 404.5L49.3 404.5M51 404.5L50 403.2M54.1 341.2L54.2 349.2M54.2 349.2L53.3 347.5M54.2 349.2L55 347.5M54.1 348L54.2 356M54.2 356L53.4 354.3M54.2 356L55 354.3M54.1 354.8L54.2 362.8M54.2 362.8L53.4 361.1M54.2 362.8L55 361.1M54.1 361.6L54.3 369.7M54.3 369.7L53.5 368M54.3 369.7L55.1 368M54.1 368.4L54.8 376.7M54.8 376.7L53.9 375.1M54.8 376.7L55.5 374.9M54.1 375.2L58.6 383M58.6 383L57.1 381.9M58.6 383L58.5 381.1M54.1 382L60.8 385.5M60.8 385.5L58.9 385.4M60.8 385.5L59.7 384M54.1 388.8L60.1 391M60.1 391L58.2 391.1M60.1 391L58.8 389.6M54.1 395.6L59.5 397M59.5 397L57.7 397.4M59.5 397L58.1 395.8M54.1 402.4L59.1 403.2M59.1 403.2L57.4 403.7M59.1 403.2L57.7 402.2M61.5 341.2L62.4 347.4M62.4 347.4L61.3 345.8M62.4 347.4L62.9 345.5M61.5 348L63.1 352.5M63.1 352.5L61.9 351.3M63.1 352.5L63.2 350.8M61.5 354.8L63.2 350.6M63.2 350.6L63.3 352.2M63.2 350.6L62.1 351.6M61.5 361.6L62.4 355.3M62.4 355.3L62.9 357.1M62.4 355.3L61.3 356.8M61.5 368.4L62.3 360.8M62.3 360.8L62.9 362.6M62.3 360.8L61.3 362.4M61.5 375.2L66.7 367.2M66.7 367.2L66.4 369.1M66.7 367.2L65 368.2M61.5 382L68.8 379.8M68.8 379.8L67.4 381.1M68.8 379.8L66.9 379.5M61.5 388.8L67.8 387.5M67.8 387.5L66.3 388.7M67.8 387.5L65.9 387.1M61.5 395.6L67 394.7M67 394.7L65.5 395.8M67 394.7L65.2 394.2M61.5 402.4L66.6 401.9M66.6 401.9L65 402.8M66.6 401.9L64.9 401.3M68.8 341.2L73.5 346.1M73.5 346.1L71.7 345.4M73.5 346.1L72.9 344.3M68.8 348L74.4 350.4M74.4 350.4L72.5 350.5M74.4 350.4L73.2 349M68.8 354.8L74.7 353M74.7 353L73.3 354.2M74.7 353L72.8 352.7M68.8 361.6L73.6 356.6M73.6 356.6L73 358.4M73.6 356.6L71.9 357.3M68.8 368.4L72.7 361.8M72.7 361.8L72.5 363.6M72.7 361.8L71.1 362.8M68.8 375.2L72.9 368.5M72.9 368.5L72.7 370.4M72.9 368.5L71.3 369.6M68.8 382L73.6 376.6M73.6 376.6L73 378.5M73.6 376.6L71.8 377.4M68.8 388.8L73.5 384.7M73.5 384.7L72.8 386.4M73.5 384.7L71.7 385.2M68.8 395.6L73.3 392.5M73.3 392.5L72.3 394.1M73.3 392.5L71.4 392.8M68.8 402.4L73.3 400.6M73.3 400.6L72.1 401.8M73.3 400.6L71.6 400.5M76.2 341.2L82.7 344.7M82.7 344.7L80.8 344.6M82.7 344.7L81.5 343.1M76.2 348L83 349.8M83 349.8L81.1 350.2M83 349.8L81.6 348.6M76.2 354.8L83.4 354.3M83.4 354.3L81.7 355.2M83.4 354.3L81.6 353.6M76.2 361.6L83.3 358.4M83.3 358.4L82.1 359.9M83.3 358.4L81.4 358.4M76.2 368.4L81.2 361.5M81.2 361.5L80.9 363.4M81.2 361.5L79.6 362.4M76.2 375.2L78.4 367.7M78.4 367.7L78.7 369.6M78.4 367.7L77.2 369.1M76.2 382L78.1 375.3M78.1 375.3L78.4 377.2M78.1 375.3L76.8 376.7M76.2 388.8L78.1 383.1M78.1 383.1L78.3 384.9M78.1 383.1L76.8 384.4M76.2 395.6L78.2 390.8M78.2 390.8L78.3 392.7M78.2 390.8L76.8 392M76.2 402.4L78.6 399M78.6 399L78.4 400.4M78.6 399L77.4 399.7M83.5 341.2L90.9 343.7M90.9 343.7L89 343.9M90.9 343.7L89.5 342.3M83.5 348L90.9 349.7M90.9 349.7L89.1 350.1M90.9 349.7L89.4 348.5M83.5 354.8L91.2 355.6M91.2 355.6L89.4 356.3M91.2 355.6L89.6 354.6M83.5 361.6L91.9 362.2M91.9 362.2L90.1 362.9M91.9 362.2L90.2 361.3M90.9 341.2L98.6 342.8M98.6 342.8L96.7 343.3M98.6 342.8L97.1 341.7M90.9 348L98.5 349.5M98.5 349.5L96.6 350M98.5 349.5L96.9 348.4M90.9 354.8L98.4 356.4M98.4 356.4L96.6 356.9M98.4 356.4L96.9 355.3M90.9 361.6L98.3 364.3M98.3 364.3L96.4 364.4M98.3 364.3L96.9 362.9M90.9 368.4L96.8 373.4M96.8 373.4L95 372.9M96.8 373.4L96 371.7M90.9 375.2L94.5 381.2M94.5 381.2L92.9 380.1M94.5 381.2L94.3 379.3M90.9 382L93.6 387.6M93.6 387.6L92.1 386.4M93.6 387.6L93.5 385.7M90.9 388.8L93.2 393.7M93.2 393.7L91.8 392.5M93.2 393.7L93.2 391.8M90.9 395.6L93.3 399.7M93.3 399.7L91.9 398.8M93.3 399.7L93.2 398M90.9 402.4L93.9 405.2M93.9 405.2L92.5 404.8M93.9 405.2L93.3 403.9M98.2 341.2L106 342M106 342L104.2 342.6M106 342L104.4 341M98.2 348L105.8 349M105.8 349L104 349.6M105.8 349L104.2 348M98.2 354.8L105.6 356.3M105.6 356.3L103.8 356.7M105.6 356.3L104.1 355.2M98.2 361.6L105.2 363.9M105.2 363.9L103.4 364.1M105.2 363.9L103.9 362.6M98.2 368.4L104.5 371.8M104.5 371.8L102.6 371.7M104.5 371.8L103.4 370.3M98.2 375.2L103.5 379.3M103.5 379.3L101.6 378.8M103.5 379.3L102.6 377.6M98.2 382L102.7 386.1M102.7 386.1L100.9 385.5M102.7 386.1L102 384.3M98.2 388.8L102.4 392.5M102.4 392.5L100.5 391.9M102.4 392.5L101.6 390.7M98.2 395.6L102.3 398.5M102.3 398.5L100.6 398.2M102.3 398.5L101.5 397M98.2 402.4L102.6 404.1M102.6 404.1L100.9 404.2M102.6 404.1L101.4 402.9M105.6 341.2L113.3 341.2M113.3 341.2L111.6 342M113.3 341.2L111.6 340.4M105.6 348L113.1 348.3M113.1 348.3L111.3 349.1M113.1 348.3L111.4 347.4M105.6 354.8L112.8 355.6M112.8 355.6L111 356.2M112.8 355.6L111.2 354.6M105.6 361.6L112.5 363M112.5 363L110.7 363.5M112.5 363L111 361.9M105.6 368.4L112 370.5M112 370.5L110.2 370.7M112 370.5L110.7 369.2M105.6 375.2L111.5 377.7M111.5 377.7L109.6 377.8M111.5 377.7L110.2 376.3M105.6 382L111 384.6M111 384.6L109.1 384.6M111 384.6L109.8 383.2M105.6 388.8L110.7 391.2M110.7 391.2L108.8 391.2M110.7 391.2L109.5 389.7M105.6 395.6L110.5 397.5M110.5 397.5L108.7 397.6M110.5 397.5L109.2 396.1M105.6 402.4L110.5 403.4M110.5 403.4L108.8 403.9M110.5 403.4L109.1 402.4M112.9 341.2L120.5 340.3M120.5 340.3L118.9 341.3M120.5 340.3L118.7 339.7M112.9 348L120.3 347.5M120.3 347.5L118.6 348.4M120.3 347.5L118.5 346.8M112.9 354.8L120.1 354.8M120.1 354.8L118.3 355.6M120.1 354.8L118.3 354M112.9 361.6L119.8 362.1M119.8 362.1L118 362.8M119.8 362.1L118.1 361.1M112.9 368.4L119.5 369.3M119.5 369.3L117.6 369.9M119.5 369.3L117.9 368.3M112.9 375.2L119.1 376.5M119.1 376.5L117.2 376.9M119.1 376.5L117.6 375.3M112.9 382L118.7 383.4M118.7 383.4L116.9 383.8M118.7 383.4L117.3 382.2M112.9 388.8L118.4 390.1M118.4 390.1L116.6 390.5M118.4 390.1L117 389M112.9 395.6L118.3 396.7M118.3 396.7L116.4 397.1M118.3 396.7L116.7 395.5M112.9 402.4L118.2 403M118.2 403L116.4 403.6M118.2 403L116.6 402M120.2 341.2L127.6 339.5M127.6 339.5L126.1 340.7M127.6 339.5L125.7 339.1M120.2 348L127.4 346.6M127.4 346.6L125.9 347.8M127.4 346.6L125.5 346.2M120.2 354.8L127.2 353.9M127.2 353.9L125.6 354.9M127.2 353.9L125.4 353.3M120.2 361.6L127 361.1M127 361.1L125.3 362M127 361.1L125.2 360.4M120.2 368.4L126.7 368.3M126.7 368.3L125 369.1M126.7 368.3L125 367.5M120.2 375.2L126.5 375.4M126.5 375.4L124.7 376.2M126.5 375.4L124.8 374.6M120.2 382L126.2 382.4M126.2 382.4L124.4 383.1M126.2 382.4L124.5 381.5M120.2 388.8L125.9 389.3M125.9 389.3L124.2 390M125.9 389.3L124.3 388.3M120.2 395.6L125.8 396M125.8 396L124 396.7M125.8 396L124.1 395.1M120.2 402.4L125.7 402.6M125.7 402.6L123.9 403.4M125.7 402.6L124 401.8M127.6 341.2L134.5 338.6M134.5 338.6L133.2 340M134.5 338.6L132.6 338.5M127.6 348L134.4 345.8M134.4 345.8L133 347.1M134.4 345.8L132.5 345.5M127.6 354.8L134.2 353M134.2 353L132.8 354.2M134.2 353L132.4 352.6M127.6 361.6L134.1 360.2M134.1 360.2L132.6 361.3M134.1 360.2L132.2 359.8M127.6 368.4L133.9 367.4M133.9 367.4L132.3 368.5M133.9 367.4L132.1 366.9M127.6 375.2L133.7 374.5M133.7 374.5L132.1 375.5M133.7 374.5L131.9 373.9M127.6 382L133.5 381.6M133.5 381.6L131.8 382.5M133.5 381.6L131.7 380.9M127.6 388.8L133.3 388.6M133.3 388.6L131.6 389.5M133.3 388.6L131.5 387.9M127.6 395.6L133.1 395.5M133.1 395.5L131.4 396.4M133.1 395.5L131.4 394.7M127.6 402.4L133 402.4M133 402.4L131.3 403.2M133 402.4L131.3 401.6M134.9 341.2L141.4 337.8M141.4 337.8L140.2 339.3M141.4 337.8L139.5 337.9M134.9 348L141.3 344.9M141.3 344.9L140.1 346.4M141.3 344.9L139.4 344.9M134.9 354.8L141.2 352.1M141.2 352.1L139.9 353.5M141.2 352.1L139.3 352.1M134.9 361.6L141 359.3M141 359.3L139.7 360.7M141 359.3L139.1 359.2M134.9 368.4L140.9 366.5M140.9 366.5L139.5 367.8M140.9 366.5L139 366.3M134.9 375.2L140.8 373.7M140.8 373.7L139.3 374.9M140.8 373.7L138.9 373.4M134.9 382L140.6 380.9M140.6 380.9L139.1 382M140.6 380.9L138.8 380.4M134.9 388.8L140.5 388M140.5 388L138.9 389M140.5 388L138.7 387.4M134.9 395.6L140.4 395.1M140.4 395.1L138.8 396.1M140.4 395.1L138.6 394.4M134.9 402.4L140.3 402.2M140.3 402.2L138.7 403M140.3 402.2L138.6 401.4M142.3 341.2L148.1 337M148.1 337L147.2 338.6M148.1 337L146.2 337.3M142.3 348L148 344.1M148 344.1L147.1 345.7M148 344.1L146.2 344.4M142.3 354.8L148 351.3M148 351.3L146.9 352.9M148 351.3L146.1 351.5M142.3 361.6L147.9 358.5M147.9 358.5L146.8 360.1M147.9 358.5L146 358.6M142.3 368.4L147.8 365.8M147.8 365.8L146.6 367.2M147.8 365.8L145.9 365.8M142.3 375.2L147.8 373M147.8 373L146.5 374.4M147.8 373L145.9 372.9M142.3 382L147.7 380.2M147.7 380.2L146.3 381.5M147.7 380.2L145.8 380M142.3 388.8L147.6 387.5M147.6 387.5L146.2 388.7M147.6 387.5L145.8 387.1M142.3 395.6L147.6 394.7M147.6 394.7L146 395.8M147.6 394.7L145.8 394.2M142.3 402.4L147.5 401.9M147.5 401.9L145.9 402.9M147.5 401.9L145.8 401.3M149.6 341.2L154.7 336.3M154.7 336.3L154.1 338M154.7 336.3L152.9 336.9M149.6 348L154.7 343.4M154.7 343.4L154 345.1M154.7 343.4L152.9 343.9M149.6 354.8L154.7 350.6M154.7 350.6L153.9 352.3M154.7 350.6L152.8 351.1M149.6 361.6L154.6 357.8M154.6 357.8L153.8 359.5M154.6 357.8L152.8 358.2M149.6 368.4L154.6 365M154.6 365L153.7 366.7M154.6 365L152.7 365.3M149.6 375.2L154.6 372.3M154.6 372.3L153.5 373.8M154.6 372.3L152.7 372.4M149.6 382L154.6 379.6M154.6 379.6L153.4 381.1M154.6 379.6L152.7 379.6M149.6 388.8L154.6 386.9M154.6 386.9L153.3 388.3M154.6 386.9L152.8 386.8M149.6 395.6L154.7 394.3M154.7 394.3L153.3 395.5M154.7 394.3L152.9 394M149.6 402.4L154.7 401.7M154.7 401.7L153.2 402.7M154.7 401.7L153 401.2M157 341.2L161.2 335.6M161.2 335.6L160.8 337.5M161.2 335.6L159.6 336.5M157 348L161.2 342.7M161.2 342.7L160.8 344.6M161.2 342.7L159.5 343.6M157 354.8L161.2 349.9M161.2 349.9L160.7 351.7M161.2 349.9L159.5 350.7M157 361.6L161.2 357.1M161.2 357.1L160.6 358.9M161.2 357.1L159.5 357.8M157 368.4L161.3 364.3M161.3 364.3L160.6 366.1M161.3 364.3L159.5 364.9M157 375.2L161.3 371.6M161.3 371.6L160.5 373.3M161.3 371.6L159.5 372.1M157 382L161.4 379M161.4 379L160.5 380.6M161.4 379L159.6 379.3M157 388.8L161.5 386.4M161.5 386.4L160.4 387.8M161.5 386.4L159.7 386.5M157 395.6L161.6 393.9M161.6 393.9L160.4 395.1M161.6 393.9L159.9 393.7M157 402.4L161.7 401.5M161.7 401.5L160.4 402.5M161.7 401.5L160.1 401.1M164.3 341.2L167.6 335.1M167.6 335.1L167.5 337M167.6 335.1L166.1 336.2M164.3 348L167.6 342.2M167.6 342.2L167.5 344.1M167.6 342.2L166.1 343.3M164.3 354.8L167.7 349.3M167.7 349.3L167.5 351.2M167.7 349.3L166.1 350.4M164.3 361.6L167.7 356.5M167.7 356.5L167.4 358.4M167.7 356.5L166.1 357.5M164.3 368.4L167.8 363.7M167.8 363.7L167.4 365.6M167.8 363.7L166.1 364.6M164.3 375.2L167.9 371M167.9 371L167.4 372.8M167.9 371L166.1 371.8M164.3 382L168 378.3M168 378.3L167.4 380.1M168 378.3L166.3 378.9M164.3 388.8L168.2 385.8M168.2 385.8L167.4 387.3M168.2 385.8L166.5 386.2M164.3 395.6L168.5 393.4M168.5 393.4L167.5 394.7M168.5 393.4L166.8 393.5M164.3 402.4L168.7 401.2M168.7 401.2L167.5 402.3M168.7 401.2L167.1 400.9M171.7 341.2L174 334.7M174 334.7L174.1 336.6M174 334.7L172.6 336M171.7 348L174 341.8M174 341.8L174.1 343.6M174 341.8L172.6 343.1M171.7 354.8L174 348.9M174 348.9L174.1 350.8M174 348.9L172.6 350.2M171.7 361.6L174 356.1M174 356.1L174.1 358M174 356.1L172.6 357.3M171.7 368.4L174.1 363.3M174.1 363.3L174.1 365.2M174.1 363.3L172.6 364.5M171.7 375.2L174.2 370.5M174.2 370.5L174.1 372.4M174.2 370.5L172.7 371.6M171.7 382L174.4 377.8M174.4 377.8L174.2 379.5M174.4 377.8L172.9 378.7M171.7 388.8L174.7 385.2M174.7 385.2L174.3 386.8M174.7 385.2L173.2 385.9M171.7 395.6L175.1 392.8M175.1 392.8L174.4 394.2M175.1 392.8L173.6 393.2M171.7 402.4L175.5 400.8M175.5 400.8L174.5 401.9M175.5 400.8L174 400.7M179 341.2L180.2 334.4M180.2 334.4L180.7 336.2M180.2 334.4L179.1 336M179 348L180.2 341.5M180.2 341.5L180.7 343.3M180.2 341.5L179.1 343M179 354.8L180.2 348.6M180.2 348.6L180.7 350.5M180.2 348.6L179.1 350.1M179 361.6L180.2 355.8M180.2 355.8L180.7 357.6M180.2 355.8L179.1 357.3M179 368.4L180.3 362.9M180.3 362.9L180.7 364.8M180.3 362.9L179.1 364.4M179 375.2L180.4 370.1M180.4 370.1L180.7 371.9M180.4 370.1L179.2 371.5M179 382L180.5 377.3M180.5 377.3L180.8 379M180.5 377.3L179.4 378.6M179 388.8L180.8 384.6M180.8 384.6L180.8 386.2M180.8 384.6L179.6 385.7M179 395.6L181.2 392.1M181.2 392.1L181 393.6M181.2 392.1L180 392.9M179 402.4L181.8 400.1M181.8 400.1L181.3 401.3M181.8 400.1L180.6 400.4M186.3 341.2L186.4 334.3M186.4 334.3L187.2 336M186.4 334.3L185.6 336M186.3 348L186.4 341.4M186.4 341.4L187.2 343.1M186.4 341.4L185.6 343.1M186.3 354.8L186.4 348.5M186.4 348.5L187.2 350.2M186.4 348.5L185.6 350.2M186.3 361.6L186.4 355.6M186.4 355.6L187.2 357.4M186.4 355.6L185.6 357.4M186.3 368.4L186.4 362.8M186.4 362.8L187.2 364.5M186.4 362.8L185.6 364.5M186.3 375.2L186.4 370M186.4 370L187.2 371.6M186.4 370L185.6 371.6M186.3 382L186.5 377.1M186.5 377.1L187.2 378.7M186.5 377.1L185.7 378.7M186.3 388.8L186.5 384.4M186.5 384.4L187.1 385.8M186.5 384.4L185.8 385.8M186.3 395.6L186.6 391.7M186.6 391.7L187.1 393M186.6 391.7L185.9 392.9M186.3 402.4L186.8 399.3M186.8 399.3L187.1 400.3M186.8 399.3L186.2 400.2"/>
<path fill="none" stroke="#7a7a7a" stroke-width="1.6" stroke-dasharray="1.7 1.6" d="M37.4 351.7H56.3M61.0 338.5H189.8"/>
<path fill="none" stroke="#000" stroke-width="1.7" d="M83.5 409.2H189.8"/>
<path fill="#fff" stroke="none" d="M56.8 293.6V374.6a1.70 1.36 0 0 0 3.40 0V293.6z"/>
<path fill="none" stroke="#000" stroke-width="1.25" stroke-linejoin="miter" d="M36.9 409.7V293.6H60.2V374.6a1.70 1.36 0 0 1 -3.40 0V293.6"/>
<path fill="#fff" stroke="none" d="M80.6 415.4V369.8a1.70 1.36 0 0 1 3.40 0V415.4z"/>
<path fill="none" stroke="#000" stroke-width="1.25" d="M36.9 409.2H80.6V369.8a1.70 1.36 0 0 1 3.40 0V410.0"/>
<path stroke="#999" stroke-width="0.6" fill="none" d="M36.4 416.0v-1.5M36.4 290.5v1.5M70.4 416.0v-1.5M70.4 290.5v1.5M104.4 416.0v-1.5M104.4 290.5v1.5M138.4 416.0v-1.5M138.4 290.5v1.5M172.4 416.0v-1.5M172.4 290.5v1.5M36.4 395.6h1.5M189.8 395.6h-1.5M36.4 368.4h1.5M189.8 368.4h-1.5M36.4 341.2h1.5M189.8 341.2h-1.5M36.4 314.0h1.5M189.8 314.0h-1.5"/>
<text class="tk" x="36.4" y="426.2" text-anchor="middle">0</text>
<text class="tk" x="70.4" y="426.2" text-anchor="middle">5</text>
<text class="tk" x="104.4" y="426.2" text-anchor="middle">10</text>
<text class="tk" x="138.4" y="426.2" text-anchor="middle">15</text>
<text class="tk" x="172.4" y="426.2" text-anchor="middle">20</text>
<text class="ax" x="112.6" y="435.6" text-anchor="middle">x [m]</text>
<text class="tk" x="32.9" y="398.8" text-anchor="end">-8</text>
<text class="tk" x="32.9" y="371.6" text-anchor="end">-4</text>
<text class="tk" x="32.9" y="344.4" text-anchor="end">0</text>
<text class="tk" x="32.9" y="317.2" text-anchor="end">4</text>
<text class="ax" transform="translate(24.9 358.2) rotate(-90)" text-anchor="middle">z [m]</text>
<text class="tl" x="184.8" y="302.0" text-anchor="end">t=3.14s (=3T/6)</text>
<rect x="200.6" y="290.5" width="153.4" height="125.5" fill="#fff" stroke="#b4b4b4" stroke-width="0.7"/>
<clipPath id="cp4"><rect x="200.6" y="341.2" width="153.4" height="68.0"/></clipPath>
<g clip-path="url(#cp4)">
<rect x="200.6" y="341.2" width="153.4" height="68.0" fill="#0020ff"/>
<path fill="#002bff" d="M200.6 409.2l153 0 0-68-43.9 0-1.5 1.3-3.5 1.8-6.8 2.6-6.8 1.4-5.1 0.2-5.1-0.4-3.4-0.7-3.4-1.1-6.8-3.1-1.2-0.7-1.4-1.3-64.1 0 0 67.6z"/>
<path fill="#0036ff" d="M200.6 409.2l46.2 0 0.1-39.5 1.7 0 1.7-1 0.5-0.7 0.6-1.7 0-1.7-0.4-1.7-1.4-3.4-2.5-3.4-1.9-2.1-3.4-3-3.4-2.6-3.4-2.1-3.4-1.8-3.4-1.2-1.7-0.4-3.4-0.1 0-1.6-22.5 0 0 67.6zM302.3 409.2l51.3 0 0-68-14.6 0-2 4-6.8 11.3-17.2 25.1-5.1 8.5-2.5 5.1-1.8 5.1-1.1 5.1-0.2 3.4z"/>
<path fill="#0042ff" d="M200.6 409.2l46 0-0.3-36.1-0.2-3.4-0.9-3.4-1.7-2.6-1.7-1.7-1.7-1.4-3.4-2.2-3.4-1.6-3.4-1.1-3.4-0.6-3.4 0-0.1-13.9-22.4 0 0 67.6zM330.3 409.2l23.3 0 0-68-4 0-2.4 7.2-10.4 28.1-2.7 8.5-2.1 8.5-1.3 8.5-0.4 6.8z"/>
<path fill="#004fff" d="M200.6 409.2l45.7 0-0.2-27.6-0.3-6.8-0.5-5.1-3.5-1.1-6.8-3.4-3.4-1.2-3.4-0.8-5.1-0.3-0.3-21.7-22.2 0 0 67.6zM349.8 409.2l3.8 0 0-34.1-1.3 5.1-1.4 9.9-0.9 10.2-0.2 8.5z"/>
<path fill="#005bff" d="M200.6 409.2l45.4 0-0.2-24.2-0.6-11.2-1.7-0.1-3.4-0.5-6.8-2.6-5.1-1.6-1.7-0.3-3.4-0.1-0.3-10.8-0.1-16.6-22.1 0 0 67.6z"/>
<path fill="#0068ff" d="M200.6 409.2l45.2 0-0.2-19.1-0.4-11.4-3.4-0.2-3.4-0.9-10.2-4.7-1.7-0.5-3.4-0.3-0.4-9.2-0.2-21.7-21.9 0 0 67.6z"/>
<path fill="#0075ff" d="M200.6 409.2l44.9 0-0.3-23.7-1.7 0-3.4-0.7-3.4-1.5-3.4-2.2-5.3-4.6-4.9-2.9-0.3-0.5-0.3-8.5-0.1-23.4-21.8 0 0 67.6z"/>
<path fill="#0083ff" d="M200.6 409.2l44.7 0-0.1-10.5-3.4-0.5-1.7-0.6-3.4-2.3-3.4-3.4-3.4-4.7-3.4-6.5-2.6-5.9-0.8-0.5-0.7-1.2-0.2-31.9-21.6 0 0 67.6z"/>
<path fill="#0090ff" d="M200.6 409.2l20.1 0 0.2-5.5 1.6-25.5 0-3.4-0.5-1.7 0.1-31.9-21.5 0 0 67.6z"/>
<path fill="#009eff" d="M200.6 385l0 1 2.1-0.2 3.4-0.8 3.4-1.5 3.4-2.3 5.4-4.7 1.4-1 0.4-0.7 1.3-0.9 0.3-2.5 0.2-30.2-21.3 0 0 42.1z"/>
<path fill="#00abff" d="M200.6 369.7l0 0.5 3.8-0.1 11.9-1.7 5.1-0.3 0.3-26.9-21.1 0 0 26.8z"/>
<path fill="#00b8ff" d="M200.6 356.1l0 0.3 20.8-0.3 0.2-14.9-21 0 0 13.2z"/>
<path fill="#00c4ff" d="M200.6 342.5l0 0.9 20.8-0.1 0-2.1-20.8 0z"/>
<path fill="none" stroke="#ebf5be" stroke-opacity="0.6" stroke-width="0.95" d="M310 341.2l0 0.4-4.4 2.4-3.4 1.5-3.4 1.2-6 1.5-5.9 0.5-2.6-0.1-3.4-0.4-2.5-0.5-3.4-1-3.4-1.3-3.4-1.6-3.7-2.2 0-0.4M320 341.2l0 0.4-1.7 1.5-5.9 4.7-4.3 2.8-5.1 2.7-4.2 1.8-4.3 1.3-4.2 0.8-4.3 0.3-4.2-0.3-3.4-0.6-3.4-1.1-3.4-1.5-4.3-2.5-5.1-3.6-6.8-5.7-0.6-0.6 0-0.4M328 341.2l0 0.4-3.7 4.4-6.8 6.9-6 5.1-5.9 4.3-6 3.4-5.9 2.5-5.1 1.4-5.1 0.4-4.3-0.3-3.4-1-3.4-1.5-3.4-2.4-4.2-3.9-8.3-9.1-10.2-10.2 0-0.4M248.6 378.4l1.7-0.4 1.7-0.9 1.7-1.6 1.4-2.4 0.8-2.6 0.3-2.5-0.3-2.6-0.6-2.5-2-4.3-1.6-2.5-2.1-2.6-5.2-5.2-7.8-6.7 0-0.4M334.9 341.2l0 0.4-2.1 3.3-5.1 7.3-4.3 5.5-5.1 6-8.5 9.1-17.8 17.3-5.5 5.9-2.5 3.4-1.8 3.4-1 3.4-0.3 3M248.4 368.6l0.6-0.6 0.5-1.7 0-1.7-0.4-1.7-0.7-1.7-1.5-2.4-3.2-3.6-4.4-3.6-5.1-3-2.6-1.1-2.5-0.9-2.6-0.5-1.7-0.1M341.2 341.2l0 0.4-1.2 2.6-4.7 8.7-15.5 26.1-4.9 9.4-2.5 5.9-1.5 5.1-1 5.1-0.2 4.7M246.6 368l-0.5-2.6-1.4-2.5-2-2.3-3.4-2.8-3.4-2.1-3.4-1.5-4.3-1.1-3.4-0.3M347.1 341.2l0 0.4-0.7 2.1-3.4 8.4-10.4 24.4-3.7 10.2-1.8 5.9-1.2 6-0.7 5.1-0.3 5.5M245 368.2l-1.5-2-2.5-2.3-2.6-1.8-2.5-1.4-2.6-1.1-2.5-0.9-2.6-0.5-3.4-0.3M352.8 341.2l-2.2 7.9-7.8 25.7-2.9 11-1.2 6-0.9 5.9-0.6 6-0.2 5.5M244.4 369l-1.7-0.6-6-3.2-3.4-1.5-4.2-1.2-4.3-0.4M353.6 366.3l-0.4 0-1.1 5.1-1.7 9.3-1.2 7.7-1.2 11-0.3 9.8M244.4 371.1l-3.4-0.7-6.8-2.7-3.4-1.2-3.4-0.7-2.6-0.2M244.4 373.9l-2.6-0.3-2.5-0.6-7.7-2.9-2.5-0.8-4.3-0.6M244.4 377.2l-2.6-0.2-2.5-0.6-3.4-1.2-6.8-3-2.6-0.7-1.7-0.2M244.4 381.4l-3.4-0.4-3.4-1.1-3.4-1.7-6-3.7-1.7-0.7-1.7-0.4M244.4 387l-1.7-0.2-2.6-0.6-2.5-1-1.7-1-3.4-2.6-6.3-6-1.4-0.8M244.4 396.3l-2.6-0.5-2.5-1-2.6-1.6-2.5-2.2-2.6-2.9-1.7-2.5-5.7-10.2M228.7 409.2l-0.4-5.5-3.1-15.3-1.9-12.8M213.4 409.2l0.2-3 0.6-2.5 5.1-15.3 1.6-6.8 1.1-6M200.6 393.7l3-0.4 2.5-0.9 2.6-1.4 2.5-2 2.6-2.6 1.7-2.2 2.5-3.7 3.2-5.1M200.6 385.4l2.1-0.1 2.6-0.6 2.5-0.9 1.7-0.8 4.3-2.9 5.3-4.5 1.5-0.8M200.6 380l3.8-0.3 3.4-0.9 3.4-1.4 6.8-3.3 2.6-0.6M200.6 375.7l3-0.1 3.4-0.6 10.2-2.9 3.4-0.5M200.6 372l5.5-0.4 10.2-1.8 4.3-0.5M200.6 368.6l5.5-0.3 10.2-1.2 4.3-0.2M200.6 365.4l4.7-0.2 15.3-0.9M200.6 362.3l20-0.7M200.6 359.2l20-0.4M200.6 356.2l20-0.2M200.6 353.3l20-0.2M200.6 350.4l20-0.2M200.6 347.4l20 0M200.6 344.5l20 0"/>
</g>
<clipPath id="ap4"><rect x="200.6" y="290.5" width="153.4" height="125.5"/></clipPath>
<path clip-path="url(#ap4)" fill="none" stroke="#ecca8a" stroke-opacity="0.78" stroke-width="0.9" d="M203.7 341.2L203.6 332.4M203.6 332.4L204.5 334.1M203.6 332.4L202.8 334.1M203.7 348L203.6 339.2M203.6 339.2L204.4 340.9M203.6 339.2L202.8 340.9M203.7 354.8L203.6 346M203.6 346L204.4 347.7M203.6 346L202.8 347.7M203.7 361.6L203.5 352.9M203.5 352.9L204.3 354.6M203.5 352.9L202.7 354.6M203.7 368.4L203.2 359.9M203.2 359.9L204.1 361.6M203.2 359.9L202.5 361.6M203.7 375.2L202.8 367.1M202.8 367.1L203.8 368.8M202.8 367.1L202.2 368.9M203.7 382L202.5 374.7M202.5 374.7L203.5 376.2M202.5 374.7L201.9 376.5M203.7 388.8L202.3 382.4M202.3 382.4L203.4 383.9M202.3 382.4L201.9 384.2M203.7 395.6L202.1 390.2M202.1 390.2L203.4 391.6M202.1 390.2L201.8 392.1M203.7 402.4L201.7 398.3M201.7 398.3L202.9 399.3M201.7 398.3L201.7 399.9M211 341.2L211 332.4M211 332.4L211.8 334.1M211 332.4L210.2 334.1M211 348L210.9 339.2M210.9 339.2L211.8 340.9M210.9 339.2L210.1 340.9M211 354.8L210.8 346M210.8 346L211.7 347.7M210.8 346L210.1 347.7M211 361.6L210.6 352.8M210.6 352.8L211.5 354.5M210.6 352.8L209.8 354.6M211 368.4L209.8 359.7M209.8 359.7L210.8 361.3M209.8 359.7L209.2 361.5M211 375.2L208.2 367.2M208.2 367.2L209.5 368.5M208.2 367.2L208 369.1M211 382L206.9 375.5M206.9 375.5L208.5 376.5M206.9 375.5L207.1 377.4M211 388.8L206.6 383.7M206.6 383.7L208.3 384.5M206.6 383.7L207.1 385.5M211 395.6L206.6 391.7M206.6 391.7L208.4 392.3M206.6 391.7L207.3 393.5M211 402.4L206.4 400.1M206.4 400.1L208.2 400.1M206.4 400.1L207.5 401.5M218.3 341.2L218.3 332.4M218.3 332.4L219.1 334.1M218.3 332.4L217.5 334.1M218.3 348L218.3 339.2M218.3 339.2L219.1 340.9M218.3 339.2L217.5 340.9M218.3 354.8L218.3 345.9M218.3 345.9L219.1 347.6M218.3 345.9L217.5 347.7M218.3 361.6L218.1 352.7M218.1 352.7L219 354.4M218.1 352.7L217.4 354.4M218.3 368.4L217.6 359.2M217.6 359.2L218.6 360.9M217.6 359.2L216.9 361M218.3 375.2L213.6 367M213.6 367L215.2 368.1M213.6 367L213.7 368.9M218.3 382L210.9 378.2M210.9 378.2L212.8 378.3M210.9 378.2L212.1 379.7M218.3 388.8L211.7 386.5M211.7 386.5L213.6 386.3M211.7 386.5L213.1 387.8M218.3 395.6L212.4 394M212.4 394L214.3 393.7M212.4 394L213.9 395.3M218.3 402.4L212.8 401.6M212.8 401.6L214.7 401M212.8 401.6L214.4 402.6M225.7 341.2L225.1 347.2M225.1 347.2L224.5 345.4M225.1 347.2L226.1 345.5M225.7 348L225.2 354.7M225.2 354.7L224.5 352.9M225.2 354.7L226.2 353M225.7 354.8L225.3 362.2M225.3 362.2L224.6 360.4M225.3 362.2L226.2 360.5M225.7 361.6L225.3 369.6M225.3 369.6L224.5 367.9M225.3 369.6L226.2 368M225.7 368.4L225.1 377.2M225.1 377.2L224.4 375.4M225.1 377.2L226 375.6M225.7 375.2L220.7 383.3M220.7 383.3L220.9 381.4M220.7 383.3L222.3 382.2M225.7 382L217.7 384.6M217.7 384.6L219.1 383.3M217.7 384.6L219.6 384.8M225.7 388.8L218.8 390.3M218.8 390.3L220.3 389.1M218.8 390.3L220.6 390.7M225.7 395.6L219.6 396.6M219.6 396.6L221.2 395.5M219.6 396.6L221.4 397.1M225.7 402.4L220.1 402.9M220.1 402.9L221.7 402M220.1 402.9L221.9 403.6M233 341.2L229.7 346.6M229.7 346.6L229.9 344.7M229.7 346.6L231.3 345.6M233 348L230.2 354.2M230.2 354.2L230.2 352.3M230.2 354.2L231.7 353M233 354.8L230.4 361.7M230.4 361.7L230.2 359.8M230.4 361.7L231.7 360.4M233 361.6L230.3 369.2M230.3 369.2L230.1 367.3M230.3 369.2L231.6 367.8M233 368.4L230.1 376.5M230.1 376.5L229.9 374.6M230.1 376.5L231.5 375.1M233 375.2L229.1 382.9M229.1 382.9L229.1 381M229.1 382.9L230.6 381.7M233 382L228 388M228 388L228.5 386.2M228 388L229.7 387.2M233 388.8L228 393.4M228 393.4L228.7 391.7M228 393.4L229.8 392.9M233 395.6L228.2 399M228.2 399L229.1 397.4M228.2 399L230 398.7M233 402.4L228.2 404.4M228.2 404.4L229.4 403M228.2 404.4L230 404.5M240.4 341.2L235.7 346.1M235.7 346.1L236.3 344.3M235.7 346.1L237.5 345.4M240.4 348L236.1 353.6M236.1 353.6L236.5 351.7M236.1 353.6L237.8 352.7M240.4 354.8L235.9 360.8M235.9 360.8L236.3 358.9M235.9 360.8L237.6 359.9M240.4 361.6L235.4 368.1M235.4 368.1L235.8 366.2M235.4 368.1L237.1 367.2M240.4 368.4L236.5 376.5M236.5 376.5L236.5 374.6M236.5 376.5L238 375.3M240.4 375.2L238.4 383.4M238.4 383.4L238 381.5M238.4 383.4L239.6 381.9M240.4 382L238.4 389.3M238.4 389.3L238.1 387.5M238.4 389.3L239.6 387.9M240.4 388.8L238.3 395.1M238.3 395.1L238.1 393.2M238.3 395.1L239.6 393.7M240.4 395.6L238.2 400.8M238.2 400.8L238.1 398.9M238.2 400.8L239.6 399.6M240.4 402.4L237.7 406.2M237.7 406.2L238 404.6M237.7 406.2L239.1 405.4M247.7 341.2L242.6 346.1M242.6 346.1L243.3 344.3M242.6 346.1L244.4 345.5M247.7 348L242.8 353.1M242.8 353.1L243.4 351.3M242.8 353.1L244.5 352.4M247.7 354.8L242.2 359.6M242.2 359.6L243 357.9M242.2 359.6L244.1 359.1M247.7 361.6L240.8 365.1M240.8 365.1L242 363.6M240.8 365.1L242.7 365.1M255.1 341.2L250.3 346.5M250.3 346.5L250.8 344.6M250.3 346.5L252 345.7M255.1 348L250.2 353M250.2 353L250.8 351.2M250.2 353L252 352.4M255.1 354.8L249.7 359.1M249.7 359.1L250.5 357.4M249.7 359.1L251.6 358.7M255.1 361.6L248.9 364.2M248.9 364.2L250.2 362.8M248.9 364.2L250.8 364.3M255.1 368.4L249.1 367.7M249.1 367.7L250.9 367.1M249.1 367.7L250.7 368.7M255.1 375.2L250.9 373M250.9 373L252.5 373.1M250.9 373L251.9 374.3M255.1 382L251.9 380.3M251.9 380.3L253.2 380.3M251.9 380.3L252.7 381.3M255.1 388.8L252.5 388.1M252.5 388.1L253.4 387.9M252.5 388.1L253.2 388.7M255.1 395.6L253.3 396.3M253.3 396.3L253.8 395.8M253.3 396.3L254 396.3M255.1 402.4L255.2 403.8M255.2 403.8L254.9 403.4M255.2 403.8L255.4 403.4M262.4 341.2L258.3 347M258.3 347L258.7 345.1M258.3 347L260 346.1M262.4 348L258.3 353.4M258.3 353.4L258.7 351.6M258.3 353.4L260 352.5M262.4 354.8L257.9 359.5M257.9 359.5L258.5 357.7M257.9 359.5L259.7 358.8M262.4 361.6L257.6 365.3M257.6 365.3L258.4 363.6M257.6 365.3L259.4 364.9M262.4 368.4L257.5 370.8M257.5 370.8L258.7 369.3M257.5 370.8L259.4 370.7M262.4 375.2L258.1 376.7M258.1 376.7L259.2 375.6M258.1 376.7L259.7 376.9M262.4 382L259 383.5M259 383.5L259.8 382.5M259 383.5L260.3 383.5M262.4 388.8L260.1 390.7M260.1 390.7L260.5 389.8M260.1 390.7L261.1 390.5M262.4 395.6L261.7 398M261.7 398L261.6 397.1M261.7 398L262.3 397.3M262.4 402.4L263.5 404.2M263.5 404.2L262.9 403.8M263.5 404.2L263.5 403.5M269.8 341.2L266.8 347.5M266.8 347.5L266.8 345.6M266.8 347.5L268.2 346.3M269.8 348L266.7 353.9M266.7 353.9L266.8 352M266.7 353.9L268.2 352.8M269.8 354.8L266.5 360.2M266.5 360.2L266.7 358.3M266.5 360.2L268.1 359.2M269.8 361.6L266.4 366.4M266.4 366.4L266.7 364.5M266.4 366.4L268.1 365.4M269.8 368.4L266.5 372.6M266.5 372.6L266.9 370.7M266.5 372.6L268.1 371.7M269.8 375.2L266.9 378.9M266.9 378.9L267.3 377.3M266.9 378.9L268.4 378.1M269.8 382L267.8 385.5M267.8 385.5L267.9 384.1M267.8 385.5L268.9 384.7M269.8 388.8L269 392.2M269 392.2L268.7 391M269 392.2L269.7 391.2M269.8 395.6L270.5 398.5M270.5 398.5L269.8 397.7M270.5 398.5L270.7 397.5M269.8 402.4L271.8 404.2M271.8 404.2L270.9 403.9M271.8 404.2L271.4 403.3M277.1 341.2L275.4 347.9M275.4 347.9L275 346.1M275.4 347.9L276.6 346.5M277.1 348L275.3 354.4M275.3 354.4L275 352.5M275.3 354.4L276.6 352.9M277.1 354.8L275.3 360.8M275.3 360.8L275 358.9M275.3 360.8L276.6 359.3M277.1 361.6L275.4 367.1M275.4 367.1L275.1 365.2M275.4 367.1L276.7 365.7M277.1 368.4L275.6 373.5M275.6 373.5L275.3 371.6M275.6 373.5L276.8 372.1M277.1 375.2L276.1 379.9M276.1 379.9L275.7 378.2M276.1 379.9L277.1 378.5M277.1 382L276.9 386.3M276.9 386.3L276.3 384.9M276.9 386.3L277.6 385M277.1 388.8L277.9 392.6M277.9 392.6L277.1 391.5M277.9 392.6L278.2 391.3M277.1 395.6L279.1 398.5M279.1 398.5L278 397.9M279.1 398.5L278.9 397.3M277.1 402.4L280 404M280 404L278.8 404M280 404L279.3 403.1M284.4 341.2L284 348.1M284 348.1L283.3 346.3M284 348.1L284.9 346.4M284.4 348L284 354.6M284 354.6L283.3 352.8M284 354.6L284.9 352.9M284.4 354.8L284.1 361M284.1 361L283.4 359.2M284.1 361L285 359.3M284.4 361.6L284.3 367.4M284.3 367.4L283.5 365.7M284.3 367.4L285.1 365.7M284.4 368.4L284.6 373.8M284.6 373.8L283.7 372.1M284.6 373.8L285.3 372.1M284.4 375.2L285 380.1M285 380.1L284.1 378.7M285 380.1L285.6 378.5M284.4 382L285.7 386.4M285.7 386.4L284.7 385.2M285.7 386.4L286 384.8M284.4 388.8L286.5 392.5M286.5 392.5L285.3 391.6M286.5 392.5L286.4 391M284.4 395.6L287.4 398.3M287.4 398.3L286 397.9M287.4 398.3L286.8 397M284.4 402.4L288 403.9M288 403.9L286.6 403.9M288 403.9L287.1 402.9M291.8 341.2L292.7 348.1M292.7 348.1L291.6 346.5M292.7 348.1L293.2 346.3M291.8 348L292.7 354.6M292.7 354.6L291.6 353M292.7 354.6L293.3 352.7M291.8 354.8L292.8 361M292.8 361L291.7 359.4M292.8 361L293.3 359.2M291.8 361.6L293 367.4M293 367.4L291.8 365.9M293 367.4L293.4 365.5M291.8 368.4L293.3 373.7M293.3 373.7L292 372.3M293.3 373.7L293.6 371.9M291.8 375.2L293.7 380M293.7 380L292.4 378.8M293.7 380L293.8 378.2M291.8 382L294.3 386.2M294.3 386.2L292.9 385.2M294.3 386.2L294.1 384.5M291.8 388.8L294.9 392.2M294.9 392.2L293.4 391.6M294.9 392.2L294.4 390.7M291.8 395.6L295.4 398M295.4 398L293.9 397.8M295.4 398L294.7 396.7M291.8 402.4L295.9 403.7M295.9 403.7L294.4 403.9M295.9 403.7L294.8 402.7M299.1 341.2L301.2 347.8M301.2 347.8L299.9 346.4M301.2 347.8L301.5 346M299.1 348L301.2 354.3M301.2 354.3L299.9 353M301.2 354.3L301.5 352.4M299.1 354.8L301.3 360.7M301.3 360.7L300 359.4M301.3 360.7L301.5 358.8M299.1 361.6L301.5 367.1M301.5 367.1L300.1 365.9M301.5 367.1L301.6 365.2M299.1 368.4L301.8 373.4M301.8 373.4L300.3 372.3M301.8 373.4L301.7 371.5M299.1 375.2L302.1 379.7M302.1 379.7L300.5 378.7M302.1 379.7L301.9 377.8M299.1 382L302.6 385.8M302.6 385.8L300.9 385.1M302.6 385.8L302 384.1M299.1 388.8L303 391.9M303 391.9L301.3 391.5M303 391.9L302.2 390.3M299.1 395.6L303.4 397.7M303.4 397.7L301.7 397.7M303.4 397.7L302.4 396.4M299.1 402.4L303.6 403.5M303.6 403.5L302.1 403.8M303.6 403.5L302.4 402.5M306.5 341.2L309.6 347.4M309.6 347.4L308.1 346.3M309.6 347.4L309.6 345.5M306.5 348L309.7 353.9M309.7 353.9L308.1 352.8M309.7 353.9L309.6 352M306.5 354.8L309.7 360.3M309.7 360.3L308.2 359.3M309.7 360.3L309.6 358.5M306.5 361.6L309.9 366.7M309.9 366.7L308.3 365.7M309.9 366.7L309.6 364.8M306.5 368.4L310.1 373M310.1 373L308.4 372.2M310.1 373L309.7 371.2M306.5 375.2L310.3 379.3M310.3 379.3L308.6 378.6M310.3 379.3L309.7 377.5M306.5 382L310.6 385.4M310.6 385.4L308.8 385M310.6 385.4L309.8 383.7M306.5 388.8L310.9 391.5M310.9 391.5L309.1 391.3M310.9 391.5L309.9 390M306.5 395.6L311.2 397.5M311.2 397.5L309.4 397.6M311.2 397.5L310 396.2M306.5 402.4L311.4 403.4M311.4 403.4L309.7 403.8M311.4 403.4L310 402.3M313.8 341.2L317.9 346.9M317.9 346.9L316.3 346M317.9 346.9L317.6 345.1M313.8 348L317.9 353.4M317.9 353.4L316.2 352.5M317.9 353.4L317.5 351.6M313.8 354.8L318 359.8M318 359.8L316.3 359M318 359.8L317.5 358M313.8 361.6L318.1 366.2M318.1 366.2L316.3 365.5M318.1 366.2L317.5 364.4M313.8 368.4L318.2 372.5M318.2 372.5L316.4 371.9M318.2 372.5L317.5 370.8M313.8 375.2L318.4 378.8M318.4 378.8L316.5 378.4M318.4 378.8L317.5 377.1M313.8 382L318.6 385M318.6 385L316.7 384.8M318.6 385L317.5 383.4M313.8 388.8L318.7 391.1M318.7 391.1L316.8 391.1M318.7 391.1L317.5 389.7M313.8 395.6L318.9 397.2M318.9 397.2L317.1 397.5M318.9 397.2L317.5 395.9M313.8 402.4L319 403.2M319 403.2L317.3 403.7M319 403.2L317.5 402.2M321.2 341.2L326.1 346.3M326.1 346.3L324.3 345.7M326.1 346.3L325.5 344.5M321.2 348L326.1 352.8M326.1 352.8L324.3 352.2M326.1 352.8L325.4 351.1M321.2 354.8L326.1 359.3M326.1 359.3L324.2 358.7M326.1 359.3L325.3 357.5M321.2 361.6L326.1 365.7M326.1 365.7L324.3 365.2M326.1 365.7L325.3 363.9M321.2 368.4L326.2 372M326.2 372L324.3 371.7M326.2 372L325.2 370.4M321.2 375.2L326.3 378.3M326.3 378.3L324.4 378.1M326.3 378.3L325.2 376.7M321.2 382L326.4 384.6M326.4 384.6L324.5 384.5M326.4 384.6L325.2 383.1M321.2 388.8L326.5 390.8M326.5 390.8L324.6 390.9M326.5 390.8L325.1 389.4M321.2 395.6L326.6 397M326.6 397L324.7 397.3M326.6 397L325.1 395.8M321.2 402.4L326.6 403.1M326.6 403.1L324.8 403.7M326.6 403.1L325 402.1M328.5 341.2L334.2 345.7M334.2 345.7L332.3 345.2M334.2 345.7L333.3 343.9M328.5 348L334.1 352.2M334.1 352.2L332.2 351.8M334.1 352.2L333.2 350.5M328.5 354.8L334 358.7M334 358.7L332.1 358.3M334 358.7L333.1 357M328.5 361.6L334 365.1M334 365.1L332.1 364.8M334 365.1L333 363.5M328.5 368.4L334 371.5M334 371.5L332.1 371.4M334 371.5L332.9 369.9M328.5 375.2L334 377.8M334 377.8L332.1 377.8M334 377.8L332.8 376.4M328.5 382L334.1 384.2M334.1 384.2L332.2 384.3M334.1 384.2L332.8 382.8M328.5 388.8L334.1 390.5M334.1 390.5L332.2 390.8M334.1 390.5L332.7 389.2M328.5 395.6L334.2 396.7M334.2 396.7L332.3 397.2M334.2 396.7L332.6 395.6M328.5 402.4L334.2 403M334.2 403L332.4 403.6M334.2 403L332.6 402M335.9 341.2L342.1 344.9M342.1 344.9L340.2 344.7M342.1 344.9L341 343.3M335.9 348L341.9 351.5M341.9 351.5L340.1 351.3M341.9 351.5L340.9 349.9M335.9 354.8L341.9 358M341.9 358L340 357.9M341.9 358L340.7 356.5M335.9 361.6L341.8 364.5M341.8 364.5L339.9 364.5M341.8 364.5L340.6 363M335.9 368.4L341.7 370.9M341.7 370.9L339.8 371M341.7 370.9L340.5 369.5M335.9 375.2L341.7 377.4M341.7 377.4L339.8 377.5M341.7 377.4L340.4 376M335.9 382L341.7 383.8M341.7 383.8L339.8 384.1M341.7 383.8L340.3 382.5M335.9 388.8L341.7 390.2M341.7 390.2L339.8 390.6M341.7 390.2L340.2 389M335.9 395.6L341.7 396.5M341.7 396.5L339.9 397.1M341.7 396.5L340.1 395.5M335.9 402.4L341.7 402.9M341.7 402.9L339.9 403.5M341.7 402.9L340.1 401.9M343.2 341.2L349.9 344.2M349.9 344.2L348 344.2M349.9 344.2L348.6 342.7M343.2 348L349.7 350.8M349.7 350.8L347.8 350.9M349.7 350.8L348.4 349.4M343.2 354.8L349.6 357.3M349.6 357.3L347.7 357.5M349.6 357.3L348.3 356M343.2 361.6L349.5 363.9M349.5 363.9L347.6 364.1M349.5 363.9L348.1 362.5M343.2 368.4L349.4 370.4M349.4 370.4L347.5 370.7M349.4 370.4L348 369.1M343.2 375.2L349.3 376.9M349.3 376.9L347.4 377.2M349.3 376.9L347.9 375.7M343.2 382L349.3 383.4M349.3 383.4L347.4 383.8M349.3 383.4L347.8 382.2M343.2 388.8L349.2 389.9M349.2 389.9L347.4 390.4M349.2 389.9L347.7 388.8M343.2 395.6L349.2 396.3M349.2 396.3L347.4 396.9M349.2 396.3L347.6 395.3M343.2 402.4L349.2 402.8M349.2 402.8L347.4 403.5M349.2 402.8L347.5 401.8M350.5 341.2L357.5 343.4M357.5 343.4L355.7 343.7M357.5 343.4L356.1 342.1M350.5 348L357.4 350.1M357.4 350.1L355.5 350.3M357.4 350.1L356 348.8M350.5 354.8L357.2 356.7M357.2 356.7L355.3 357M357.2 356.7L355.8 355.4M350.5 361.6L357.1 363.3M357.1 363.3L355.2 363.6M357.1 363.3L355.6 362.1M350.5 368.4L356.9 369.9M356.9 369.9L355.1 370.3M356.9 369.9L355.5 368.7M350.5 375.2L356.8 376.5M356.8 376.5L355 376.9M356.8 376.5L355.3 375.3M350.5 382L356.8 383M356.8 383L354.9 383.5M356.8 383L355.2 381.9M350.5 388.8L356.7 389.6M356.7 389.6L354.9 390.2M356.7 389.6L355.1 388.6M350.5 395.6L356.7 396.1M356.7 396.1L354.9 396.8M356.7 396.1L355 395.2M350.5 402.4L356.6 402.7M356.6 402.7L354.9 403.4M356.6 402.7L355 401.8"/>
<path fill="none" stroke="#7a7a7a" stroke-width="1.6" stroke-dasharray="1.7 1.6" d="M201.6 351.4H220.5M225.2 338.5H354.0"/>
<path fill="none" stroke="#000" stroke-width="1.7" d="M247.7 409.2H354.0"/>
<path fill="#fff" stroke="none" d="M221.0 293.6V374.6a1.70 1.36 0 0 0 3.40 0V293.6z"/>
<path fill="none" stroke="#000" stroke-width="1.25" stroke-linejoin="miter" d="M201.1 409.7V293.6H224.4V374.6a1.70 1.36 0 0 1 -3.40 0V293.6"/>
<path fill="#fff" stroke="none" d="M244.8 415.4V369.8a1.70 1.36 0 0 1 3.40 0V415.4z"/>
<path fill="none" stroke="#000" stroke-width="1.25" d="M201.1 409.2H244.8V369.8a1.70 1.36 0 0 1 3.40 0V410.0"/>
<path stroke="#999" stroke-width="0.6" fill="none" d="M200.6 416.0v-1.5M200.6 290.5v1.5M234.6 416.0v-1.5M234.6 290.5v1.5M268.6 416.0v-1.5M268.6 290.5v1.5M302.6 416.0v-1.5M302.6 290.5v1.5M336.6 416.0v-1.5M336.6 290.5v1.5M200.6 395.6h1.5M354.0 395.6h-1.5M200.6 368.4h1.5M354.0 368.4h-1.5M200.6 341.2h1.5M354.0 341.2h-1.5M200.6 314.0h1.5M354.0 314.0h-1.5"/>
<text class="tk" x="200.6" y="426.2" text-anchor="middle">0</text>
<text class="tk" x="234.6" y="426.2" text-anchor="middle">5</text>
<text class="tk" x="268.6" y="426.2" text-anchor="middle">10</text>
<text class="tk" x="302.6" y="426.2" text-anchor="middle">15</text>
<text class="tk" x="336.6" y="426.2" text-anchor="middle">20</text>
<text class="ax" x="276.8" y="435.6" text-anchor="middle">x [m]</text>
<text class="tl" x="349.0" y="302.0" text-anchor="end">t=4.19s (=4T/6)</text>
<rect x="365.0" y="290.5" width="153.4" height="125.5" fill="#fff" stroke="#b4b4b4" stroke-width="0.7"/>
<clipPath id="cp5"><rect x="365.0" y="341.2" width="153.4" height="68.0"/></clipPath>
<g clip-path="url(#cp5)">
<rect x="365.0" y="341.2" width="153.4" height="68.0" fill="#0015ff"/>
<path fill="#0020ff" d="M365 409.2l153 0 0-63.7-1.3 1-5.1 5.5-5.1 4.7-6.8 5.3-5.1 3.3-5.1 2.6-5.1 1.8-5.1 1.1-5.1 0.3-5.1-0.6-5.1-1.6-3.4-1.7-5.1-3.5-5.1-4.6-5.1-5.7-6.8-9-1.3-1.9-0.6-1.3-71.6 0 0 67.6z"/>
<path fill="#002bff" d="M365 409.2l46.2 0 0.1-34.4 3.4-0.2 1.7-0.6 1.7-1.2 1.5-1.4 1.2-1.7 1.3-3.4 0.4-1.7 0.2-3.4-0.3-3.4-0.6-3.4-3.6-13.2-53.2 0 0 67.6z"/>
<path fill="#0036ff" d="M365 409.2l46 0-0.3-39.5 0.8-1.7 0-1.7-0.2-1.7-0.9-3.4-2.5-5.7-4.1-7.9-1.2-3.4-0.5-3-37.1 0 0 67.6z"/>
<path fill="#0042ff" d="M365 409.2l45.8 0-0.2-27.6-0.9-11.9-0.1-0.3-1.7-0.5-1.7-0.9-6.8-4.7-3.4-1.8-3.4-1.1-1.7-0.3-3.4-0.1 0-18.8-22.5 0 0 67.6z"/>
<path fill="#004fff" d="M365 409.2l45.6 0-0.2-24.2-0.3-6.8-0.5-3.6-1.7-0.1-5.1-1.1-5.1-2.3-5.1-2-1.7-0.3-3.4-0.1-0.1-27.5-22.4 0 0 67.6z"/>
<path fill="#005bff" d="M365 409.2l45.4 0-0.1-20.8-0.7-10.9-3.4-0.2-1.7-0.4-3.4-1.2-8.5-3.9-1.7-0.5-3.4-0.2-0.2-6.5 0-23.4-22.3 0 0 67.6z"/>
<path fill="#0068ff" d="M365 409.2l45.2 0-0.1-17.4-0.5-10.8-3.4-0.3-3.4-1-3.4-1.6-6.8-4-1.7-0.8-1.7-0.3-1.7 0-0.3-5 0-26.8-22.2 0 0 67.6z"/>
<path fill="#0075ff" d="M365 409.2l45 0-0.4-23.9-1.7-0.1-3.4-0.6-3.4-1.5-3.4-2.2-5-4.4-1.8-1.3-3.4-1.7-0.2-0.4-0.3-5.1 0.1-26.8-22.1 0 0 67.6z"/>
<path fill="#0083ff" d="M365 409.2l44.8 0-0.2-17.8-3.4-0.3-1.7-0.5-3.4-1.8-1.7-1.2-3.4-3.3-5.8-7.8-1-0.7-0.5-1-1.2-0.9-0.5-0.8-0.2-5.1 0.2-26.8-22 0 0 67.6z"/>
<path fill="#0090ff" d="M365 409.2l44.6 0 0-3.2-1.7-0.3-1.7-0.9-1.7-1.4-5.1-5.4-3.4-4.7-3.4-6.4-1.7-4.1-2.8-8-0.6-0.4-0.7-1.3 0.1-31.9-21.9 0 0 67.6z"/>
<path fill="#009eff" d="M365 409.2l24.3 0-0.1-5.5-1.8-28.9-0.8-1.7 0.2-31.9-21.8 0 0 67.6z"/>
<path fill="#00abff" d="M365 409.2l10.8 0 0.4-3.8 0.5-1.7 5.7-13.5 1-3.5 0.7-1.7 0.7-3.4 1-3.2 0.5-5.3 0.4-31.9-21.7 0 0 67.6z"/>
<path fill="#00b8ff" d="M365 386.7l0 1.4 2.1-0.1 3.4-0.9 3.4-1.7 1.7-1.1 3.4-3 5.1-5.2 0.7-1.3 1-0.7 0.3-2.7 0.5-30.2-21.6 0 0 43.8z"/>
<path fill="#00c4ff" d="M365 378.2l0 1.2 2.1-0.1 3.4-0.6 5.1-1.7 6.8-3.2 3.4-0.7 0.7-31.9-21.5 0 0 35.3z"/>
<path fill="#00d1ff" d="M365 371.4l0 1 3.8-0.2 3.4-0.4 8.5-1.7 5.1-0.5 0.6-28.4-21.4 0 0 28.5z"/>
<path fill="#10daff" d="M365 364.6l0 1.4 20.8-1.2 0.5-23.6-21.3 0 0 21.7z"/>
<path fill="#31deff" d="M365 359.5l0 0.7 20.8-0.5 0.4-18.5-21.2 0 0 16.6z"/>
<path fill="#51e4ff" d="M365 354.4l20.8-0.1 0.3-13.1-21.1 0 0 11.5z"/>
<path fill="#72e8ff" d="M365 347.6l0 1.3 20.8-0.1 0.2-7.6-21 0 0 4.7z"/>
<path fill="#8decff" d="M365 342.5l0 0.9 20.8-0.1 0.1-2.1-20.9 0z"/>
<path fill="none" stroke="#ebf5be" stroke-opacity="0.6" stroke-width="0.95" d="M503.4 341.2l0 0.4-4.5 2.7-4.3 2.1-3.4 1.3-3.4 1-3.4 0.8-3.4 0.5-3.4 0.2-3.4-0.1-3.4-0.5-3.4-0.7-3.4-1.1-3.4-1.3-3.4-1.8-4.9-3.1 0-0.4M514.7 341.2l0 0.4-2.2 2.2-6 5.2-5.1 3.7-5.1 3.1-5.1 2.3-5.1 1.8-5.1 1-4.2 0.3-5.1-0.3-4.3-1-4.2-1.4-4.3-2.2-5.1-3.3-4.2-3.6-6-5.9-1.6-1.9 0-0.4M518 349.6l-0.4 0-6 6.8-6.8 6.5-5.9 4.9-6 4-5.9 3.2-5.1 1.8-5.1 1-2.6 0.2-2.5-0.1-2.6-0.4-2.5-0.6-4.3-1.8-4.2-2.6-4.3-3.6-4.2-4.6-5.1-6.6-7.7-11.6-2.8-4.5 0-0.4M439.1 409.2l0-14.9-0.1-7.6-0.6-8.5-1-6.8-1.4-6.8-2.1-6.8-2.5-6.8-4.1-9.4 0-0.4M518 364.8l-0.4 0-12.3 17.6-3.9 6-3 5.1-2.1 4.2-1.5 4.3-0.8 3.4-0.3 3.8M518 395l-0.4 0-1.1 5.3-0.5 4.2-0.2 4.7M413 380.6l2.6-0.4 1.7-0.6 2.5-1.5 1.7-1.5 1.5-1.8 1.1-1.8 1-2.5 0.7-2.5 0.4-2.6 0.1-2.5-0.2-2.6-0.5-3.4-1.2-5.1-3.3-10.2 0-0.4M413 371.3l1.7-0.4 0.9-0.5 1.7-1.6 1.3-2.5 0.5-1.7 0.3-2.6-0.1-3.4-0.5-3.4-3.7-14M412.7 368.5l0.9-1.4 0.6-1.7 0.2-2.5-0.2-2.6-0.9-4.2-3.6-11.1-0.8-3.8M411.3 368l-0.3-3.4-1-3.4-2.1-4.6-5.2-9.9-1.1-3.4-0.3-2.1M409.6 368l-0.8-1.9-2.6-3.9-2.5-3.1-3.4-3.5-3.4-2.9-2.6-1.7-2.5-1.2-2.6-0.5M408.9 368.7l-1.4-0.7-6.4-5.2-3.4-2.2-4.2-1.9-2.6-0.6-1.7-0.1M408.8 370.5l-1.7-0.3-1.7-0.6-6.8-3.7-3.4-1.4-3.4-0.9-2.6-0.3M408.8 373.3l-1.7-0.2-2.6-0.6-10.2-4.2-2.5-0.7-2.6-0.2M408.8 376.8l-2.6-0.3-2.5-0.6-2.6-1-7.6-3.4-2.6-0.7-1.7-0.2M408.8 381.3l-3.4-0.5-3.4-1.1-3.4-1.8-6-3.7-1.7-0.7-1.7-0.3M408.8 387.5l-2.6-0.3-1.7-0.5-1.7-0.7-2.5-1.4-3.4-2.6-6.4-6.4-1.4-0.7M408.8 399.2l-2.6-0.5-2.5-1.2-3.4-2.5-2.6-2.7-2.5-3.5-1.7-2.8-5-10.5M388.6 409.2l-1.2-33.6M365 404.7l2.1-0.4 1.7-1 1.7-1.4 3.4-3.3 3.4-4.2 2.6-4 2.5-5.1 2.6-6.4 0.9-3.3M365 388.7l2.1-0.2 2.6-0.6 2.5-1 2.6-1.6 4.2-3.6 4.8-5.2 1.5-1.4M365 381.7l3.8-0.4 3.4-0.9 4.3-2 6.2-3.6 2.3-0.8M365 376.6l3-0.2 3.4-0.5 3.4-1 6.8-2.3 3.4-0.6M365 372.3l5.5-0.3 10.2-2 4.3-0.4M365 368.5l5.5-0.3 10.2-1.1 4.3-0.3M365 364.9l4.7-0.1 15.3-0.9M365 361.4l20-0.6M365 358.1l20-0.4M365 354.7l20-0.2M365 351.4l20-0.1M365 348.2l20-0.1M365 344.9l20-0.1"/>
</g>
<clipPath id="ap5"><rect x="365.0" y="290.5" width="153.4" height="125.5"/></clipPath>
<path clip-path="url(#ap5)" fill="none" stroke="#ecca8a" stroke-opacity="0.78" stroke-width="0.9" d="M368.1 341.2L368 332.1M368 332.1L368.9 333.8M368 332.1L367.2 333.8M368.1 348L368 338.9M368 338.9L368.8 340.6M368 338.9L367.2 340.6M368.1 354.8L368 345.7M368 345.7L368.8 347.4M368 345.7L367.2 347.5M368.1 361.6L367.9 352.6M367.9 352.6L368.7 354.3M367.9 352.6L367.1 354.3M368.1 368.4L367.6 359.6M367.6 359.6L368.5 361.3M367.6 359.6L366.9 361.4M368.1 375.2L367.2 366.9M367.2 366.9L368.2 368.5M367.2 366.9L366.6 368.7M368.1 382L366.8 374.4M366.8 374.4L367.9 376M366.8 374.4L366.3 376.3M368.1 388.8L366.6 382.2M366.6 382.2L367.8 383.7M366.6 382.2L366.2 384M368.1 395.6L366.5 390M366.5 390L367.7 391.5M366.5 390L366.2 391.9M368.1 402.4L366 398.2M366 398.2L367.3 399.2M366 398.2L366 399.8M375.4 341.2L375.4 332.1M375.4 332.1L376.2 333.8M375.4 332.1L374.6 333.8M375.4 348L375.3 338.9M375.3 338.9L376.2 340.6M375.3 338.9L374.5 340.6M375.4 354.8L375.2 345.7M375.2 345.7L376.1 347.4M375.2 345.7L374.5 347.4M375.4 361.6L374.9 352.5M374.9 352.5L375.8 354.2M374.9 352.5L374.2 354.3M375.4 368.4L374.1 359.4M374.1 359.4L375.2 361M374.1 359.4L373.6 361.2M375.4 375.2L372.5 366.9M372.5 366.9L373.8 368.3M372.5 366.9L372.3 368.8M375.4 382L371.1 375.3M371.1 375.3L372.7 376.3M371.1 375.3L371.4 377.1M375.4 388.8L370.8 383.5M370.8 383.5L372.6 384.3M370.8 383.5L371.3 385.3M375.4 395.6L370.8 391.6M370.8 391.6L372.7 392.1M370.8 391.6L371.6 393.3M375.4 402.4L370.7 400M370.7 400L372.5 400M370.7 400L371.8 401.5M382.7 341.2L382.7 332.1M382.7 332.1L383.5 333.8M382.7 332.1L381.9 333.8M382.7 348L382.7 338.9M382.7 338.9L383.5 340.6M382.7 338.9L381.9 340.6M382.7 354.8L382.7 345.6M382.7 345.6L383.5 347.4M382.7 345.6L381.9 347.4M382.7 361.6L382.5 352.4M382.5 352.4L383.4 354.1M382.5 352.4L381.8 354.1M382.7 368.4L382 358.9M382 358.9L382.9 360.6M382 358.9L381.3 360.7M382.7 375.2L378 367M378 367L379.6 368.1M378 367L378.2 368.9M382.7 382L375.1 378.1M375.1 378.1L377 378.1M375.1 378.1L376.3 379.6M382.7 388.8L375.9 386.4M375.9 386.4L377.8 386.2M375.9 386.4L377.3 387.7M382.7 395.6L376.6 394M376.6 394L378.5 393.6M376.6 394L378.1 395.2M382.7 402.4L377.1 401.5M377.1 401.5L378.9 401M377.1 401.5L378.6 402.6M390.1 341.2L387.1 343.2M387.1 343.2L387.7 342.1M387.1 343.2L388.3 343M390.1 348L389 353.6M389 353.6L388.6 351.7M389 353.6L390.2 352M390.1 354.8L389.4 361.7M389.4 361.7L388.8 360M389.4 361.7L390.4 360.1M390.1 361.6L389.5 369.6M389.5 369.6L388.8 367.8M389.5 369.6L390.4 367.9M390.1 368.4L389.4 377.4M389.4 377.4L388.7 375.6M389.4 377.4L390.3 375.7M390.1 375.2L385 383.2M385 383.2L385.3 381.3M385 383.2L386.6 382.2M390.1 382L381.8 384.6M381.8 384.6L383.2 383.3M381.8 384.6L383.7 384.9M390.1 388.8L382.9 390.3M382.9 390.3L384.5 389.2M382.9 390.3L384.8 390.8M390.1 395.6L383.8 396.6M383.8 396.6L385.4 395.6M383.8 396.6L385.6 397.2M390.1 402.4L384.3 403M384.3 403L385.9 402M384.3 403L386.1 403.6M397.4 341.2L391.5 342.1M391.5 342.1L393 341.1M391.5 342.1L393.3 342.7M397.4 348L392.4 352M392.4 352L393.2 350.3M392.4 352L394.2 351.6M397.4 354.8L393.3 360.8M393.3 360.8L393.6 358.9M393.3 360.8L394.9 359.8M397.4 361.6L393.7 368.8M393.7 368.8L393.8 366.9M393.7 368.8L395.2 367.7M397.4 368.4L393.9 376.5M393.9 376.5L393.9 374.6M393.9 376.5L395.4 375.3M397.4 375.2L393.1 383M393.1 383L393.3 381.1M393.1 383L394.7 381.9M397.4 382L392.2 388.2M392.2 388.2L392.7 386.4M392.2 388.2L393.9 387.4M397.4 388.8L392.2 393.6M392.2 393.6L392.9 391.8M392.2 393.6L394 393M397.4 395.6L392.4 399.1M392.4 399.1L393.3 397.5M392.4 399.1L394.3 398.8M397.4 402.4L392.4 404.5M392.4 404.5L393.7 403.1M392.4 404.5L394.3 404.6M404.8 341.2L397.8 342.4M397.8 342.4L399.4 341.3M397.8 342.4L399.6 342.9M404.8 348L398.2 350.9M398.2 350.9L399.4 349.4M398.2 350.9L400.1 350.9M404.8 354.8L398.4 359.1M398.4 359.1L399.4 357.5M398.4 359.1L400.3 358.8M404.8 361.6L398.3 367.2M398.3 367.2L399.1 365.5M398.3 367.2L400.2 366.7M404.8 368.4L400.1 376.6M400.1 376.6L400.2 374.7M400.1 376.6L401.6 375.5M404.8 375.2L402.5 383.7M402.5 383.7L402.2 381.8M402.5 383.7L403.8 382.2M404.8 382L402.7 389.6M402.7 389.6L402.4 387.7M402.7 389.6L403.9 388.2M404.8 388.8L402.6 395.3M402.6 395.3L402.4 393.5M402.6 395.3L403.9 394M404.8 395.6L402.5 401M402.5 401L402.4 399.1M402.5 401L403.9 399.7M404.8 402.4L402 406.3M402 406.3L402.3 404.6M402 406.3L403.5 405.5M412.1 341.2L404.7 342.8M404.7 342.8L406.2 341.7M404.7 342.8L406.6 343.2M412.1 348L404.9 350.2M404.9 350.2L406.3 349M404.9 350.2L406.8 350.5M412.1 354.8L404.7 357.3M404.7 357.3L406.1 356M404.7 357.3L406.6 357.5M412.1 361.6L403.8 363.3M403.8 363.3L405.3 362.2M403.8 363.3L405.6 363.8M419.5 341.2L412.1 343.4M412.1 343.4L413.5 342.2M412.1 343.4L414 343.7M419.5 348L412.2 350.1M412.2 350.1L413.6 348.9M412.2 350.1L414.1 350.4M419.5 354.8L412.1 356.3M412.1 356.3L413.6 355.2M412.1 356.3L413.9 356.8M419.5 361.6L411.8 361.4M411.8 361.4L413.6 360.6M411.8 361.4L413.5 362.3M419.5 368.4L413 364.9M413 364.9L414.9 365M413 364.9L414.1 366.4M419.5 375.2L415.4 370.3M415.4 370.3L417.1 371.1M415.4 370.3L415.9 372.2M419.5 382L416.6 377.4M416.6 377.4L418.2 378.4M416.6 377.4L416.8 379.3M419.5 388.8L417.1 384.8M417.1 384.8L418.5 385.7M417.1 384.8L417.3 386.4M419.5 395.6L417.2 392.3M417.2 392.3L418.4 393M417.2 392.3L417.4 393.7M419.5 402.4L416.9 400.2M416.9 400.2L418.1 400.5M416.9 400.2L417.4 401.3M426.8 341.2L419.8 344.2M419.8 344.2L421 342.8M419.8 344.2L421.7 344.3M426.8 348L419.9 350.6M419.9 350.6L421.2 349.2M419.9 350.6L421.7 350.8M426.8 354.8L419.8 356.6M419.8 356.6L421.3 355.4M419.8 356.6L421.7 357M426.8 361.6L419.9 362.1M419.9 362.1L421.5 361.1M419.9 362.1L421.6 362.8M426.8 368.4L420.4 367.3M420.4 367.3L422.2 366.8M420.4 367.3L421.9 368.4M426.8 375.2L421.3 372.9M421.3 372.9L423.2 372.8M421.3 372.9L422.6 374.3M426.8 382L422.2 379.4M422.2 379.4L424.1 379.5M422.2 379.4L423.3 380.9M426.8 388.8L422.8 386.3M422.8 386.3L424.5 386.5M422.8 386.3L423.7 387.7M426.8 395.6L423.1 393.6M423.1 393.6L424.6 393.7M423.1 393.6L424 394.8M426.8 402.4L423.2 401.2M423.2 401.2L424.5 401M423.2 401.2L424.2 402.1M434.2 341.2L427.7 345.1M427.7 345.1L428.8 343.5M427.7 345.1L429.6 344.9M434.2 348L427.8 351.4M427.8 351.4L428.9 349.9M427.8 351.4L429.7 351.3M434.2 354.8L427.7 357.4M427.7 357.4L429 356M427.7 357.4L429.6 357.5M434.2 361.6L427.8 363.3M427.8 363.3L429.2 362.1M427.8 363.3L429.7 363.6M434.2 368.4L428 369.1M428 369.1L429.7 368.1M428 369.1L429.8 369.7M434.2 375.2L428.5 375M428.5 375L430.2 374.3M428.5 375L430.2 375.9M434.2 382L429.1 381.3M429.1 381.3L430.8 380.8M429.1 381.3L430.6 382.3M434.2 388.8L429.6 388M429.6 388L431.1 387.5M429.6 388L430.9 388.9M434.2 395.6L429.9 394.9M429.9 394.9L431.4 394.5M429.9 394.9L431.2 395.7M434.2 402.4L430.2 402M430.2 402L431.5 401.5M430.2 402L431.4 402.7M441.5 341.2L435.9 345.9M435.9 345.9L436.7 344.2M435.9 345.9L437.7 345.5M441.5 348L435.9 352.3M435.9 352.3L436.8 350.6M435.9 352.3L437.7 351.9M441.5 354.8L435.9 358.4M435.9 358.4L436.9 356.8M435.9 358.4L437.7 358.2M441.5 361.6L435.9 364.5M435.9 364.5L437 363M435.9 364.5L437.8 364.4M441.5 368.4L436 370.6M436 370.6L437.3 369.2M436 370.6L437.9 370.7M441.5 375.2L436.2 376.7M436.2 376.7L437.7 375.4M436.2 376.7L438.1 377M441.5 382L436.6 383M436.6 383L438 381.9M436.6 383L438.3 383.4M441.5 388.8L436.9 389.4M436.9 389.4L438.3 388.5M436.9 389.4L438.5 389.9M441.5 395.6L437.2 395.9M437.2 395.9L438.5 395.2M437.2 395.9L438.6 396.5M441.5 402.4L437.4 402.6M437.4 402.6L438.7 401.9M437.4 402.6L438.7 403.1M448.8 341.2L444.2 346.7M444.2 346.7L444.7 344.9M444.2 346.7L445.9 345.9M448.8 348L444.2 353.1M444.2 353.1L444.7 351.3M444.2 353.1L445.9 352.4M448.8 354.8L444.1 359.4M444.1 359.4L444.8 357.6M444.1 359.4L445.9 358.7M448.8 361.6L444.2 365.6M444.2 365.6L444.9 363.9M444.2 365.6L446 365.1M448.8 368.4L444.2 371.8M444.2 371.8L445.1 370.1M444.2 371.8L446.1 371.4M448.8 375.2L444.3 378.1M444.3 378.1L445.3 376.5M444.3 378.1L446.2 377.8M448.8 382L444.5 384.3M444.5 384.3L445.5 383M444.5 384.3L446.2 384.2M448.8 388.8L444.7 390.6M444.7 390.6L445.8 389.4M444.7 390.6L446.3 390.7M448.8 395.6L444.9 396.9M444.9 396.9L445.9 395.9M444.9 396.9L446.3 397.1M448.8 402.4L445 403.1M445 403.1L446.1 402.3M445 403.1L446.3 403.5M456.2 341.2L452.6 347.4M452.6 347.4L452.8 345.5M452.6 347.4L454.2 346.3M456.2 348L452.6 353.8M452.6 353.8L452.8 351.9M452.6 353.8L454.2 352.8M456.2 354.8L452.6 360.1M452.6 360.1L452.9 358.3M452.6 360.1L454.2 359.2M456.2 361.6L452.6 366.5M452.6 366.5L453 364.6M452.6 366.5L454.3 365.6M456.2 368.4L452.7 372.8M452.7 372.8L453.1 371M452.7 372.8L454.4 372M456.2 375.2L452.7 379.1M452.7 379.1L453.2 377.4M452.7 379.1L454.4 378.4M456.2 382L452.9 385.5M452.9 385.5L453.4 383.9M452.9 385.5L454.4 384.9M456.2 388.8L452.9 391.8M452.9 391.8L453.5 390.3M452.9 391.8L454.4 391.3M456.2 395.6L452.9 397.9M452.9 397.9L453.6 396.7M452.9 397.9L454.3 397.7M456.2 402.4L452.8 403.8M452.8 403.8L453.7 402.8M452.8 403.8L454.1 403.8M463.5 341.2L461.2 347.9M461.2 347.9L461 346M461.2 347.9L462.5 346.5M463.5 348L461.2 354.3M461.2 354.3L461 352.4M461.2 354.3L462.5 353M463.5 354.8L461.2 360.7M461.2 360.7L461.1 358.8M461.2 360.7L462.6 359.4M463.5 361.6L461.2 367.1M461.2 367.1L461.1 365.2M461.2 367.1L462.6 365.9M463.5 368.4L461.3 373.5M461.3 373.5L461.2 371.6M461.3 373.5L462.7 372.3M463.5 375.2L461.4 379.9M461.4 379.9L461.4 378.1M461.4 379.9L462.8 378.7M463.5 382L461.5 386.3M461.5 386.3L461.5 384.6M461.5 386.3L462.8 385.2M463.5 388.8L461.6 392.7M461.6 392.7L461.7 391.2M461.6 392.7L462.8 391.7M463.5 395.6L461.6 398.9M461.6 398.9L461.7 397.6M461.6 398.9L462.7 398.1M463.5 402.4L461.3 404.8M461.3 404.8L461.7 403.7M461.3 404.8L462.4 404.3M470.9 341.2L469.8 348.1M469.8 348.1L469.2 346.3M469.8 348.1L470.8 346.6M470.9 348L469.8 354.6M469.8 354.6L469.3 352.8M469.8 354.6L470.9 353.1M470.9 354.8L469.8 361.1M469.8 361.1L469.3 359.2M469.8 361.1L470.9 359.5M470.9 361.6L469.9 367.5M469.9 367.5L469.4 365.7M469.9 367.5L471 365.9M470.9 368.4L470 373.9M470 373.9L469.5 372.1M470 373.9L471.1 372.4M470.9 375.2L470.2 380.4M470.2 380.4L469.6 378.6M470.2 380.4L471.2 378.8M470.9 382L470.4 386.8M470.4 386.8L469.8 385.2M470.4 386.8L471.3 385.3M470.9 388.8L470.7 393.1M470.7 393.1L470.1 391.7M470.7 393.1L471.4 391.8M470.9 395.6L471 399.4M471 399.4L470.4 398.2M471 399.4L471.5 398.2M470.9 402.4L471.5 405.4M471.5 405.4L470.9 404.6M471.5 405.4L471.8 404.4M478.2 341.2L478.4 348.2M478.4 348.2L477.5 346.5M478.4 348.2L479.1 346.5M478.2 348L478.4 354.7M478.4 354.7L477.5 353M478.4 354.7L479.1 353M478.2 354.8L478.4 361.2M478.4 361.2L477.6 359.5M478.4 361.2L479.2 359.4M478.2 361.6L478.5 367.6M478.5 367.6L477.6 365.9M478.5 367.6L479.3 365.8M478.2 368.4L478.7 374M478.7 374L477.7 372.4M478.7 374L479.4 372.2M478.2 375.2L478.9 380.4M478.9 380.4L477.9 378.9M478.9 380.4L479.5 378.7M478.2 382L479.2 386.8M479.2 386.8L478.2 385.4M479.2 386.8L479.6 385.1M478.2 388.8L479.7 393M479.7 393L478.6 391.9M479.7 393L479.8 391.5M478.2 395.6L480.3 399.1M480.3 399.1L479.1 398.3M480.3 399.1L480.1 397.7M478.2 402.4L481 404.6M481 404.6L479.8 404.4M481 404.6L480.5 403.5M485.6 341.2L486.9 348.1M486.9 348.1L485.8 346.6M486.9 348.1L487.4 346.3M485.6 348L486.9 354.6M486.9 354.6L485.8 353.1M486.9 354.6L487.4 352.8M485.6 354.8L487 361M487 361L485.8 359.6M487 361L487.4 359.2M485.6 361.6L487.1 367.5M487.1 367.5L485.9 366M487.1 367.5L487.5 365.6M485.6 368.4L487.3 373.9M487.3 373.9L486 372.5M487.3 373.9L487.6 372M485.6 375.2L487.6 380.2M487.6 380.2L486.2 378.9M487.6 380.2L487.7 378.3M485.6 382L487.9 386.5M487.9 386.5L486.5 385.4M487.9 386.5L487.8 384.7M485.6 388.8L488.3 392.6M488.3 392.6L486.9 391.8M488.3 392.6L488 391M485.6 395.6L488.9 398.5M488.9 398.5L487.4 398.1M488.9 398.5L488.3 397.1M485.6 402.4L489.4 404.1M489.4 404.1L487.9 404.1M489.4 404.1L488.4 403M492.9 341.2L495.4 347.8M495.4 347.8L494 346.5M495.4 347.8L495.5 345.9M492.9 348L495.4 354.3M495.4 354.3L494 353M495.4 354.3L495.5 352.4M492.9 354.8L495.5 360.7M495.5 360.7L494 359.5M495.5 360.7L495.5 358.9M492.9 361.6L495.6 367.2M495.6 367.2L494.1 366M495.6 367.2L495.6 365.3M492.9 368.4L495.7 373.5M495.7 373.5L494.2 372.4M495.7 373.5L495.6 371.6M492.9 375.2L496 379.8M496 379.8L494.4 378.9M496 379.8L495.7 378M492.9 382L496.3 386.1M496.3 386.1L494.6 385.3M496.3 386.1L495.8 384.3M492.9 388.8L496.6 392.1M496.6 392.1L495 391.6M496.6 392.1L496 390.5M492.9 395.6L497 398M497 398L495.4 397.9M497 398L496.1 396.6M492.9 402.4L497.3 403.7M497.3 403.7L495.7 404M497.3 403.7L496.1 402.6M500.3 341.2L503.8 347.4M503.8 347.4L502.2 346.3M503.8 347.4L503.6 345.5M500.3 348L503.8 353.9M503.8 353.9L502.2 352.8M503.8 353.9L503.6 352M500.3 354.8L503.8 360.3M503.8 360.3L502.2 359.3M503.8 360.3L503.6 358.4M500.3 361.6L503.9 366.7M503.9 366.7L502.2 365.8M503.9 366.7L503.6 364.8M500.3 368.4L504 373.1M504 373.1L502.3 372.2M504 373.1L503.6 371.2M500.3 375.2L504.2 379.4M504.2 379.4L502.4 378.7M504.2 379.4L503.6 377.5M500.3 382L504.4 385.6M504.4 385.6L502.6 385.1M504.4 385.6L503.6 383.8M500.3 388.8L504.7 391.7M504.7 391.7L502.9 391.4M504.7 391.7L503.7 390.1M500.3 395.6L504.9 397.6M504.9 397.6L503.1 397.7M504.9 397.6L503.8 396.3M500.3 402.4L505.1 403.5M505.1 403.5L503.4 403.8M505.1 403.5L503.7 402.4M507.6 341.2L512 346.8M512 346.8L510.3 346M512 346.8L511.6 345M507.6 348L512 353.3M512 353.3L510.3 352.5M512 353.3L511.5 351.5M507.6 354.8L512 359.8M512 359.8L510.2 359M512 359.8L511.5 358M507.6 361.6L512 366.2M512 366.2L510.3 365.5M512 366.2L511.4 364.4M507.6 368.4L512.1 372.5M512.1 372.5L510.3 372M512.1 372.5L511.4 370.8M507.6 375.2L512.2 378.8M512.2 378.8L510.4 378.4M512.2 378.8L511.4 377.1M507.6 382L512.4 385.1M512.4 385.1L510.5 384.8M512.4 385.1L511.4 383.5M507.6 388.8L512.5 391.2M512.5 391.2L510.6 391.2M512.5 391.2L511.4 389.7M507.6 395.6L512.7 397.3M512.7 397.3L510.8 397.5M512.7 397.3L511.3 396M507.6 402.4L512.8 403.3M512.8 403.3L511 403.8M512.8 403.3L511.3 402.2M514.9 341.2L520.2 346.2M520.2 346.2L518.4 345.6M520.2 346.2L519.5 344.4M514.9 348L520.1 352.7M520.1 352.7L518.3 352.2M520.1 352.7L519.4 351M514.9 354.8L520.1 359.2M520.1 359.2L518.2 358.7M520.1 359.2L519.3 357.4M514.9 361.6L520.1 365.6M520.1 365.6L518.2 365.2M520.1 365.6L519.2 363.9M514.9 368.4L520.1 372M520.1 372L518.2 371.7M520.1 372L519.1 370.3M514.9 375.2L520.1 378.3M520.1 378.3L518.2 378.1M520.1 378.3L519.1 376.7M514.9 382L520.2 384.6M520.2 384.6L518.3 384.6M520.2 384.6L519 383.1M514.9 388.8L520.3 390.8M520.3 390.8L518.4 391M520.3 390.8L519 389.4M514.9 395.6L520.4 397M520.4 397L518.5 397.3M520.4 397L518.9 395.8M514.9 402.4L520.4 403.1M520.4 403.1L518.6 403.7M520.4 403.1L518.8 402.1"/>
<path fill="none" stroke="#7a7a7a" stroke-width="1.6" stroke-dasharray="1.7 1.6" d="M366.0 340.9H384.9M389.6 338.5H518.4"/>
<path fill="none" stroke="#000" stroke-width="1.7" d="M412.1 409.2H518.4"/>
<path fill="#fff" stroke="none" d="M385.4 293.6V374.6a1.70 1.36 0 0 0 3.40 0V293.6z"/>
<path fill="none" stroke="#000" stroke-width="1.25" stroke-linejoin="miter" d="M365.5 409.7V293.6H388.8V374.6a1.70 1.36 0 0 1 -3.40 0V293.6"/>
<path fill="#fff" stroke="none" d="M409.2 415.4V369.8a1.70 1.36 0 0 1 3.40 0V415.4z"/>
<path fill="none" stroke="#000" stroke-width="1.25" d="M365.5 409.2H409.2V369.8a1.70 1.36 0 0 1 3.40 0V410.0"/>
<path stroke="#999" stroke-width="0.6" fill="none" d="M365.0 416.0v-1.5M365.0 290.5v1.5M399.0 416.0v-1.5M399.0 290.5v1.5M433.0 416.0v-1.5M433.0 290.5v1.5M467.0 416.0v-1.5M467.0 290.5v1.5M501.0 416.0v-1.5M501.0 290.5v1.5M365.0 395.6h1.5M518.4 395.6h-1.5M365.0 368.4h1.5M518.4 368.4h-1.5M365.0 341.2h1.5M518.4 341.2h-1.5M365.0 314.0h1.5M518.4 314.0h-1.5"/>
<text class="tk" x="365.0" y="426.2" text-anchor="middle">0</text>
<text class="tk" x="399.0" y="426.2" text-anchor="middle">5</text>
<text class="tk" x="433.0" y="426.2" text-anchor="middle">10</text>
<text class="tk" x="467.0" y="426.2" text-anchor="middle">15</text>
<text class="tk" x="501.0" y="426.2" text-anchor="middle">20</text>
<text class="ax" x="441.2" y="435.6" text-anchor="middle">x [m]</text>
<text class="tl" x="513.4" y="302.0" text-anchor="end">t=5.23s (=5T/6)</text>
<linearGradient id="cb0" x1="0" y1="0" x2="0" y2="1"><stop offset="0.000" stop-color="#ffffff"/><stop offset="0.042" stop-color="#eefaff"/><stop offset="0.083" stop-color="#dcf5ff"/><stop offset="0.125" stop-color="#aff0ff"/><stop offset="0.167" stop-color="#82ebff"/><stop offset="0.208" stop-color="#41e1ff"/><stop offset="0.250" stop-color="#00d7ff"/><stop offset="0.292" stop-color="#00beff"/><stop offset="0.333" stop-color="#00a5ff"/><stop offset="0.375" stop-color="#008aff"/><stop offset="0.417" stop-color="#006eff"/><stop offset="0.458" stop-color="#0055ff"/><stop offset="0.500" stop-color="#003cff"/><stop offset="0.542" stop-color="#0026ff"/><stop offset="0.583" stop-color="#000fff"/><stop offset="0.625" stop-color="#0008eb"/><stop offset="0.667" stop-color="#0000d7"/><stop offset="0.708" stop-color="#0000be"/><stop offset="0.750" stop-color="#0000a5"/><stop offset="0.792" stop-color="#00008a"/><stop offset="0.833" stop-color="#00006e"/><stop offset="0.875" stop-color="#000052"/><stop offset="0.917" stop-color="#000037"/><stop offset="0.958" stop-color="#00001c"/><stop offset="1.000" stop-color="#000000"/></linearGradient><rect x="521.8" y="137.6" width="5.8" height="126.0" fill="url(#cb0)" stroke="#aaa" stroke-width="0.6"/>
<text class="cbs" x="529.0" y="256.6">-5</text>
<text class="cbs" x="529.0" y="246.0">-4</text>
<text class="cbs" x="529.0" y="235.4">-3</text>
<text class="cbs" x="529.0" y="224.8">-2</text>
<text class="cbs" x="529.0" y="214.2">-1</text>
<text class="cbs" x="529.0" y="203.6">0</text>
<text class="cbs" x="529.0" y="193.0">1</text>
<text class="cbs" x="529.0" y="182.4">2</text>
<text class="cbs" x="529.0" y="171.8">3</text>
<text class="cbs" x="529.0" y="161.2">4</text>
<text class="cbs" x="529.0" y="150.6">5</text>
<linearGradient id="cb1" x1="0" y1="0" x2="0" y2="1"><stop offset="0.000" stop-color="#ffffff"/><stop offset="0.042" stop-color="#eefaff"/><stop offset="0.083" stop-color="#dcf5ff"/><stop offset="0.125" stop-color="#aff0ff"/><stop offset="0.167" stop-color="#82ebff"/><stop offset="0.208" stop-color="#41e1ff"/><stop offset="0.250" stop-color="#00d7ff"/><stop offset="0.292" stop-color="#00beff"/><stop offset="0.333" stop-color="#00a5ff"/><stop offset="0.375" stop-color="#008aff"/><stop offset="0.417" stop-color="#006eff"/><stop offset="0.458" stop-color="#0055ff"/><stop offset="0.500" stop-color="#003cff"/><stop offset="0.542" stop-color="#0026ff"/><stop offset="0.583" stop-color="#000fff"/><stop offset="0.625" stop-color="#0008eb"/><stop offset="0.667" stop-color="#0000d7"/><stop offset="0.708" stop-color="#0000be"/><stop offset="0.750" stop-color="#0000a5"/><stop offset="0.792" stop-color="#00008a"/><stop offset="0.833" stop-color="#00006e"/><stop offset="0.875" stop-color="#000052"/><stop offset="0.917" stop-color="#000037"/><stop offset="0.958" stop-color="#00001c"/><stop offset="1.000" stop-color="#000000"/></linearGradient><rect x="520.8" y="290.2" width="5.8" height="126.0" fill="url(#cb1)" stroke="#aaa" stroke-width="0.6"/>
<text class="cbs" x="528.0" y="408.4">-5</text>
<text class="cbs" x="528.0" y="397.8">-4</text>
<text class="cbs" x="528.0" y="387.2">-3</text>
<text class="cbs" x="528.0" y="376.6">-2</text>
<text class="cbs" x="528.0" y="366.0">-1</text>
<text class="cbs" x="528.0" y="355.4">0</text>
<text class="cbs" x="528.0" y="344.8">1</text>
<text class="cbs" x="528.0" y="334.2">2</text>
<text class="cbs" x="528.0" y="323.6">3</text>
<text class="cbs" x="528.0" y="313.0">4</text>
<text class="cbs" x="528.0" y="302.4">5</text>
<path d="M14 442.6H537M14 477.2H537" stroke="#c8c8c8" stroke-width="1.2" fill="none"/>
<linearGradient id="lgc" x1="0" y1="0" x2="1" y2="0"><stop offset="0" stop-color="#000018"/><stop offset="0.3" stop-color="#0010c8"/><stop offset="0.55" stop-color="#0050ff"/><stop offset="0.8" stop-color="#00c0ff"/><stop offset="1" stop-color="#c8f2ff"/></linearGradient>
<rect x="16.6" y="450" width="35.4" height="5.4" fill="url(#lgc)" stroke="#445" stroke-width="0.4"/>
<text class="lg" x="59.5" y="456.6" style="font-style:normal;font-size:11px" textLength="93" lengthAdjust="spacingAndGlyphs">ℜ<tspan style="font-style:italic">e</tspan><tspan style="font-size:13.5px" dy="0.6">{</tspan><tspan dy="-0.6">φ(</tspan><tspan style="font-style:italic">x</tspan>,<tspan style="font-style:italic">z</tspan>) exp(−<tspan style="font-style:italic">iωt</tspan>)<tspan style="font-size:13.5px" dy="0.6">}</tspan></text>
<path d="M161.5 453.3H184" stroke="#b4dcf0" stroke-width="1"/>
<text class="lg" x="192" y="455.8" textLength="75" lengthAdjust="spacingAndGlyphs">Equipotential lines</text>
<path d="M273.4 453.3H292" stroke="#6a6a6a" stroke-width="2" stroke-dasharray="2.4 1.5"/>
<text class="lg" x="296.3" y="455.8" textLength="87.7" lengthAdjust="spacingAndGlyphs">Free Surface elevation</text>
<path d="M392 449.6h10m-2.5-1.4l2.5 1.4l-2.5 1.4M392 453.3h10m-2.5-1.4l2.5 1.4l-2.5 1.4M392 457h10m-2.5-1.4l2.5 1.4l-2.5 1.4" stroke="#e8c66a" stroke-width="0.9" fill="none"/>
<text class="lg" x="407.3" y="455.8" textLength="51.7" lengthAdjust="spacingAndGlyphs">Velocity field</text>
<path d="M16.4 470.4H55" stroke="#000" stroke-width="1.8"/>
<text class="lg" x="62.4" y="474" textLength="46.6" lengthAdjust="spacingAndGlyphs">Bathymetry</text>
<rect x="125.6" y="468.8" width="30.4" height="3.4" fill="#fff" stroke="#000" stroke-width="1.1"/>
<text class="lg" x="162.8" y="474" textLength="56.8" lengthAdjust="spacingAndGlyphs">U-OWC Walls</text>
</svg></body></html>
